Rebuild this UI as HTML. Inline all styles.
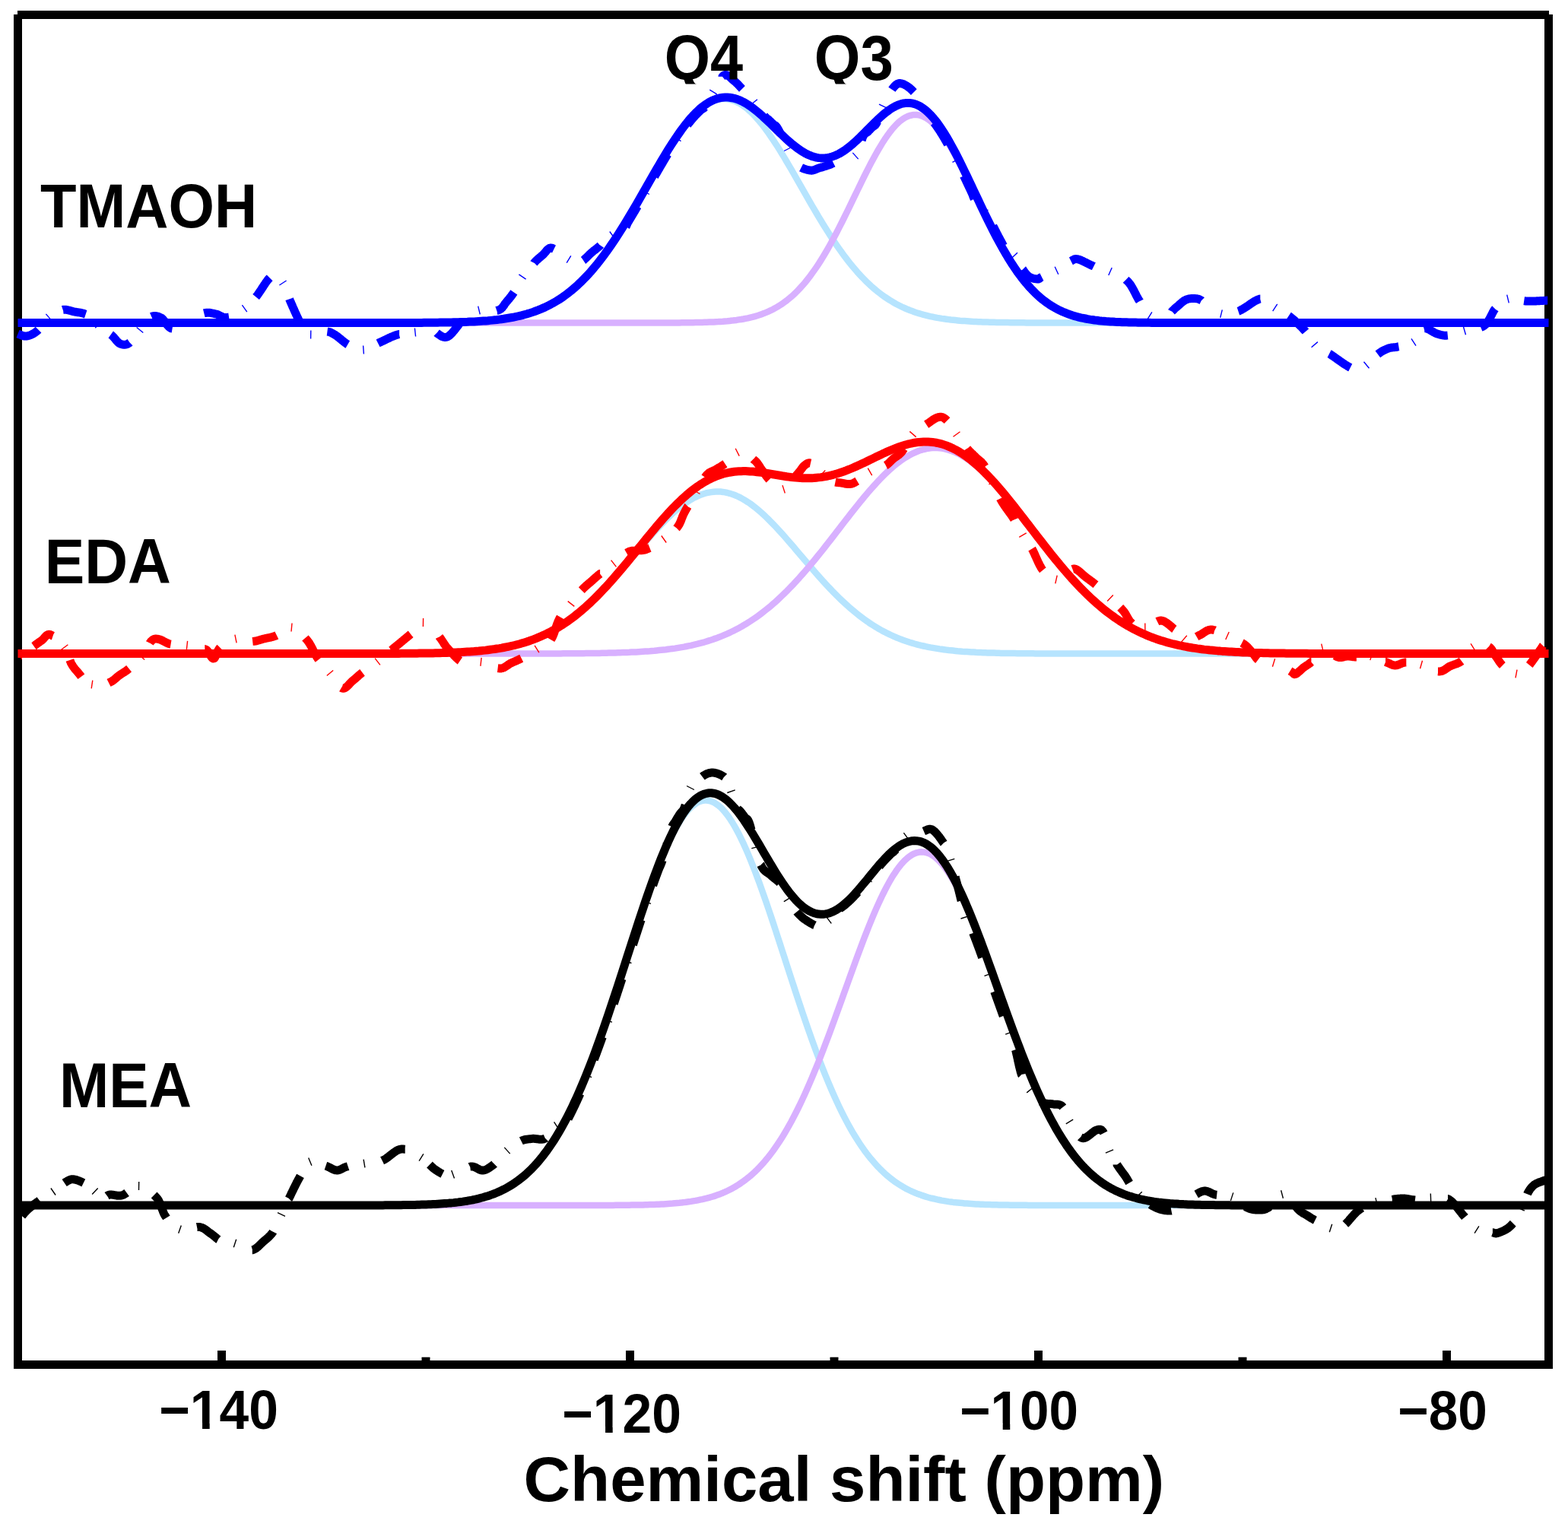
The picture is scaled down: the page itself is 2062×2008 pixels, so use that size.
<!DOCTYPE html><html><head><meta charset="utf-8"><title>29Si NMR spectra</title><style>html,body{margin:0;padding:0;background:#fff}svg{display:block}</style></head><body>
<svg width="2062" height="2008" viewBox="0 0 2062 2008">
<defs><clipPath id="qclip"><rect x="0" y="0" width="2062" height="110.5"/></clipPath></defs>
<rect width="2062" height="2008" fill="#fff"/>
<g fill="#000">
<rect x="23" y="14" width="2014" height="11"/>
<rect x="18" y="19" width="11" height="1781"/>
<rect x="2031" y="19" width="11" height="1781"/>
<rect x="18" y="1789" width="2024" height="11"/>
<rect x="286" y="1776" width="11" height="13"/>
<rect x="554.5" y="1784.7" width="11" height="4.3"/>
<rect x="823" y="1776" width="11" height="13"/>
<rect x="1091.5" y="1784.7" width="11" height="4.3"/>
<rect x="1360" y="1776" width="11" height="13"/>
<rect x="1628.5" y="1784.7" width="11" height="4.3"/>
<rect x="1897" y="1776" width="11" height="13"/>
</g>
<g fill="none" stroke-linejoin="round">
<path d="M24 424.5 L26.5 424.5 L29.5 424.5 L32.5 424.5 L35.5 424.5 L38.5 424.5 L41.5 424.5 L44.5 424.5 L47.5 424.5 L50.5 424.5 L53.5 424.5 L56.5 424.5 L59.5 424.5 L62.5 424.5 L65.5 424.5 L68.5 424.5 L71.5 424.5 L74.5 424.5 L77.5 424.5 L80.5 424.5 L83.5 424.5 L86.5 424.5 L89.5 424.5 L92.5 424.5 L95.5 424.5 L98.5 424.5 L101.5 424.5 L104.5 424.5 L107.5 424.5 L110.5 424.5 L113.5 424.5 L116.5 424.5 L119.5 424.5 L122.5 424.5 L125.5 424.5 L128.5 424.5 L131.5 424.5 L134.5 424.5 L137.5 424.5 L140.5 424.5 L143.5 424.5 L146.5 424.5 L149.5 424.5 L152.5 424.5 L155.5 424.5 L158.5 424.5 L161.5 424.5 L164.5 424.5 L167.5 424.5 L170.5 424.5 L173.5 424.5 L176.5 424.5 L179.5 424.5 L182.5 424.5 L185.5 424.5 L188.5 424.5 L191.5 424.5 L194.5 424.5 L197.5 424.5 L200.5 424.5 L203.5 424.5 L206.5 424.5 L209.5 424.5 L212.5 424.5 L215.5 424.5 L218.5 424.5 L221.5 424.5 L224.5 424.5 L227.5 424.5 L230.5 424.5 L233.5 424.5 L236.5 424.5 L239.5 424.5 L242.5 424.5 L245.5 424.5 L248.5 424.5 L251.5 424.5 L254.5 424.5 L257.5 424.5 L260.5 424.5 L263.5 424.5 L266.5 424.5 L269.5 424.5 L272.5 424.5 L275.5 424.5 L278.5 424.5 L281.5 424.5 L284.5 424.5 L287.5 424.5 L290.5 424.5 L293.5 424.5 L296.5 424.5 L299.5 424.5 L302.5 424.5 L305.5 424.5 L308.5 424.5 L311.5 424.5 L314.5 424.5 L317.5 424.5 L320.5 424.5 L323.5 424.5 L326.5 424.5 L329.5 424.5 L332.5 424.5 L335.5 424.5 L338.5 424.5 L341.5 424.5 L344.5 424.5 L347.5 424.5 L350.5 424.5 L353.5 424.5 L356.5 424.5 L359.5 424.5 L362.5 424.5 L365.5 424.5 L368.5 424.5 L371.5 424.5 L374.5 424.5 L377.5 424.5 L380.5 424.5 L383.5 424.5 L386.5 424.5 L389.5 424.5 L392.5 424.5 L395.5 424.5 L398.5 424.5 L401.5 424.5 L404.5 424.5 L407.5 424.5 L410.5 424.5 L413.5 424.5 L416.5 424.5 L419.5 424.5 L422.5 424.5 L425.5 424.5 L428.5 424.5 L431.5 424.5 L434.5 424.5 L437.5 424.5 L440.5 424.5 L443.5 424.5 L446.5 424.5 L449.5 424.5 L452.5 424.5 L455.5 424.5 L458.5 424.5 L461.5 424.5 L464.5 424.5 L467.5 424.5 L470.5 424.5 L473.5 424.5 L476.5 424.5 L479.5 424.5 L482.5 424.5 L485.5 424.5 L488.5 424.5 L491.5 424.5 L494.5 424.5 L497.5 424.5 L500.5 424.5 L503.5 424.5 L506.5 424.5 L509.5 424.5 L512.5 424.5 L515.5 424.5 L518.5 424.5 L521.5 424.5 L524.5 424.5 L527.5 424.4 L530.5 424.4 L533.5 424.4 L536.5 424.4 L539.5 424.4 L542.5 424.4 L545.5 424.4 L548.5 424.4 L551.5 424.4 L554.5 424.4 L557.5 424.3 L560.5 424.3 L563.5 424.3 L566.5 424.3 L569.5 424.2 L572.5 424.2 L575.5 424.2 L578.5 424.1 L581.5 424.1 L584.5 424.1 L587.5 424 L590.5 424 L593.5 423.9 L596.5 423.8 L599.5 423.8 L602.5 423.7 L605.5 423.6 L608.5 423.5 L611.5 423.4 L614.5 423.3 L617.5 423.1 L620.5 423 L623.5 422.9 L626.5 422.7 L629.5 422.5 L632.5 422.3 L635.5 422.1 L638.5 421.9 L641.5 421.7 L644.5 421.4 L647.5 421.1 L650.5 420.8 L653.5 420.5 L656.5 420.1 L659.5 419.7 L662.5 419.3 L665.5 418.8 L668.5 418.3 L671.5 417.8 L674.5 417.3 L677.5 416.7 L680.5 416 L683.5 415.3 L686.5 414.6 L689.5 413.8 L692.5 413 L695.5 412.1 L698.5 411.1 L701.5 410.1 L704.5 409 L707.5 407.9 L710.5 406.7 L713.5 405.4 L716.5 404.1 L719.5 402.6 L722.5 401.1 L725.5 399.5 L728.5 397.9 L731.5 396.1 L734.5 394.3 L737.5 392.3 L740.5 390.3 L743.5 388.1 L746.5 385.9 L749.5 383.5 L752.5 381.1 L755.5 378.5 L758.5 375.9 L761.5 373.1 L764.5 370.2 L767.5 367.2 L770.5 364.1 L773.5 360.9 L776.5 357.6 L779.5 354.1 L782.5 350.5 L785.5 346.9 L788.5 343.1 L791.5 339.2 L794.5 335.2 L797.5 331.1 L800.5 326.8 L803.5 322.5 L806.5 318.1 L809.5 313.6 L812.5 309 L815.5 304.3 L818.5 299.5 L821.5 294.6 L824.5 289.7 L827.5 284.7 L830.5 279.7 L833.5 274.6 L836.5 269.4 L839.5 264.2 L842.5 259 L845.5 253.8 L848.5 248.5 L851.5 243.2 L854.5 238 L857.5 232.8 L860.5 227.5 L863.5 222.4 L866.5 217.2 L869.5 212.1 L872.5 207.1 L875.5 202.2 L878.5 197.3 L881.5 192.5 L884.5 187.9 L887.5 183.3 L890.5 178.9 L893.5 174.6 L896.5 170.5 L899.5 166.5 L902.5 162.7 L905.5 159 L908.5 155.5 L911.5 152.3 L914.5 149.2 L917.5 146.3 L920.5 143.7 L923.5 141.2 L926.5 139 L929.5 137 L932.5 135.3 L935.5 133.8 L938.5 132.5 L941.5 131.5 L944.5 130.8 L947.5 130.3 L950.5 130 L953.5 130 L956.5 130.3 L959.5 130.8 L962.5 131.6 L965.5 132.6 L968.5 133.9 L971.5 135.4 L974.5 137.2 L977.5 139.1 L980.5 141.4 L983.5 143.8 L986.5 146.5 L989.5 149.4 L992.5 152.5 L995.5 155.8 L998.5 159.2 L1001.5 162.9 L1004.5 166.7 L1007.5 170.7 L1010.5 174.9 L1013.5 179.2 L1016.5 183.6 L1019.5 188.2 L1022.5 192.8 L1025.5 197.6 L1028.5 202.5 L1031.5 207.4 L1034.5 212.5 L1037.5 217.6 L1040.5 222.7 L1043.5 227.9 L1046.5 233.1 L1049.5 238.3 L1052.5 243.6 L1055.5 248.9 L1058.5 254.1 L1061.5 259.3 L1064.5 264.6 L1067.5 269.8 L1070.5 274.9 L1073.5 280 L1076.5 285.1 L1079.5 290 L1082.5 295 L1085.5 299.8 L1088.5 304.6 L1091.5 309.3 L1094.5 313.9 L1097.5 318.4 L1100.5 322.8 L1103.5 327.1 L1106.5 331.3 L1109.5 335.4 L1112.5 339.4 L1115.5 343.3 L1118.5 347.1 L1121.5 350.8 L1124.5 354.3 L1127.5 357.8 L1130.5 361.1 L1133.5 364.3 L1136.5 367.4 L1139.5 370.4 L1142.5 373.3 L1145.5 376.1 L1148.5 378.7 L1151.5 381.3 L1154.5 383.7 L1157.5 386 L1160.5 388.3 L1163.5 390.4 L1166.5 392.4 L1169.5 394.4 L1172.5 396.2 L1175.5 398 L1178.5 399.7 L1181.5 401.2 L1184.5 402.7 L1187.5 404.2 L1190.5 405.5 L1193.5 406.8 L1196.5 408 L1199.5 409.1 L1202.5 410.2 L1205.5 411.2 L1208.5 412.1 L1211.5 413 L1214.5 413.9 L1217.5 414.6 L1220.5 415.4 L1223.5 416.1 L1226.5 416.7 L1229.5 417.3 L1232.5 417.9 L1235.5 418.4 L1238.5 418.9 L1241.5 419.3 L1244.5 419.7 L1247.5 420.1 L1250.5 420.5 L1253.5 420.8 L1256.5 421.1 L1259.5 421.4 L1262.5 421.7 L1265.5 421.9 L1268.5 422.1 L1271.5 422.3 L1274.5 422.5 L1277.5 422.7 L1280.5 422.9 L1283.5 423 L1286.5 423.2 L1289.5 423.3 L1292.5 423.4 L1295.5 423.5 L1298.5 423.6 L1301.5 423.7 L1304.5 423.8 L1307.5 423.8 L1310.5 423.9 L1313.5 424 L1316.5 424 L1319.5 424.1 L1322.5 424.1 L1325.5 424.1 L1328.5 424.2 L1331.5 424.2 L1334.5 424.2 L1337.5 424.3 L1340.5 424.3 L1343.5 424.3 L1346.5 424.3 L1349.5 424.4 L1352.5 424.4 L1355.5 424.4 L1358.5 424.4 L1361.5 424.4 L1364.5 424.4 L1367.5 424.4 L1370.5 424.4 L1373.5 424.4 L1376.5 424.5 L1379.5 424.5 L1382.5 424.5 L1385.5 424.5 L1388.5 424.5 L1391.5 424.5 L1394.5 424.5 L1397.5 424.5 L1400.5 424.5 L1403.5 424.5 L1406.5 424.5 L1409.5 424.5 L1412.5 424.5 L1415.5 424.5 L1418.5 424.5 L1421.5 424.5 L1424.5 424.5 L1427.5 424.5 L1430.5 424.5 L1433.5 424.5 L1436.5 424.5 L1439.5 424.5 L1442.5 424.5 L1445.5 424.5 L1448.5 424.5 L1451.5 424.5 L1454.5 424.5 L1457.5 424.5 L1460.5 424.5 L1463.5 424.5 L1466.5 424.5 L1469.5 424.5 L1472.5 424.5 L1475.5 424.5 L1478.5 424.5 L1481.5 424.5 L1484.5 424.5 L1487.5 424.5 L1490.5 424.5 L1493.5 424.5 L1496.5 424.5 L1499.5 424.5 L1502.5 424.5 L1505.5 424.5 L1508.5 424.5 L1511.5 424.5 L1514.5 424.5 L1517.5 424.5 L1520.5 424.5 L1523.5 424.5 L1526.5 424.5 L1529.5 424.5 L1532.5 424.5 L1535.5 424.5 L1538.5 424.5 L1541.5 424.5 L1544.5 424.5 L1547.5 424.5 L1550.5 424.5 L1553.5 424.5 L1556.5 424.5 L1559.5 424.5 L1562.5 424.5 L1565.5 424.5 L1568.5 424.5 L1571.5 424.5 L1574.5 424.5 L1577.5 424.5 L1580.5 424.5 L1583.5 424.5 L1586.5 424.5 L1589.5 424.5 L1592.5 424.5 L1595.5 424.5 L1598.5 424.5 L1601.5 424.5 L1604.5 424.5 L1607.5 424.5 L1610.5 424.5 L1613.5 424.5 L1616.5 424.5 L1619.5 424.5 L1622.5 424.5 L1625.5 424.5 L1628.5 424.5 L1631.5 424.5 L1634.5 424.5 L1637.5 424.5 L1640.5 424.5 L1643.5 424.5 L1646.5 424.5 L1649.5 424.5 L1652.5 424.5 L1655.5 424.5 L1658.5 424.5 L1661.5 424.5 L1664.5 424.5 L1667.5 424.5 L1670.5 424.5 L1673.5 424.5 L1676.5 424.5 L1679.5 424.5 L1682.5 424.5 L1685.5 424.5 L1688.5 424.5 L1691.5 424.5 L1694.5 424.5 L1697.5 424.5 L1700.5 424.5 L1703.5 424.5 L1706.5 424.5 L1709.5 424.5 L1712.5 424.5 L1715.5 424.5 L1718.5 424.5 L1721.5 424.5 L1724.5 424.5 L1727.5 424.5 L1730.5 424.5 L1733.5 424.5 L1736.5 424.5 L1739.5 424.5 L1742.5 424.5 L1745.5 424.5 L1748.5 424.5 L1751.5 424.5 L1754.5 424.5 L1757.5 424.5 L1760.5 424.5 L1763.5 424.5 L1766.5 424.5 L1769.5 424.5 L1772.5 424.5 L1775.5 424.5 L1778.5 424.5 L1781.5 424.5 L1784.5 424.5 L1787.5 424.5 L1790.5 424.5 L1793.5 424.5 L1796.5 424.5 L1799.5 424.5 L1802.5 424.5 L1805.5 424.5 L1808.5 424.5 L1811.5 424.5 L1814.5 424.5 L1817.5 424.5 L1820.5 424.5 L1823.5 424.5 L1826.5 424.5 L1829.5 424.5 L1832.5 424.5 L1835.5 424.5 L1838.5 424.5 L1841.5 424.5 L1844.5 424.5 L1847.5 424.5 L1850.5 424.5 L1853.5 424.5 L1856.5 424.5 L1859.5 424.5 L1862.5 424.5 L1865.5 424.5 L1868.5 424.5 L1871.5 424.5 L1874.5 424.5 L1877.5 424.5 L1880.5 424.5 L1883.5 424.5 L1886.5 424.5 L1889.5 424.5 L1892.5 424.5 L1895.5 424.5 L1898.5 424.5 L1901.5 424.5 L1904.5 424.5 L1907.5 424.5 L1910.5 424.5 L1913.5 424.5 L1916.5 424.5 L1919.5 424.5 L1922.5 424.5 L1925.5 424.5 L1928.5 424.5 L1931.5 424.5 L1934.5 424.5 L1937.5 424.5 L1940.5 424.5 L1943.5 424.5 L1946.5 424.5 L1949.5 424.5 L1952.5 424.5 L1955.5 424.5 L1958.5 424.5 L1961.5 424.5 L1964.5 424.5 L1967.5 424.5 L1970.5 424.5 L1973.5 424.5 L1976.5 424.5 L1979.5 424.5 L1982.5 424.5 L1985.5 424.5 L1988.5 424.5 L1991.5 424.5 L1994.5 424.5 L1997.5 424.5 L2000.5 424.5 L2003.5 424.5 L2006.5 424.5 L2009.5 424.5 L2012.5 424.5 L2015.5 424.5 L2018.5 424.5 L2021.5 424.5 L2024.5 424.5 L2027.5 424.5 L2030.5 424.5 L2033.5 424.5 L2036 424.5" stroke="#B6E4FE" stroke-width="8.5"/>
<path d="M24 424.5 L26.5 424.5 L29.5 424.5 L32.5 424.5 L35.5 424.5 L38.5 424.5 L41.5 424.5 L44.5 424.5 L47.5 424.5 L50.5 424.5 L53.5 424.5 L56.5 424.5 L59.5 424.5 L62.5 424.5 L65.5 424.5 L68.5 424.5 L71.5 424.5 L74.5 424.5 L77.5 424.5 L80.5 424.5 L83.5 424.5 L86.5 424.5 L89.5 424.5 L92.5 424.5 L95.5 424.5 L98.5 424.5 L101.5 424.5 L104.5 424.5 L107.5 424.5 L110.5 424.5 L113.5 424.5 L116.5 424.5 L119.5 424.5 L122.5 424.5 L125.5 424.5 L128.5 424.5 L131.5 424.5 L134.5 424.5 L137.5 424.5 L140.5 424.5 L143.5 424.5 L146.5 424.5 L149.5 424.5 L152.5 424.5 L155.5 424.5 L158.5 424.5 L161.5 424.5 L164.5 424.5 L167.5 424.5 L170.5 424.5 L173.5 424.5 L176.5 424.5 L179.5 424.5 L182.5 424.5 L185.5 424.5 L188.5 424.5 L191.5 424.5 L194.5 424.5 L197.5 424.5 L200.5 424.5 L203.5 424.5 L206.5 424.5 L209.5 424.5 L212.5 424.5 L215.5 424.5 L218.5 424.5 L221.5 424.5 L224.5 424.5 L227.5 424.5 L230.5 424.5 L233.5 424.5 L236.5 424.5 L239.5 424.5 L242.5 424.5 L245.5 424.5 L248.5 424.5 L251.5 424.5 L254.5 424.5 L257.5 424.5 L260.5 424.5 L263.5 424.5 L266.5 424.5 L269.5 424.5 L272.5 424.5 L275.5 424.5 L278.5 424.5 L281.5 424.5 L284.5 424.5 L287.5 424.5 L290.5 424.5 L293.5 424.5 L296.5 424.5 L299.5 424.5 L302.5 424.5 L305.5 424.5 L308.5 424.5 L311.5 424.5 L314.5 424.5 L317.5 424.5 L320.5 424.5 L323.5 424.5 L326.5 424.5 L329.5 424.5 L332.5 424.5 L335.5 424.5 L338.5 424.5 L341.5 424.5 L344.5 424.5 L347.5 424.5 L350.5 424.5 L353.5 424.5 L356.5 424.5 L359.5 424.5 L362.5 424.5 L365.5 424.5 L368.5 424.5 L371.5 424.5 L374.5 424.5 L377.5 424.5 L380.5 424.5 L383.5 424.5 L386.5 424.5 L389.5 424.5 L392.5 424.5 L395.5 424.5 L398.5 424.5 L401.5 424.5 L404.5 424.5 L407.5 424.5 L410.5 424.5 L413.5 424.5 L416.5 424.5 L419.5 424.5 L422.5 424.5 L425.5 424.5 L428.5 424.5 L431.5 424.5 L434.5 424.5 L437.5 424.5 L440.5 424.5 L443.5 424.5 L446.5 424.5 L449.5 424.5 L452.5 424.5 L455.5 424.5 L458.5 424.5 L461.5 424.5 L464.5 424.5 L467.5 424.5 L470.5 424.5 L473.5 424.5 L476.5 424.5 L479.5 424.5 L482.5 424.5 L485.5 424.5 L488.5 424.5 L491.5 424.5 L494.5 424.5 L497.5 424.5 L500.5 424.5 L503.5 424.5 L506.5 424.5 L509.5 424.5 L512.5 424.5 L515.5 424.5 L518.5 424.5 L521.5 424.5 L524.5 424.5 L527.5 424.5 L530.5 424.5 L533.5 424.5 L536.5 424.5 L539.5 424.5 L542.5 424.5 L545.5 424.5 L548.5 424.5 L551.5 424.5 L554.5 424.5 L557.5 424.5 L560.5 424.5 L563.5 424.5 L566.5 424.5 L569.5 424.5 L572.5 424.5 L575.5 424.5 L578.5 424.5 L581.5 424.5 L584.5 424.5 L587.5 424.5 L590.5 424.5 L593.5 424.5 L596.5 424.5 L599.5 424.5 L602.5 424.5 L605.5 424.5 L608.5 424.5 L611.5 424.5 L614.5 424.5 L617.5 424.5 L620.5 424.5 L623.5 424.5 L626.5 424.5 L629.5 424.5 L632.5 424.5 L635.5 424.5 L638.5 424.5 L641.5 424.5 L644.5 424.5 L647.5 424.5 L650.5 424.5 L653.5 424.5 L656.5 424.5 L659.5 424.5 L662.5 424.5 L665.5 424.5 L668.5 424.5 L671.5 424.5 L674.5 424.5 L677.5 424.5 L680.5 424.5 L683.5 424.5 L686.5 424.5 L689.5 424.5 L692.5 424.5 L695.5 424.5 L698.5 424.5 L701.5 424.5 L704.5 424.5 L707.5 424.5 L710.5 424.5 L713.5 424.5 L716.5 424.5 L719.5 424.5 L722.5 424.5 L725.5 424.5 L728.5 424.5 L731.5 424.5 L734.5 424.5 L737.5 424.5 L740.5 424.5 L743.5 424.5 L746.5 424.5 L749.5 424.5 L752.5 424.5 L755.5 424.5 L758.5 424.5 L761.5 424.5 L764.5 424.5 L767.5 424.5 L770.5 424.5 L773.5 424.5 L776.5 424.5 L779.5 424.5 L782.5 424.5 L785.5 424.5 L788.5 424.5 L791.5 424.5 L794.5 424.5 L797.5 424.5 L800.5 424.5 L803.5 424.5 L806.5 424.5 L809.5 424.5 L812.5 424.5 L815.5 424.5 L818.5 424.5 L821.5 424.5 L824.5 424.5 L827.5 424.5 L830.5 424.5 L833.5 424.5 L836.5 424.5 L839.5 424.5 L842.5 424.5 L845.5 424.5 L848.5 424.5 L851.5 424.5 L854.5 424.5 L857.5 424.5 L860.5 424.5 L863.5 424.5 L866.5 424.5 L869.5 424.5 L872.5 424.4 L875.5 424.4 L878.5 424.4 L881.5 424.4 L884.5 424.4 L887.5 424.4 L890.5 424.4 L893.5 424.4 L896.5 424.3 L899.5 424.3 L902.5 424.3 L905.5 424.2 L908.5 424.2 L911.5 424.2 L914.5 424.1 L917.5 424 L920.5 424 L923.5 423.9 L926.5 423.8 L929.5 423.7 L932.5 423.6 L935.5 423.5 L938.5 423.4 L941.5 423.2 L944.5 423.1 L947.5 422.9 L950.5 422.7 L953.5 422.4 L956.5 422.2 L959.5 421.9 L962.5 421.6 L965.5 421.2 L968.5 420.9 L971.5 420.4 L974.5 420 L977.5 419.5 L980.5 418.9 L983.5 418.3 L986.5 417.6 L989.5 416.9 L992.5 416.1 L995.5 415.2 L998.5 414.3 L1001.5 413.2 L1004.5 412.1 L1007.5 410.9 L1010.5 409.6 L1013.5 408.2 L1016.5 406.7 L1019.5 405.1 L1022.5 403.4 L1025.5 401.5 L1028.5 399.6 L1031.5 397.4 L1034.5 395.2 L1037.5 392.8 L1040.5 390.3 L1043.5 387.6 L1046.5 384.7 L1049.5 381.7 L1052.5 378.5 L1055.5 375.2 L1058.5 371.7 L1061.5 368 L1064.5 364.2 L1067.5 360.1 L1070.5 355.9 L1073.5 351.6 L1076.5 347.1 L1079.5 342.4 L1082.5 337.5 L1085.5 332.5 L1088.5 327.3 L1091.5 322 L1094.5 316.5 L1097.5 311 L1100.5 305.2 L1103.5 299.4 L1106.5 293.5 L1109.5 287.5 L1112.5 281.4 L1115.5 275.3 L1118.5 269.1 L1121.5 262.9 L1124.5 256.7 L1127.5 250.5 L1130.5 244.3 L1133.5 238.1 L1136.5 232 L1139.5 226 L1142.5 220.1 L1145.5 214.3 L1148.5 208.7 L1151.5 203.2 L1154.5 197.9 L1157.5 192.8 L1160.5 187.9 L1163.5 183.2 L1166.5 178.8 L1169.5 174.7 L1172.5 170.8 L1175.5 167.3 L1178.5 164 L1181.5 161.1 L1184.5 158.6 L1187.5 156.4 L1190.5 154.5 L1193.5 153.1 L1196.5 152 L1199.5 151.3 L1202.5 150.9 L1205.5 151 L1208.5 151.4 L1211.5 152.2 L1214.5 153.4 L1217.5 155 L1220.5 156.9 L1223.5 159.2 L1226.5 161.9 L1229.5 164.9 L1232.5 168.2 L1235.5 171.8 L1238.5 175.7 L1241.5 179.9 L1244.5 184.4 L1247.5 189.1 L1250.5 194.1 L1253.5 199.3 L1256.5 204.6 L1259.5 210.2 L1262.5 215.9 L1265.5 221.7 L1268.5 227.6 L1271.5 233.7 L1274.5 239.8 L1277.5 245.9 L1280.5 252.1 L1283.5 258.3 L1286.5 264.6 L1289.5 270.8 L1292.5 276.9 L1295.5 283.1 L1298.5 289.1 L1301.5 295.1 L1304.5 301 L1307.5 306.8 L1310.5 312.5 L1313.5 318 L1316.5 323.4 L1319.5 328.7 L1322.5 333.8 L1325.5 338.8 L1328.5 343.6 L1331.5 348.3 L1334.5 352.8 L1337.5 357.1 L1340.5 361.2 L1343.5 365.2 L1346.5 369 L1349.5 372.6 L1352.5 376.1 L1355.5 379.4 L1358.5 382.5 L1361.5 385.5 L1364.5 388.3 L1367.5 391 L1370.5 393.5 L1373.5 395.8 L1376.5 398 L1379.5 400.1 L1382.5 402.1 L1385.5 403.9 L1388.5 405.6 L1391.5 407.2 L1394.5 408.6 L1397.5 410 L1400.5 411.3 L1403.5 412.4 L1406.5 413.5 L1409.5 414.5 L1412.5 415.5 L1415.5 416.3 L1418.5 417.1 L1421.5 417.8 L1424.5 418.5 L1427.5 419.1 L1430.5 419.6 L1433.5 420.1 L1436.5 420.5 L1439.5 421 L1442.5 421.3 L1445.5 421.7 L1448.5 422 L1451.5 422.3 L1454.5 422.5 L1457.5 422.7 L1460.5 422.9 L1463.5 423.1 L1466.5 423.3 L1469.5 423.4 L1472.5 423.5 L1475.5 423.7 L1478.5 423.8 L1481.5 423.8 L1484.5 423.9 L1487.5 424 L1490.5 424.1 L1493.5 424.1 L1496.5 424.2 L1499.5 424.2 L1502.5 424.2 L1505.5 424.3 L1508.5 424.3 L1511.5 424.3 L1514.5 424.4 L1517.5 424.4 L1520.5 424.4 L1523.5 424.4 L1526.5 424.4 L1529.5 424.4 L1532.5 424.4 L1535.5 424.4 L1538.5 424.5 L1541.5 424.5 L1544.5 424.5 L1547.5 424.5 L1550.5 424.5 L1553.5 424.5 L1556.5 424.5 L1559.5 424.5 L1562.5 424.5 L1565.5 424.5 L1568.5 424.5 L1571.5 424.5 L1574.5 424.5 L1577.5 424.5 L1580.5 424.5 L1583.5 424.5 L1586.5 424.5 L1589.5 424.5 L1592.5 424.5 L1595.5 424.5 L1598.5 424.5 L1601.5 424.5 L1604.5 424.5 L1607.5 424.5 L1610.5 424.5 L1613.5 424.5 L1616.5 424.5 L1619.5 424.5 L1622.5 424.5 L1625.5 424.5 L1628.5 424.5 L1631.5 424.5 L1634.5 424.5 L1637.5 424.5 L1640.5 424.5 L1643.5 424.5 L1646.5 424.5 L1649.5 424.5 L1652.5 424.5 L1655.5 424.5 L1658.5 424.5 L1661.5 424.5 L1664.5 424.5 L1667.5 424.5 L1670.5 424.5 L1673.5 424.5 L1676.5 424.5 L1679.5 424.5 L1682.5 424.5 L1685.5 424.5 L1688.5 424.5 L1691.5 424.5 L1694.5 424.5 L1697.5 424.5 L1700.5 424.5 L1703.5 424.5 L1706.5 424.5 L1709.5 424.5 L1712.5 424.5 L1715.5 424.5 L1718.5 424.5 L1721.5 424.5 L1724.5 424.5 L1727.5 424.5 L1730.5 424.5 L1733.5 424.5 L1736.5 424.5 L1739.5 424.5 L1742.5 424.5 L1745.5 424.5 L1748.5 424.5 L1751.5 424.5 L1754.5 424.5 L1757.5 424.5 L1760.5 424.5 L1763.5 424.5 L1766.5 424.5 L1769.5 424.5 L1772.5 424.5 L1775.5 424.5 L1778.5 424.5 L1781.5 424.5 L1784.5 424.5 L1787.5 424.5 L1790.5 424.5 L1793.5 424.5 L1796.5 424.5 L1799.5 424.5 L1802.5 424.5 L1805.5 424.5 L1808.5 424.5 L1811.5 424.5 L1814.5 424.5 L1817.5 424.5 L1820.5 424.5 L1823.5 424.5 L1826.5 424.5 L1829.5 424.5 L1832.5 424.5 L1835.5 424.5 L1838.5 424.5 L1841.5 424.5 L1844.5 424.5 L1847.5 424.5 L1850.5 424.5 L1853.5 424.5 L1856.5 424.5 L1859.5 424.5 L1862.5 424.5 L1865.5 424.5 L1868.5 424.5 L1871.5 424.5 L1874.5 424.5 L1877.5 424.5 L1880.5 424.5 L1883.5 424.5 L1886.5 424.5 L1889.5 424.5 L1892.5 424.5 L1895.5 424.5 L1898.5 424.5 L1901.5 424.5 L1904.5 424.5 L1907.5 424.5 L1910.5 424.5 L1913.5 424.5 L1916.5 424.5 L1919.5 424.5 L1922.5 424.5 L1925.5 424.5 L1928.5 424.5 L1931.5 424.5 L1934.5 424.5 L1937.5 424.5 L1940.5 424.5 L1943.5 424.5 L1946.5 424.5 L1949.5 424.5 L1952.5 424.5 L1955.5 424.5 L1958.5 424.5 L1961.5 424.5 L1964.5 424.5 L1967.5 424.5 L1970.5 424.5 L1973.5 424.5 L1976.5 424.5 L1979.5 424.5 L1982.5 424.5 L1985.5 424.5 L1988.5 424.5 L1991.5 424.5 L1994.5 424.5 L1997.5 424.5 L2000.5 424.5 L2003.5 424.5 L2006.5 424.5 L2009.5 424.5 L2012.5 424.5 L2015.5 424.5 L2018.5 424.5 L2021.5 424.5 L2024.5 424.5 L2027.5 424.5 L2030.5 424.5 L2033.5 424.5 L2036 424.5" stroke="#D8B0FF" stroke-width="8.5"/>
<path d="M23.5 439 L23.5 439 L24 439.2 L24.7 439.4 L25.5 439.8 L26.4 440.1 L27.3 440.5 L28.4 440.9 L29.4 441.3 L30.6 441.6 L31.7 441.9 L32.8 442 L33.9 442.1 L35 442 L35.8 441.9 L36.6 441.7 L37.5 441.5 L38.3 441.2 L39.2 440.9 L40 440.6 L40.9 440.2 L41.8 439.8 L42.7 439.4 L43.6 438.9 L44.5 438.3 L45.4 437.8 L46.3 437.1 L47.2 436.5 L48.1 435.8 L49 435 L49.6 434.5 L50.2 433.9 L50.5 433.6 M82.7 407.4 L83 407.3 L84 407.2 L84.9 407.2 L85.9 407.2 L86.9 407.3 L87.8 407.4 L88.7 407.6 L89.7 407.8 L90.6 408 L91.5 408.3 L92.4 408.5 L93.4 408.8 L94.3 409.1 L95.2 409.3 L96.1 409.6 L97.1 409.8 L98 410 L98.9 410.2 L99.9 410.3 L100.8 410.5 L101.8 410.6 L102.7 410.8 L103.6 410.9 L104.6 411 L105.5 411.2 L106.5 411.4 L107.4 411.6 L108.4 411.8 L109.3 412 L110.2 412.3 L111.2 412.7 L112.1 413.1 L112.7 413.3 M145.7 440 L146.4 440.5 L147 441 L147.9 441.8 L148.7 442.6 L149.4 443.4 L150.1 444.2 L150.8 445 L151.5 445.8 L152.2 446.6 L152.8 447.4 L153.4 448.1 L154.1 448.8 L154.7 449.5 L155.3 450.1 L156 450.7 L156.6 451.2 L157.3 451.6 L158 452 L158.9 452.4 L159.8 452.7 L160.7 452.9 L161.6 453.1 L162.5 453.2 L163.4 453.3 L164.3 453.2 L165.2 453.1 L166.1 452.9 L167.1 452.6 L168 452.2 L169 451.6 L170 451 L170.6 450.6 L170.7 450.5 M199.2 416.4 L199.9 416.1 L200.8 415.8 L201.7 415.6 L202.7 415.5 L203.6 415.5 L204.5 415.5 L205.5 415.6 L206.4 415.8 L207.3 416 L208.3 416.3 L209.2 416.7 L210.1 417.1 L211.1 417.5 L212 418 L212.7 418.4 L213.4 419 L214 419.6 L214.7 420.3 L215.3 421.1 L216 421.9 L216.6 422.8 L217.3 423.7 L217.9 424.6 L218.6 425.5 L219.2 426.4 L219.9 427.3 L220.6 428.1 L221.3 428.9 L222 429.7 L222.8 430.3 L223.5 430.9 L224.3 431.4 L225.1 431.8 L226 432 L226.6 432.1 M268.3 411.9 L269.1 411.7 L270.1 411.5 L271.1 411.3 L272.1 411.2 L273.1 411.2 L274.1 411.2 L275 411.2 L275.9 411.3 L276.8 411.5 L277.7 411.6 L278.6 411.8 L279.5 412 L280.4 412.2 L281.3 412.4 L282.2 412.6 L283.1 412.8 L284 413 L285 413.2 L285.9 413.5 L286.8 413.9 L287.6 414.3 L288.5 414.7 L289.4 415.2 L290.2 415.6 L291.1 416.1 L292 416.5 L292.9 416.9 L293.8 417.2 L294.7 417.4 L295.7 417.6 L296.8 417.7 L297.9 417.7 L299 417.5 L299.7 417.3 L300.5 417.1 L301.1 417 M336.6 390.5 L337 390 L337.5 389.3 L338.1 388.6 L338.7 387.8 L339.2 387.1 L339.8 386.2 L340.4 385.4 L341 384.5 L341.6 383.6 L342.2 382.7 L342.8 381.8 L343.5 380.9 L344.1 379.9 L344.7 379 L345.3 378.1 L345.9 377.1 L346.5 376.2 L347.1 375.3 L347.7 374.4 L348.3 373.5 L348.9 372.7 L349.4 371.8 L350 371 L350.5 370.3 L351.1 369.5 L351.6 368.8 L352.1 368.2 L352.6 367.5 L353.1 367 L353.6 366.5 L354 366 L354.7 365.3 M380.6 393.3 L380.7 393.6 L381.1 394.5 L381.4 395.3 L381.8 396.2 L382.2 397.1 L382.6 398.1 L383 399 L383.4 400 L383.9 400.9 L384.3 401.9 L384.7 402.9 L385.1 403.9 L385.6 404.8 L386 405.8 L386.4 406.8 L386.9 407.8 L387.3 408.7 L387.7 409.7 L388.1 410.6 L388.6 411.6 L389 412.5 L389.4 413.4 L389.8 414.3 L390.2 415.1 L390.6 415.9 L390.9 416.8 L391.3 417.5 L391.7 418.3 L392 419 L392.6 420.2 L393.1 421.4 L393.7 422.5 L394.2 423.5 L394.2 423.7 M430.4 436.1 L431.2 436.2 L432.1 436.3 L432.9 436.5 L433.7 436.7 L434.5 437 L435.2 437.4 L436.1 437.8 L436.9 438.2 L437.8 438.8 L438.9 439.3 L440 440 L440.7 440.4 L441.3 440.8 L442 441.3 L442.8 441.8 L443.5 442.4 L444.3 443 L445 443.6 L445.8 444.2 L446.6 444.9 L447.4 445.5 L448.2 446.2 L449.1 446.9 L449.9 447.6 L450.7 448.2 L451.6 448.9 L452.4 449.6 L453.2 450.2 L454.1 450.8 L454.9 451.4 L455.8 452 L456.6 452.6 L457.3 453 M497.1 451.4 L497.3 451.3 L498.2 450.8 L499.1 450.4 L500 450 L500.9 449.6 L501.7 449.2 L502.6 448.8 L503.5 448.4 L504.4 448 L505.2 447.5 L506.1 447.1 L507 446.7 L507.9 446.3 L508.8 445.8 L509.7 445.4 L510.5 445 L511.4 444.6 L512.3 444.1 L513.2 443.7 L514.1 443.3 L515 442.9 L515.9 442.6 L516.8 442.2 L517.7 441.8 L518.6 441.5 L519.5 441.2 L520.3 440.8 L521.2 440.5 L522.1 440.3 L523 440 L524 439.7 L524.9 439.5 L525.1 439.5 M574.3 437.8 L574.4 437.9 L575.3 438.6 L576.2 439.2 L577.1 439.8 L577.9 440.4 L578.8 441 L579.7 441.6 L580.6 442.1 L581.5 442.6 L582.4 442.9 L583.3 443.2 L584.2 443.4 L585.1 443.5 L586.1 443.5 L587 443.3 L588 443 L588.6 442.7 L589.3 442.4 L589.9 442 L590.6 441.5 L591.3 441 L591.9 440.4 L592.6 439.7 L593.3 439.1 L594 438.4 L594.7 437.6 L595.4 436.8 L596.1 436 L596.8 435.2 L597.5 434.3 L598.2 433.4 L598.9 432.5 L599.6 431.6 L600.3 430.7 L601 429.8 L601.7 428.9 L602.4 428 L603.1 427 L603.7 426.1 L604.4 425.3 L605.1 424.4 L605.8 423.5 L605.9 423.4 M653.2 408.4 L653.5 408.3 L654.3 408.2 L655 408 L656.1 407.6 L657.1 407.2 L657.9 406.6 L658.8 406.1 L659.5 405.4 L660.2 404.8 L660.8 404.1 L661.4 403.3 L662 402.5 L662.6 401.8 L663.1 401 L663.6 400.1 L664.2 399.3 L664.8 398.5 L665.4 397.8 L666 397 L666.6 396.3 L667.2 395.6 L667.8 394.9 L668.4 394.2 L669 393.5 L669.6 392.8 L670.1 392.1 L670.7 391.4 L671.3 390.7 L671.9 390 L672.4 389.2 L673 388.4 L673.6 387.6 L674.2 386.7 L674.8 385.9 L675.4 385 L675.8 384.4 M702.3 345.8 L702.4 345.6 L703 345 L703.9 344.1 L704.7 343.2 L705.5 342.4 L706.3 341.7 L707.1 341 L707.8 340.3 L708.5 339.7 L709.2 339.1 L709.9 338.5 L710.6 337.9 L711.3 337.4 L711.9 336.8 L712.6 336.2 L713.3 335.6 L714 335 L714.7 334.3 L715.5 333.5 L716.2 332.7 L716.9 331.9 L717.6 331.1 L718.3 330.2 L718.9 329.4 L719.6 328.7 L720.3 328 L721 327.4 L721.7 326.9 L722.5 326.4 L723.2 326.1 L724 326 L724.8 326 L725.6 326.2 L726.4 326.4 L727.3 326.8 L728.1 327.3 L728.5 327.5 M767.1 342.3 L767.4 342.1 L768.1 341.5 L768.8 340.9 L769.5 340.2 L770.3 339.5 L771 338.8 L771.8 338.1 L772.5 337.3 L773.3 336.6 L774 335.8 L774.8 335.1 L775.5 334.3 L776.3 333.7 L777 333 L777.7 332.4 L778.4 331.8 L779.1 331.2 L779.8 330.7 L780.4 330.1 L781.1 329.6 L781.8 329.1 L782.5 328.5 L783.2 328 L783.9 327.4 L784.6 326.8 L785.4 326.2 L786.2 325.5 L787.1 324.8 L788 324 L788.6 323.5 L789.3 322.9 L789.5 322.6 M823 298.2 L823.1 298 L823.6 297.2 L824 296.4 L824.3 295.5 L824.7 294.7 L825.1 293.8 L825.5 293 L826 292.2 L826.5 291.4 L827 290.5 L827.5 289.7 L828 288.9 L828.5 288 L829 287.2 L829.5 286.4 L830 285.5 L830.5 284.7 L831 283.9 L831.5 283 L832 282.2 L832.5 281.3 L833 280.5 L833.5 279.7 L834 278.8 L834.5 278 L835 277.1 L835.5 276.3 L836 275.4 L836.5 274.6 L837 273.7 L837.5 272.8 L838 272 L838.4 271.3 M860.8 232.2 L861.1 231.7 L861.5 230.9 L862 230.1 L862.5 229.2 L863 228.4 L863.5 227.5 L864 226.6 L864.5 225.8 L865 224.9 L865.5 224 L866 223.2 L866.5 222.3 L867 221.5 L867.5 220.6 L868 219.7 L868.5 218.9 L869 218 L869.5 217.2 L870 216.3 L870.5 215.5 L871 214.6 L871.5 213.8 L872 212.9 L872.5 212.1 L873 211.2 L873.5 210.4 L874 209.6 L874.5 208.7 L875 207.9 L875.5 207.1 L876 206.2 L876.5 205.4 L877 204.6 L877.5 203.7 L878 202.9 L878.2 202.6 M904.1 164.2 L904.6 163.6 L905.2 162.8 L905.8 162 L906.4 161.3 L907 160.6 L907.6 159.8 L908.2 159.1 L908.8 158.4 L909.4 157.7 L910 157 L910.7 156.2 L911.3 155.4 L912 154.7 L912.7 153.9 L913.3 153.2 L914 152.5 L914.7 151.7 L915.3 151 L916 150.3 L916.7 149.6 L917.3 149 L918 148.3 L918.7 147.6 L919.3 147 L920 146.3 L920.7 145.7 L921.3 145.1 L922 144.5 L922.7 143.9 L923.4 143.5 L924.1 143.1 L924.8 142.7 L925.5 142.3 L926.2 141.6 L927 140.8 M949.9 100.8 L949.9 100.7 L950.5 100.2 L951 99.7 L951.5 99.3 L952 99 L952.9 98.6 L953.8 98.4 L954.7 98.5 L955.6 98.7 L956.4 99 L957.3 99.5 L958.2 100.1 L959.1 100.7 L959.9 101.4 L960.8 102.2 L961.6 103 L962.5 103.8 L963.3 104.6 L964.2 105.3 L965 106 L965.7 106.6 L966.4 107.2 L967.2 107.8 L967.8 108.4 L968.5 109.1 L969.2 109.7 L969.9 110.4 L970.6 111.1 L971.3 111.8 L972 112.6 L972.7 113.3 L973.4 114.1 L974.1 114.8 L974.8 115.6 L975.5 116.4 L975.9 116.8 M1005 152.1 L1006 153.3 L1006.9 154.2 L1007.6 154.9 L1008.2 155.4 L1008.8 155.9 L1009.3 156.3 L1009.8 156.6 L1010.4 157.1 L1011 157.6 L1011.7 158.3 L1012.3 158.9 L1013 159.5 L1013.7 160.2 L1014.3 160.8 L1015 161.5 L1015.7 162.1 L1016.3 162.8 L1017 163.4 L1017.6 163.9 L1018.2 164.3 L1018.7 164.6 L1019.3 164.9 L1019.9 165.2 L1020.5 165.8 L1021.2 166.6 L1022 167.7 L1023 169.3 L1023.3 169.9 L1023.7 170.5 L1024 171.1 L1024.4 171.9 L1024.8 172.6 L1025.2 173.4 L1025.6 174.2 L1026 175.1 L1026.4 175.8 M1053.6 220.4 L1054 220.6 L1055 221 L1055.9 221.4 L1056.9 221.8 L1057.9 222.2 L1058.9 222.5 L1059.8 222.8 L1060.8 223.1 L1061.7 223.3 L1062.6 223.5 L1063.4 223.7 L1064.2 223.9 L1065 224 L1066.1 224.1 L1067.2 224.2 L1068.2 224.1 L1069.1 223.9 L1070 223.7 L1070.9 223.4 L1071.7 223.1 L1072.6 222.7 L1073.4 222.4 L1074.3 222 L1075.2 221.6 L1076.1 221.3 L1077 221 L1077.9 220.7 L1078.8 220.5 L1079.7 220.2 L1080.7 220 L1081.6 219.7 L1082.6 219.4 L1083.5 219.1 L1084.4 218.8 L1085.4 218.5 L1086.3 218.2 L1087.3 217.9 L1088.2 217.6 L1089.1 217.3 L1090 217 L1090.9 216.7 L1091.8 216.3 L1092.6 216 L1093.4 215.6 L1094.2 215.2 L1095 214.9 L1095.8 214.5 L1096 214.4 M1133.2 184.5 L1133.4 183.9 L1133.6 183.1 L1133.9 182.2 L1134.2 181.4 L1134.4 180.7 L1134.7 180 L1135 179.4 L1135.8 177.9 L1136.6 176.8 L1137.3 176 L1137.9 175.4 L1138.6 175 L1139.1 174.7 L1139.7 174.4 L1140.4 174 L1141 173.5 L1141.7 172.8 L1142.3 172.1 L1143 171.4 L1143.7 170.8 L1144.3 170.1 L1145 169.4 L1145.7 168.7 L1146.3 168.1 L1147 167.4 L1147.7 166.8 L1148.3 166.4 L1148.9 166 L1149.6 165.6 L1150.2 165.1 L1150.9 164.6 L1151.5 163.8 L1152.2 162.8 L1153 161.4 L1153.3 160.8 L1153.4 160.4 M1173 117.7 L1173.2 117.4 L1173.6 116.7 L1174.1 116.1 L1174.6 115.5 L1175 115 L1175.9 113.9 L1176.8 113 L1177.6 112.2 L1178.4 111.5 L1179.2 110.9 L1179.9 110.4 L1180.7 110 L1181.5 109.8 L1182.3 109.6 L1183.1 109.6 L1184 109.6 L1185 109.8 L1186 110 L1186.7 110.2 L1187.3 110.4 L1188 110.7 L1188.8 111 L1189.5 111.4 L1190.3 111.8 L1191 112.2 L1191.8 112.7 L1192.6 113.2 L1193.4 113.7 L1194.2 114.3 L1195.1 114.9 L1195.9 115.5 L1196.7 116.2 L1197.5 116.9 L1198.3 117.6 L1199.2 118.3 L1199.9 119.1 L1200.7 119.9 L1201.5 120.8 L1201.8 121.1 M1228.3 161.3 L1228.8 161.9 L1229.4 162.8 L1230 163.6 L1230.5 164.3 L1231.1 165.1 L1231.6 165.9 L1232.2 166.7 L1232.7 167.5 L1233.3 168.3 L1233.8 169.1 L1234.4 169.9 L1234.9 170.7 L1235.5 171.6 L1236 172.4 L1236.5 173.2 L1237 174 L1237.5 174.8 L1238 175.6 L1238.5 176.4 L1239 177.2 L1239.5 178 L1240 178.8 L1240.5 179.6 L1241 180.5 L1241.5 181.3 L1242 182.2 L1242.5 183 L1242.9 183.8 L1243.4 184.6 L1243.8 185.4 L1244.3 186.2 L1244.8 187 L1245.2 187.8 L1245.7 188.6 L1246.2 189.5 L1246.5 190.1 M1267.5 231.4 L1267.7 231.9 L1268.1 232.8 L1268.6 233.7 L1269 234.6 L1269.4 235.5 L1269.9 236.4 L1270.3 237.3 L1270.7 238.3 L1271.1 239.2 L1271.6 240.1 L1272 241 L1272.4 241.8 L1272.8 242.7 L1273.2 243.5 L1273.6 244.3 L1274 245.2 L1274.4 246 L1274.8 246.9 L1275.2 247.7 L1275.6 248.6 L1276 249.4 L1276.4 250.3 L1276.8 251.1 L1277.2 252 L1277.6 252.8 L1278 253.7 L1278.4 254.5 L1278.7 255.3 L1279 256.1 L1279.3 256.9 L1279.6 257.7 L1279.9 258.5 L1280.2 259.3 L1280.5 260.1 L1280.9 260.9 L1281.2 261.5 M1305.8 296.8 L1306 297.3 L1306.4 298.1 L1306.9 299 L1307.3 299.8 L1307.7 300.7 L1308.1 301.5 L1308.6 302.4 L1309 303.2 L1309.4 304 L1309.9 304.9 L1310.3 305.7 L1310.7 306.5 L1311.1 307.4 L1311.6 308.2 L1312 309 L1312.5 309.9 L1312.9 310.8 L1313.4 311.6 L1313.8 312.5 L1314.3 313.4 L1314.8 314.2 L1315.2 315.1 L1315.7 316 L1316.2 316.8 L1316.6 317.7 L1317.1 318.5 L1317.5 319.4 L1318 320.2 L1318.5 321.1 L1318.9 321.9 L1319.3 322.8 L1319.5 323.2 M1345.1 354.2 L1345.2 354.3 L1345.7 355.2 L1346.3 356.1 L1346.8 356.9 L1347.4 357.7 L1347.9 358.5 L1348.5 359.2 L1349 359.8 L1349.5 360.5 L1350 361 L1350.9 361.9 L1351.9 362.7 L1352.8 363.4 L1353.8 364.1 L1354.8 364.6 L1355.7 365.1 L1356.6 365.5 L1357.6 365.8 L1358.5 366.1 L1359.4 366.3 L1360.2 366.5 L1361 366.6 L1361.8 366.7 L1362.6 366.8 L1363.3 366.9 L1364 367 L1365.1 367.1 L1365.9 366.9 L1366.5 366.6 L1367 366.2 L1367.6 365.7 L1368.4 365 L1369.5 364.3 L1369.9 364.1 M1408.4 343.3 L1409 343 L1410.1 342.4 L1411.1 341.8 L1411.9 341.4 L1412.6 341 L1413.2 340.8 L1413.9 340.6 L1414.7 340.5 L1415.6 340.6 L1416.7 340.7 L1418 341 L1418.7 341.2 L1419.4 341.4 L1420.2 341.7 L1420.9 342 L1421.8 342.3 L1422.6 342.7 L1423.5 343.1 L1424.4 343.5 L1425.3 344 L1426.2 344.5 L1427.2 344.9 L1428.2 345.4 L1429.1 345.9 L1430.1 346.4 L1431.1 346.9 L1432.1 347.4 L1433.1 347.9 L1434.1 348.3 L1435.1 348.8 L1436.1 349.2 L1437 349.6 L1438 350 L1438.4 350.2 M1480.6 367.8 L1480.8 368 L1481.5 368.6 L1482.3 369.3 L1483 370 L1483.6 370.6 L1484.2 371.3 L1484.8 372 L1485.4 372.8 L1486 373.5 L1486.5 374.3 L1487.1 375.1 L1487.6 375.9 L1488.1 376.8 L1488.6 377.6 L1489.1 378.5 L1489.6 379.4 L1490.1 380.3 L1490.6 381.2 L1491.1 382.1 L1491.5 383 L1492 383.9 L1492.5 384.8 L1492.9 385.7 L1493.4 386.6 L1493.8 387.5 L1494.3 388.4 L1494.7 389.3 L1495.2 390.1 L1495.7 391 L1496.1 391.8 L1496.6 392.6 L1497 393.5 L1497.5 394.2 L1498 395 L1498.6 395.9 L1498.7 396.1 M1541.1 409.6 L1541.2 409.4 L1542 408.7 L1542.7 408 L1543.4 407.3 L1544.1 406.6 L1544.8 405.9 L1545.5 405.2 L1546.3 404.6 L1547 404 L1547.8 403.4 L1548.6 402.7 L1549.3 402.1 L1550.1 401.4 L1550.8 400.7 L1551.6 400 L1552.3 399.4 L1553.1 398.7 L1553.8 398.1 L1554.6 397.4 L1555.3 396.8 L1556.1 396.3 L1556.8 395.7 L1557.6 395.2 L1558.4 394.8 L1559.2 394.4 L1560 394 L1560.9 393.7 L1561.8 393.4 L1562.7 393.1 L1563.7 392.9 L1564.6 392.8 L1565.6 392.6 L1566.6 392.5 L1567.6 392.4 L1568.5 392.4 L1569.5 392.4 L1570.5 392.4 L1571.4 392.5 L1572.3 392.6 L1573.3 392.7 L1574.1 392.8 L1575 393 L1575.9 393.2 L1576.8 393.5 L1577.6 393.9 L1578.4 394.3 L1579.2 394.7 L1580 395.1 L1580.1 395.2 M1628.4 409.2 L1629 409 L1629.9 408.7 L1630.7 408.3 L1631.6 407.8 L1632.5 407.4 L1633.4 406.9 L1634.4 406.3 L1635.3 405.8 L1636.2 405.2 L1637.1 404.6 L1638.1 404 L1639 403.4 L1639.9 402.8 L1640.9 402.2 L1641.8 401.5 L1642.7 400.9 L1643.6 400.3 L1644.4 399.7 L1645.3 399.1 L1646.1 398.5 L1647 398 L1647.8 397.4 L1648.5 396.9 L1649.3 396.5 L1650 396 L1650.7 395.7 L1651.4 395.3 L1652 395 L1653.4 394.4 L1654.6 393.9 L1655.6 393.5 L1656.4 393.2 L1657.2 393 L1657.3 393 M1694.7 415.3 L1695.3 415.7 L1696.2 416.4 L1697 417 L1697.7 417.6 L1698.5 418.2 L1699.2 418.8 L1700 419.4 L1700.7 420 L1701.5 420.7 L1702.2 421.3 L1703 422 L1703.7 422.7 L1704.5 423.4 L1705.3 424.1 L1706 424.7 L1706.8 425.5 L1707.5 426.2 L1708.2 426.9 L1709 427.6 L1709.7 428.3 L1710.4 429 L1711.1 429.7 L1711.8 430.4 L1712.5 431.1 L1713.2 431.9 L1713.9 432.6 L1714.5 433.3 L1715.2 434 L1715.8 434.6 L1716.4 435.3 L1716.9 435.9 M1748.1 465.1 L1748.7 465.4 L1749.4 465.9 L1750.2 466.4 L1750.9 466.9 L1751.7 467.5 L1752.5 468 L1753.4 468.6 L1754.2 469.2 L1755.1 469.8 L1755.9 470.4 L1756.8 471 L1757.7 471.7 L1758.6 472.3 L1759.5 472.9 L1760.4 473.6 L1761.3 474.2 L1762.2 474.9 L1763.2 475.5 L1764.1 476.1 L1765 476.8 L1765.9 477.4 L1766.7 478 L1767.6 478.6 L1768.5 479.1 L1769.3 479.7 L1770.2 480.2 L1771 480.7 L1771.8 481.2 L1772.5 481.7 L1773.3 482.1 L1774 482.5 L1774.7 482.9 L1775.4 483.2 L1775.8 483.4 M1811.9 465.8 L1812.3 465.5 L1813 465 L1814 464.3 L1814.9 463.6 L1815.8 463 L1816.7 462.4 L1817.6 461.9 L1818.5 461.4 L1819.3 460.9 L1820.2 460.5 L1821 460.1 L1821.9 459.7 L1822.7 459.3 L1823.5 459 L1824.3 458.6 L1825.2 458.3 L1826 458 L1826.9 457.7 L1827.8 457.5 L1828.7 457.3 L1829.5 457.1 L1830.3 457 L1831.1 457 L1831.9 456.9 L1832.8 456.8 L1833.7 456.7 L1834.6 456.6 L1835.7 456.5 L1836.8 456.3 L1838 456 L1838.8 455.8 L1839.4 455.7 M1872.5 431.9 L1872.8 431.8 L1873.6 431.7 L1874.5 431.7 L1875.3 431.9 L1876.2 432.1 L1877.2 432.4 L1878.1 432.8 L1879 433.2 L1880 433.7 L1880.9 434.2 L1881.9 434.8 L1882.8 435.4 L1883.8 435.9 L1884.7 436.5 L1885.7 437 L1886.6 437.5 L1887.5 438 L1888.3 438.4 L1889.2 438.7 L1890 439 L1891 439.3 L1892 439.6 L1892.9 439.8 L1893.8 440.1 L1894.7 440.3 L1895.5 440.5 L1896.3 440.7 L1897.2 440.9 L1898 441 L1898.9 441.1 L1899.8 441.2 L1900.8 441.2 L1901.8 441.2 L1902.8 441.1 L1903.8 441 M1947.3 430.5 L1947.8 430.3 L1948.7 429.9 L1949.6 429.5 L1950.4 429 L1951.2 428.5 L1952 428 L1952.7 427.4 L1953.4 426.8 L1954.1 426.2 L1954.7 425.5 L1955.3 424.7 L1955.9 423.9 L1956.5 423.1 L1957.1 422.3 L1957.6 421.4 L1958.1 420.5 L1958.6 419.6 L1959.1 418.7 L1959.6 417.8 L1960.1 416.8 L1960.6 415.9 L1961.1 414.9 L1961.6 414 L1962 413.1 L1962.5 412.1 L1963 411.2 L1963.4 410.4 L1963.9 409.5 L1964.4 408.7 L1964.9 407.8 L1965.4 407.1 L1965.9 406.3 L1966.1 406.1 M2004.2 395.6 L2004.9 395.7 L2005.9 395.9 L2007 395.9 L2008 396 L2008.9 396 L2009.9 396 L2010.9 396.1 L2012 396.1 L2013.1 396.1 L2014.2 396 L2015.3 396 L2016.4 396 L2017.5 396 L2018.7 395.9 L2019.8 395.9 L2021 395.8 L2022.1 395.8 L2023.3 395.7 L2024.4 395.7 L2025.5 395.6 L2026.6 395.5 L2027.6 395.5 L2028.6 395.4 L2029.6 395.4 L2030.6 395.3 L2031.5 395.3 L2032.4 395.2 L2033.2 395.2 L2034 395.1 L2034.7 395.1 L2035.2 395.1" stroke="#0000FF" stroke-width="11" stroke-linejoin="round"/>
<path d="M60.4 412.9L67.6 421.1 M132.5 422.9L125.3 431.2 M179.7 430.5L188.3 437.5 M245.8 419.4L251 429.1 M318.4 401.1L324.8 410.1 M376.6 369L367.4 375 M408.8 434.5L408.6 445.5 M477.6 454.5L478.4 465.5 M545.4 431.5L546.6 442.5 M628.7 402.6L631.3 413.4 M682.4 360.9L691.6 367.1 M750.8 336.3L745.2 345.7 M801.8 304.5L808.2 313.5 M844.3 250L853.9 255.5 M886.3 179.5L895.5 185.6 M933.3 118.2L942.7 123.8 M995.9 130.8L987.3 137.7 M1040.9 193.5L1031.1 198.5 M1121.3 200.9L1128.7 209.1 M1156 137.2L1166 141.8 M1219.3 140.1L1209.5 145 M1262.3 208.4L1252.5 213.4 M1299.4 275.8L1291.2 283.1 M1338 332.2L1330 339.8 M1387.2 350.7L1391.8 360.7 M1462.2 352L1457.8 362 M1514.9 410.3L1509.1 419.7 M1607.3 407.3L1604.7 417.9 M1679.7 399.8L1673.7 409.1 M1732.9 449.6L1724.6 456.8 M1793.5 475.8L1800.5 484.2 M1856 445.4L1862 454.6 M1924.5 429.7L1927.5 440.3 M1981.7 387.7L1984.3 398.3" stroke="#0000FF" stroke-width="1.4"/>
<path d="M23.5 424.5 L26.5 424.5 L29.5 424.5 L32.5 424.5 L35.5 424.5 L38.5 424.5 L41.5 424.5 L44.5 424.5 L47.5 424.5 L50.5 424.5 L53.5 424.5 L56.5 424.5 L59.5 424.5 L62.5 424.5 L65.5 424.5 L68.5 424.5 L71.5 424.5 L74.5 424.5 L77.5 424.5 L80.5 424.5 L83.5 424.5 L86.5 424.5 L89.5 424.5 L92.5 424.5 L95.5 424.5 L98.5 424.5 L101.5 424.5 L104.5 424.5 L107.5 424.5 L110.5 424.5 L113.5 424.5 L116.5 424.5 L119.5 424.5 L122.5 424.5 L125.5 424.5 L128.5 424.5 L131.5 424.5 L134.5 424.5 L137.5 424.5 L140.5 424.5 L143.5 424.5 L146.5 424.5 L149.5 424.5 L152.5 424.5 L155.5 424.5 L158.5 424.5 L161.5 424.5 L164.5 424.5 L167.5 424.5 L170.5 424.5 L173.5 424.5 L176.5 424.5 L179.5 424.5 L182.5 424.5 L185.5 424.5 L188.5 424.5 L191.5 424.5 L194.5 424.5 L197.5 424.5 L200.5 424.5 L203.5 424.5 L206.5 424.5 L209.5 424.5 L212.5 424.5 L215.5 424.5 L218.5 424.5 L221.5 424.5 L224.5 424.5 L227.5 424.5 L230.5 424.5 L233.5 424.5 L236.5 424.5 L239.5 424.5 L242.5 424.5 L245.5 424.5 L248.5 424.5 L251.5 424.5 L254.5 424.5 L257.5 424.5 L260.5 424.5 L263.5 424.5 L266.5 424.5 L269.5 424.5 L272.5 424.5 L275.5 424.5 L278.5 424.5 L281.5 424.5 L284.5 424.5 L287.5 424.5 L290.5 424.5 L293.5 424.5 L296.5 424.5 L299.5 424.5 L302.5 424.5 L305.5 424.5 L308.5 424.5 L311.5 424.5 L314.5 424.5 L317.5 424.5 L320.5 424.5 L323.5 424.5 L326.5 424.5 L329.5 424.5 L332.5 424.5 L335.5 424.5 L338.5 424.5 L341.5 424.5 L344.5 424.5 L347.5 424.5 L350.5 424.5 L353.5 424.5 L356.5 424.5 L359.5 424.5 L362.5 424.5 L365.5 424.5 L368.5 424.5 L371.5 424.5 L374.5 424.5 L377.5 424.5 L380.5 424.5 L383.5 424.5 L386.5 424.5 L389.5 424.5 L392.5 424.5 L395.5 424.5 L398.5 424.5 L401.5 424.5 L404.5 424.5 L407.5 424.5 L410.5 424.5 L413.5 424.5 L416.5 424.5 L419.5 424.5 L422.5 424.5 L425.5 424.5 L428.5 424.5 L431.5 424.5 L434.5 424.5 L437.5 424.5 L440.5 424.5 L443.5 424.5 L446.5 424.5 L449.5 424.5 L452.5 424.5 L455.5 424.5 L458.5 424.5 L461.5 424.5 L464.5 424.5 L467.5 424.5 L470.5 424.5 L473.5 424.5 L476.5 424.5 L479.5 424.5 L482.5 424.5 L485.5 424.5 L488.5 424.5 L491.5 424.5 L494.5 424.5 L497.5 424.5 L500.5 424.5 L503.5 424.5 L506.5 424.5 L509.5 424.5 L512.5 424.5 L515.5 424.5 L518.5 424.5 L521.5 424.5 L524.5 424.5 L527.5 424.4 L530.5 424.4 L533.5 424.4 L536.5 424.4 L539.5 424.4 L542.5 424.4 L545.5 424.4 L548.5 424.4 L551.5 424.4 L554.5 424.4 L557.5 424.3 L560.5 424.3 L563.5 424.3 L566.5 424.3 L569.5 424.2 L572.5 424.2 L575.5 424.2 L578.5 424.1 L581.5 424.1 L584.5 424.1 L587.5 424 L590.5 424 L593.5 423.9 L596.5 423.8 L599.5 423.8 L602.5 423.7 L605.5 423.6 L608.5 423.5 L611.5 423.4 L614.5 423.3 L617.5 423.1 L620.5 423 L623.5 422.9 L626.5 422.7 L629.5 422.5 L632.5 422.3 L635.5 422.1 L638.5 421.9 L641.5 421.7 L644.5 421.4 L647.5 421.1 L650.5 420.8 L653.5 420.5 L656.5 420.1 L659.5 419.7 L662.5 419.3 L665.5 418.8 L668.5 418.3 L671.5 417.8 L674.5 417.3 L677.5 416.7 L680.5 416 L683.5 415.3 L686.5 414.6 L689.5 413.8 L692.5 413 L695.5 412.1 L698.5 411.1 L701.5 410.1 L704.5 409 L707.5 407.9 L710.5 406.7 L713.5 405.4 L716.5 404.1 L719.5 402.6 L722.5 401.1 L725.5 399.5 L728.5 397.9 L731.5 396.1 L734.5 394.3 L737.5 392.3 L740.5 390.3 L743.5 388.1 L746.5 385.9 L749.5 383.5 L752.5 381.1 L755.5 378.5 L758.5 375.9 L761.5 373.1 L764.5 370.2 L767.5 367.2 L770.5 364.1 L773.5 360.9 L776.5 357.6 L779.5 354.1 L782.5 350.5 L785.5 346.9 L788.5 343.1 L791.5 339.2 L794.5 335.2 L797.5 331.1 L800.5 326.8 L803.5 322.5 L806.5 318.1 L809.5 313.6 L812.5 309 L815.5 304.3 L818.5 299.5 L821.5 294.6 L824.5 289.7 L827.5 284.7 L830.5 279.7 L833.5 274.6 L836.5 269.4 L839.5 264.2 L842.5 259 L845.5 253.7 L848.5 248.5 L851.5 243.2 L854.5 238 L857.5 232.7 L860.5 227.5 L863.5 222.3 L866.5 217.2 L869.5 212.1 L872.5 207.1 L875.5 202.1 L878.5 197.2 L881.5 192.4 L884.5 187.8 L887.5 183.2 L890.5 178.8 L893.5 174.5 L896.5 170.3 L899.5 166.3 L902.5 162.4 L905.5 158.7 L908.5 155.2 L911.5 151.9 L914.5 148.8 L917.5 145.9 L920.5 143.1 L923.5 140.6 L926.5 138.3 L929.5 136.3 L932.5 134.4 L935.5 132.8 L938.5 131.4 L941.5 130.3 L944.5 129.3 L947.5 128.6 L950.5 128.2 L953.5 128 L956.5 128 L959.5 128.2 L962.5 128.7 L965.5 129.3 L968.5 130.2 L971.5 131.3 L974.5 132.6 L977.5 134.1 L980.5 135.8 L983.5 137.6 L986.5 139.6 L989.5 141.8 L992.5 144.1 L995.5 146.5 L998.5 149 L1001.5 151.6 L1004.5 154.4 L1007.5 157.2 L1010.5 160 L1013.5 162.9 L1016.5 165.9 L1019.5 168.8 L1022.5 171.7 L1025.5 174.7 L1028.5 177.5 L1031.5 180.4 L1034.5 183.2 L1037.5 185.9 L1040.5 188.5 L1043.5 190.9 L1046.5 193.3 L1049.5 195.5 L1052.5 197.6 L1055.5 199.5 L1058.5 201.3 L1061.5 202.9 L1064.5 204.2 L1067.5 205.4 L1070.5 206.3 L1073.5 207.1 L1076.5 207.6 L1079.5 207.9 L1082.5 208 L1085.5 207.8 L1088.5 207.4 L1091.5 206.8 L1094.5 205.9 L1097.5 204.8 L1100.5 203.6 L1103.5 202.1 L1106.5 200.4 L1109.5 198.5 L1112.5 196.4 L1115.5 194.1 L1118.5 191.7 L1121.5 189.2 L1124.5 186.5 L1127.5 183.8 L1130.5 180.9 L1133.5 177.9 L1136.5 175 L1139.5 171.9 L1142.5 168.9 L1145.5 165.9 L1148.5 162.9 L1151.5 159.9 L1154.5 157.1 L1157.5 154.3 L1160.5 151.6 L1163.5 149.1 L1166.5 146.7 L1169.5 144.5 L1172.5 142.5 L1175.5 140.8 L1178.5 139.2 L1181.5 137.9 L1184.5 136.8 L1187.5 136 L1190.5 135.6 L1193.5 135.4 L1196.5 135.5 L1199.5 135.9 L1202.5 136.6 L1205.5 137.7 L1208.5 139 L1211.5 140.8 L1214.5 142.8 L1217.5 145.1 L1220.5 147.8 L1223.5 150.8 L1226.5 154.1 L1229.5 157.7 L1232.5 161.5 L1235.5 165.7 L1238.5 170.1 L1241.5 174.8 L1244.5 179.6 L1247.5 184.8 L1250.5 190.1 L1253.5 195.6 L1256.5 201.2 L1259.5 207.1 L1262.5 213 L1265.5 219.1 L1268.5 225.3 L1271.5 231.5 L1274.5 237.8 L1277.5 244.1 L1280.5 250.5 L1283.5 256.9 L1286.5 263.2 L1289.5 269.6 L1292.5 275.8 L1295.5 282.1 L1298.5 288.2 L1301.5 294.3 L1304.5 300.3 L1307.5 306.1 L1310.5 311.9 L1313.5 317.5 L1316.5 322.9 L1319.5 328.3 L1322.5 333.4 L1325.5 338.5 L1328.5 343.3 L1331.5 348 L1334.5 352.5 L1337.5 356.9 L1340.5 361 L1343.5 365 L1346.5 368.8 L1349.5 372.5 L1352.5 376 L1355.5 379.3 L1358.5 382.4 L1361.5 385.4 L1364.5 388.2 L1367.5 390.9 L1370.5 393.4 L1373.5 395.8 L1376.5 398 L1379.5 400.1 L1382.5 402 L1385.5 403.8 L1388.5 405.5 L1391.5 407.1 L1394.5 408.6 L1397.5 410 L1400.5 411.2 L1403.5 412.4 L1406.5 413.5 L1409.5 414.5 L1412.5 415.4 L1415.5 416.3 L1418.5 417.1 L1421.5 417.8 L1424.5 418.4 L1427.5 419 L1430.5 419.6 L1433.5 420.1 L1436.5 420.5 L1439.5 421 L1442.5 421.3 L1445.5 421.7 L1448.5 422 L1451.5 422.2 L1454.5 422.5 L1457.5 422.7 L1460.5 422.9 L1463.5 423.1 L1466.5 423.3 L1469.5 423.4 L1472.5 423.5 L1475.5 423.7 L1478.5 423.8 L1481.5 423.8 L1484.5 423.9 L1487.5 424 L1490.5 424.1 L1493.5 424.1 L1496.5 424.2 L1499.5 424.2 L1502.5 424.2 L1505.5 424.3 L1508.5 424.3 L1511.5 424.3 L1514.5 424.4 L1517.5 424.4 L1520.5 424.4 L1523.5 424.4 L1526.5 424.4 L1529.5 424.4 L1532.5 424.4 L1535.5 424.4 L1538.5 424.5 L1541.5 424.5 L1544.5 424.5 L1547.5 424.5 L1550.5 424.5 L1553.5 424.5 L1556.5 424.5 L1559.5 424.5 L1562.5 424.5 L1565.5 424.5 L1568.5 424.5 L1571.5 424.5 L1574.5 424.5 L1577.5 424.5 L1580.5 424.5 L1583.5 424.5 L1586.5 424.5 L1589.5 424.5 L1592.5 424.5 L1595.5 424.5 L1598.5 424.5 L1601.5 424.5 L1604.5 424.5 L1607.5 424.5 L1610.5 424.5 L1613.5 424.5 L1616.5 424.5 L1619.5 424.5 L1622.5 424.5 L1625.5 424.5 L1628.5 424.5 L1631.5 424.5 L1634.5 424.5 L1637.5 424.5 L1640.5 424.5 L1643.5 424.5 L1646.5 424.5 L1649.5 424.5 L1652.5 424.5 L1655.5 424.5 L1658.5 424.5 L1661.5 424.5 L1664.5 424.5 L1667.5 424.5 L1670.5 424.5 L1673.5 424.5 L1676.5 424.5 L1679.5 424.5 L1682.5 424.5 L1685.5 424.5 L1688.5 424.5 L1691.5 424.5 L1694.5 424.5 L1697.5 424.5 L1700.5 424.5 L1703.5 424.5 L1706.5 424.5 L1709.5 424.5 L1712.5 424.5 L1715.5 424.5 L1718.5 424.5 L1721.5 424.5 L1724.5 424.5 L1727.5 424.5 L1730.5 424.5 L1733.5 424.5 L1736.5 424.5 L1739.5 424.5 L1742.5 424.5 L1745.5 424.5 L1748.5 424.5 L1751.5 424.5 L1754.5 424.5 L1757.5 424.5 L1760.5 424.5 L1763.5 424.5 L1766.5 424.5 L1769.5 424.5 L1772.5 424.5 L1775.5 424.5 L1778.5 424.5 L1781.5 424.5 L1784.5 424.5 L1787.5 424.5 L1790.5 424.5 L1793.5 424.5 L1796.5 424.5 L1799.5 424.5 L1802.5 424.5 L1805.5 424.5 L1808.5 424.5 L1811.5 424.5 L1814.5 424.5 L1817.5 424.5 L1820.5 424.5 L1823.5 424.5 L1826.5 424.5 L1829.5 424.5 L1832.5 424.5 L1835.5 424.5 L1838.5 424.5 L1841.5 424.5 L1844.5 424.5 L1847.5 424.5 L1850.5 424.5 L1853.5 424.5 L1856.5 424.5 L1859.5 424.5 L1862.5 424.5 L1865.5 424.5 L1868.5 424.5 L1871.5 424.5 L1874.5 424.5 L1877.5 424.5 L1880.5 424.5 L1883.5 424.5 L1886.5 424.5 L1889.5 424.5 L1892.5 424.5 L1895.5 424.5 L1898.5 424.5 L1901.5 424.5 L1904.5 424.5 L1907.5 424.5 L1910.5 424.5 L1913.5 424.5 L1916.5 424.5 L1919.5 424.5 L1922.5 424.5 L1925.5 424.5 L1928.5 424.5 L1931.5 424.5 L1934.5 424.5 L1937.5 424.5 L1940.5 424.5 L1943.5 424.5 L1946.5 424.5 L1949.5 424.5 L1952.5 424.5 L1955.5 424.5 L1958.5 424.5 L1961.5 424.5 L1964.5 424.5 L1967.5 424.5 L1970.5 424.5 L1973.5 424.5 L1976.5 424.5 L1979.5 424.5 L1982.5 424.5 L1985.5 424.5 L1988.5 424.5 L1991.5 424.5 L1994.5 424.5 L1997.5 424.5 L2000.5 424.5 L2003.5 424.5 L2006.5 424.5 L2009.5 424.5 L2012.5 424.5 L2015.5 424.5 L2018.5 424.5 L2021.5 424.5 L2024.5 424.5 L2027.5 424.5 L2030.5 424.5 L2033.5 424.5 L2036.5 424.5" stroke="#0000FF" stroke-width="11"/>
<path d="M24 859.5 L26.5 859.5 L29.5 859.5 L32.5 859.5 L35.5 859.5 L38.5 859.5 L41.5 859.5 L44.5 859.5 L47.5 859.5 L50.5 859.5 L53.5 859.5 L56.5 859.5 L59.5 859.5 L62.5 859.5 L65.5 859.5 L68.5 859.5 L71.5 859.5 L74.5 859.5 L77.5 859.5 L80.5 859.5 L83.5 859.5 L86.5 859.5 L89.5 859.5 L92.5 859.5 L95.5 859.5 L98.5 859.5 L101.5 859.5 L104.5 859.5 L107.5 859.5 L110.5 859.5 L113.5 859.5 L116.5 859.5 L119.5 859.5 L122.5 859.5 L125.5 859.5 L128.5 859.5 L131.5 859.5 L134.5 859.5 L137.5 859.5 L140.5 859.5 L143.5 859.5 L146.5 859.5 L149.5 859.5 L152.5 859.5 L155.5 859.5 L158.5 859.5 L161.5 859.5 L164.5 859.5 L167.5 859.5 L170.5 859.5 L173.5 859.5 L176.5 859.5 L179.5 859.5 L182.5 859.5 L185.5 859.5 L188.5 859.5 L191.5 859.5 L194.5 859.5 L197.5 859.5 L200.5 859.5 L203.5 859.5 L206.5 859.5 L209.5 859.5 L212.5 859.5 L215.5 859.5 L218.5 859.5 L221.5 859.5 L224.5 859.5 L227.5 859.5 L230.5 859.5 L233.5 859.5 L236.5 859.5 L239.5 859.5 L242.5 859.5 L245.5 859.5 L248.5 859.5 L251.5 859.5 L254.5 859.5 L257.5 859.5 L260.5 859.5 L263.5 859.5 L266.5 859.5 L269.5 859.5 L272.5 859.5 L275.5 859.5 L278.5 859.5 L281.5 859.5 L284.5 859.5 L287.5 859.5 L290.5 859.5 L293.5 859.5 L296.5 859.5 L299.5 859.5 L302.5 859.5 L305.5 859.5 L308.5 859.5 L311.5 859.5 L314.5 859.5 L317.5 859.5 L320.5 859.5 L323.5 859.5 L326.5 859.5 L329.5 859.5 L332.5 859.5 L335.5 859.5 L338.5 859.5 L341.5 859.5 L344.5 859.5 L347.5 859.5 L350.5 859.5 L353.5 859.5 L356.5 859.5 L359.5 859.5 L362.5 859.5 L365.5 859.5 L368.5 859.5 L371.5 859.5 L374.5 859.5 L377.5 859.5 L380.5 859.5 L383.5 859.5 L386.5 859.5 L389.5 859.5 L392.5 859.5 L395.5 859.5 L398.5 859.5 L401.5 859.5 L404.5 859.5 L407.5 859.5 L410.5 859.5 L413.5 859.5 L416.5 859.5 L419.5 859.5 L422.5 859.5 L425.5 859.5 L428.5 859.5 L431.5 859.5 L434.5 859.5 L437.5 859.5 L440.5 859.5 L443.5 859.5 L446.5 859.5 L449.5 859.5 L452.5 859.5 L455.5 859.5 L458.5 859.5 L461.5 859.5 L464.5 859.5 L467.5 859.5 L470.5 859.5 L473.5 859.5 L476.5 859.5 L479.5 859.5 L482.5 859.5 L485.5 859.5 L488.5 859.5 L491.5 859.5 L494.5 859.5 L497.5 859.4 L500.5 859.4 L503.5 859.4 L506.5 859.4 L509.5 859.4 L512.5 859.4 L515.5 859.4 L518.5 859.4 L521.5 859.4 L524.5 859.4 L527.5 859.3 L530.5 859.3 L533.5 859.3 L536.5 859.3 L539.5 859.3 L542.5 859.2 L545.5 859.2 L548.5 859.2 L551.5 859.1 L554.5 859.1 L557.5 859.1 L560.5 859 L563.5 859 L566.5 858.9 L569.5 858.9 L572.5 858.8 L575.5 858.7 L578.5 858.7 L581.5 858.6 L584.5 858.5 L587.5 858.4 L590.5 858.3 L593.5 858.2 L596.5 858.1 L599.5 857.9 L602.5 857.8 L605.5 857.7 L608.5 857.5 L611.5 857.3 L614.5 857.1 L617.5 856.9 L620.5 856.7 L623.5 856.5 L626.5 856.2 L629.5 856 L632.5 855.7 L635.5 855.4 L638.5 855.1 L641.5 854.7 L644.5 854.3 L647.5 853.9 L650.5 853.5 L653.5 853.1 L656.5 852.6 L659.5 852.1 L662.5 851.5 L665.5 850.9 L668.5 850.3 L671.5 849.7 L674.5 849 L677.5 848.3 L680.5 847.5 L683.5 846.7 L686.5 845.8 L689.5 844.9 L692.5 844 L695.5 843 L698.5 842 L701.5 840.9 L704.5 839.7 L707.5 838.5 L710.5 837.2 L713.5 835.9 L716.5 834.5 L719.5 833.1 L722.5 831.6 L725.5 830 L728.5 828.3 L731.5 826.6 L734.5 824.9 L737.5 823 L740.5 821.1 L743.5 819.1 L746.5 817.1 L749.5 815 L752.5 812.8 L755.5 810.5 L758.5 808.2 L761.5 805.8 L764.5 803.3 L767.5 800.7 L770.5 798.1 L773.5 795.4 L776.5 792.7 L779.5 789.9 L782.5 787 L785.5 784 L788.5 781 L791.5 778 L794.5 774.9 L797.5 771.7 L800.5 768.5 L803.5 765.2 L806.5 761.9 L809.5 758.5 L812.5 755.1 L815.5 751.7 L818.5 748.2 L821.5 744.7 L824.5 741.2 L827.5 737.7 L830.5 734.2 L833.5 730.7 L836.5 727.1 L839.5 723.6 L842.5 720.1 L845.5 716.6 L848.5 713.1 L851.5 709.6 L854.5 706.2 L857.5 702.8 L860.5 699.5 L863.5 696.2 L866.5 693 L869.5 689.8 L872.5 686.7 L875.5 683.7 L878.5 680.8 L881.5 677.9 L884.5 675.1 L887.5 672.5 L890.5 669.9 L893.5 667.5 L896.5 665.1 L899.5 662.9 L902.5 660.8 L905.5 658.9 L908.5 657 L911.5 655.3 L914.5 653.8 L917.5 652.4 L920.5 651.1 L923.5 650 L926.5 649 L929.5 648.2 L932.5 647.6 L935.5 647.1 L938.5 646.7 L941.5 646.5 L944.5 646.5 L947.5 646.6 L950.5 646.9 L953.5 647.4 L956.5 648 L959.5 648.8 L962.5 649.7 L965.5 650.8 L968.5 652 L971.5 653.4 L974.5 654.9 L977.5 656.6 L980.5 658.4 L983.5 660.3 L986.5 662.3 L989.5 664.5 L992.5 666.8 L995.5 669.3 L998.5 671.8 L1001.5 674.4 L1004.5 677.2 L1007.5 680 L1010.5 682.9 L1013.5 685.9 L1016.5 689 L1019.5 692.1 L1022.5 695.3 L1025.5 698.6 L1028.5 701.9 L1031.5 705.3 L1034.5 708.7 L1037.5 712.2 L1040.5 715.6 L1043.5 719.1 L1046.5 722.7 L1049.5 726.2 L1052.5 729.7 L1055.5 733.3 L1058.5 736.8 L1061.5 740.3 L1064.5 743.8 L1067.5 747.3 L1070.5 750.8 L1073.5 754.2 L1076.5 757.6 L1079.5 761 L1082.5 764.3 L1085.5 767.6 L1088.5 770.8 L1091.5 774 L1094.5 777.2 L1097.5 780.2 L1100.5 783.3 L1103.5 786.2 L1106.5 789.1 L1109.5 791.9 L1112.5 794.7 L1115.5 797.4 L1118.5 800.1 L1121.5 802.6 L1124.5 805.1 L1127.5 807.5 L1130.5 809.9 L1133.5 812.2 L1136.5 814.4 L1139.5 816.5 L1142.5 818.6 L1145.5 820.6 L1148.5 822.5 L1151.5 824.4 L1154.5 826.2 L1157.5 827.9 L1160.5 829.6 L1163.5 831.1 L1166.5 832.7 L1169.5 834.1 L1172.5 835.5 L1175.5 836.9 L1178.5 838.2 L1181.5 839.4 L1184.5 840.6 L1187.5 841.7 L1190.5 842.7 L1193.5 843.7 L1196.5 844.7 L1199.5 845.6 L1202.5 846.5 L1205.5 847.3 L1208.5 848.1 L1211.5 848.8 L1214.5 849.5 L1217.5 850.2 L1220.5 850.8 L1223.5 851.4 L1226.5 851.9 L1229.5 852.4 L1232.5 852.9 L1235.5 853.4 L1238.5 853.8 L1241.5 854.2 L1244.5 854.6 L1247.5 855 L1250.5 855.3 L1253.5 855.6 L1256.5 855.9 L1259.5 856.2 L1262.5 856.4 L1265.5 856.7 L1268.5 856.9 L1271.5 857.1 L1274.5 857.3 L1277.5 857.5 L1280.5 857.6 L1283.5 857.8 L1286.5 857.9 L1289.5 858 L1292.5 858.2 L1295.5 858.3 L1298.5 858.4 L1301.5 858.5 L1304.5 858.6 L1307.5 858.6 L1310.5 858.7 L1313.5 858.8 L1316.5 858.9 L1319.5 858.9 L1322.5 859 L1325.5 859 L1328.5 859.1 L1331.5 859.1 L1334.5 859.1 L1337.5 859.2 L1340.5 859.2 L1343.5 859.2 L1346.5 859.3 L1349.5 859.3 L1352.5 859.3 L1355.5 859.3 L1358.5 859.3 L1361.5 859.4 L1364.5 859.4 L1367.5 859.4 L1370.5 859.4 L1373.5 859.4 L1376.5 859.4 L1379.5 859.4 L1382.5 859.4 L1385.5 859.4 L1388.5 859.4 L1391.5 859.5 L1394.5 859.5 L1397.5 859.5 L1400.5 859.5 L1403.5 859.5 L1406.5 859.5 L1409.5 859.5 L1412.5 859.5 L1415.5 859.5 L1418.5 859.5 L1421.5 859.5 L1424.5 859.5 L1427.5 859.5 L1430.5 859.5 L1433.5 859.5 L1436.5 859.5 L1439.5 859.5 L1442.5 859.5 L1445.5 859.5 L1448.5 859.5 L1451.5 859.5 L1454.5 859.5 L1457.5 859.5 L1460.5 859.5 L1463.5 859.5 L1466.5 859.5 L1469.5 859.5 L1472.5 859.5 L1475.5 859.5 L1478.5 859.5 L1481.5 859.5 L1484.5 859.5 L1487.5 859.5 L1490.5 859.5 L1493.5 859.5 L1496.5 859.5 L1499.5 859.5 L1502.5 859.5 L1505.5 859.5 L1508.5 859.5 L1511.5 859.5 L1514.5 859.5 L1517.5 859.5 L1520.5 859.5 L1523.5 859.5 L1526.5 859.5 L1529.5 859.5 L1532.5 859.5 L1535.5 859.5 L1538.5 859.5 L1541.5 859.5 L1544.5 859.5 L1547.5 859.5 L1550.5 859.5 L1553.5 859.5 L1556.5 859.5 L1559.5 859.5 L1562.5 859.5 L1565.5 859.5 L1568.5 859.5 L1571.5 859.5 L1574.5 859.5 L1577.5 859.5 L1580.5 859.5 L1583.5 859.5 L1586.5 859.5 L1589.5 859.5 L1592.5 859.5 L1595.5 859.5 L1598.5 859.5 L1601.5 859.5 L1604.5 859.5 L1607.5 859.5 L1610.5 859.5 L1613.5 859.5 L1616.5 859.5 L1619.5 859.5 L1622.5 859.5 L1625.5 859.5 L1628.5 859.5 L1631.5 859.5 L1634.5 859.5 L1637.5 859.5 L1640.5 859.5 L1643.5 859.5 L1646.5 859.5 L1649.5 859.5 L1652.5 859.5 L1655.5 859.5 L1658.5 859.5 L1661.5 859.5 L1664.5 859.5 L1667.5 859.5 L1670.5 859.5 L1673.5 859.5 L1676.5 859.5 L1679.5 859.5 L1682.5 859.5 L1685.5 859.5 L1688.5 859.5 L1691.5 859.5 L1694.5 859.5 L1697.5 859.5 L1700.5 859.5 L1703.5 859.5 L1706.5 859.5 L1709.5 859.5 L1712.5 859.5 L1715.5 859.5 L1718.5 859.5 L1721.5 859.5 L1724.5 859.5 L1727.5 859.5 L1730.5 859.5 L1733.5 859.5 L1736.5 859.5 L1739.5 859.5 L1742.5 859.5 L1745.5 859.5 L1748.5 859.5 L1751.5 859.5 L1754.5 859.5 L1757.5 859.5 L1760.5 859.5 L1763.5 859.5 L1766.5 859.5 L1769.5 859.5 L1772.5 859.5 L1775.5 859.5 L1778.5 859.5 L1781.5 859.5 L1784.5 859.5 L1787.5 859.5 L1790.5 859.5 L1793.5 859.5 L1796.5 859.5 L1799.5 859.5 L1802.5 859.5 L1805.5 859.5 L1808.5 859.5 L1811.5 859.5 L1814.5 859.5 L1817.5 859.5 L1820.5 859.5 L1823.5 859.5 L1826.5 859.5 L1829.5 859.5 L1832.5 859.5 L1835.5 859.5 L1838.5 859.5 L1841.5 859.5 L1844.5 859.5 L1847.5 859.5 L1850.5 859.5 L1853.5 859.5 L1856.5 859.5 L1859.5 859.5 L1862.5 859.5 L1865.5 859.5 L1868.5 859.5 L1871.5 859.5 L1874.5 859.5 L1877.5 859.5 L1880.5 859.5 L1883.5 859.5 L1886.5 859.5 L1889.5 859.5 L1892.5 859.5 L1895.5 859.5 L1898.5 859.5 L1901.5 859.5 L1904.5 859.5 L1907.5 859.5 L1910.5 859.5 L1913.5 859.5 L1916.5 859.5 L1919.5 859.5 L1922.5 859.5 L1925.5 859.5 L1928.5 859.5 L1931.5 859.5 L1934.5 859.5 L1937.5 859.5 L1940.5 859.5 L1943.5 859.5 L1946.5 859.5 L1949.5 859.5 L1952.5 859.5 L1955.5 859.5 L1958.5 859.5 L1961.5 859.5 L1964.5 859.5 L1967.5 859.5 L1970.5 859.5 L1973.5 859.5 L1976.5 859.5 L1979.5 859.5 L1982.5 859.5 L1985.5 859.5 L1988.5 859.5 L1991.5 859.5 L1994.5 859.5 L1997.5 859.5 L2000.5 859.5 L2003.5 859.5 L2006.5 859.5 L2009.5 859.5 L2012.5 859.5 L2015.5 859.5 L2018.5 859.5 L2021.5 859.5 L2024.5 859.5 L2027.5 859.5 L2030.5 859.5 L2033.5 859.5 L2036 859.5" stroke="#B6E4FE" stroke-width="8.5"/>
<path d="M24 859.5 L26.5 859.5 L29.5 859.5 L32.5 859.5 L35.5 859.5 L38.5 859.5 L41.5 859.5 L44.5 859.5 L47.5 859.5 L50.5 859.5 L53.5 859.5 L56.5 859.5 L59.5 859.5 L62.5 859.5 L65.5 859.5 L68.5 859.5 L71.5 859.5 L74.5 859.5 L77.5 859.5 L80.5 859.5 L83.5 859.5 L86.5 859.5 L89.5 859.5 L92.5 859.5 L95.5 859.5 L98.5 859.5 L101.5 859.5 L104.5 859.5 L107.5 859.5 L110.5 859.5 L113.5 859.5 L116.5 859.5 L119.5 859.5 L122.5 859.5 L125.5 859.5 L128.5 859.5 L131.5 859.5 L134.5 859.5 L137.5 859.5 L140.5 859.5 L143.5 859.5 L146.5 859.5 L149.5 859.5 L152.5 859.5 L155.5 859.5 L158.5 859.5 L161.5 859.5 L164.5 859.5 L167.5 859.5 L170.5 859.5 L173.5 859.5 L176.5 859.5 L179.5 859.5 L182.5 859.5 L185.5 859.5 L188.5 859.5 L191.5 859.5 L194.5 859.5 L197.5 859.5 L200.5 859.5 L203.5 859.5 L206.5 859.5 L209.5 859.5 L212.5 859.5 L215.5 859.5 L218.5 859.5 L221.5 859.5 L224.5 859.5 L227.5 859.5 L230.5 859.5 L233.5 859.5 L236.5 859.5 L239.5 859.5 L242.5 859.5 L245.5 859.5 L248.5 859.5 L251.5 859.5 L254.5 859.5 L257.5 859.5 L260.5 859.5 L263.5 859.5 L266.5 859.5 L269.5 859.5 L272.5 859.5 L275.5 859.5 L278.5 859.5 L281.5 859.5 L284.5 859.5 L287.5 859.5 L290.5 859.5 L293.5 859.5 L296.5 859.5 L299.5 859.5 L302.5 859.5 L305.5 859.5 L308.5 859.5 L311.5 859.5 L314.5 859.5 L317.5 859.5 L320.5 859.5 L323.5 859.5 L326.5 859.5 L329.5 859.5 L332.5 859.5 L335.5 859.5 L338.5 859.5 L341.5 859.5 L344.5 859.5 L347.5 859.5 L350.5 859.5 L353.5 859.5 L356.5 859.5 L359.5 859.5 L362.5 859.5 L365.5 859.5 L368.5 859.5 L371.5 859.5 L374.5 859.5 L377.5 859.5 L380.5 859.5 L383.5 859.5 L386.5 859.5 L389.5 859.5 L392.5 859.5 L395.5 859.5 L398.5 859.5 L401.5 859.5 L404.5 859.5 L407.5 859.5 L410.5 859.5 L413.5 859.5 L416.5 859.5 L419.5 859.5 L422.5 859.5 L425.5 859.5 L428.5 859.5 L431.5 859.5 L434.5 859.5 L437.5 859.5 L440.5 859.5 L443.5 859.5 L446.5 859.5 L449.5 859.5 L452.5 859.5 L455.5 859.5 L458.5 859.5 L461.5 859.5 L464.5 859.5 L467.5 859.5 L470.5 859.5 L473.5 859.5 L476.5 859.5 L479.5 859.5 L482.5 859.5 L485.5 859.5 L488.5 859.5 L491.5 859.5 L494.5 859.5 L497.5 859.5 L500.5 859.5 L503.5 859.5 L506.5 859.5 L509.5 859.5 L512.5 859.5 L515.5 859.5 L518.5 859.5 L521.5 859.5 L524.5 859.5 L527.5 859.5 L530.5 859.5 L533.5 859.5 L536.5 859.5 L539.5 859.5 L542.5 859.5 L545.5 859.5 L548.5 859.5 L551.5 859.5 L554.5 859.5 L557.5 859.5 L560.5 859.5 L563.5 859.5 L566.5 859.5 L569.5 859.5 L572.5 859.5 L575.5 859.5 L578.5 859.5 L581.5 859.5 L584.5 859.5 L587.5 859.5 L590.5 859.5 L593.5 859.5 L596.5 859.5 L599.5 859.5 L602.5 859.5 L605.5 859.5 L608.5 859.5 L611.5 859.5 L614.5 859.5 L617.5 859.5 L620.5 859.5 L623.5 859.5 L626.5 859.5 L629.5 859.5 L632.5 859.5 L635.5 859.5 L638.5 859.5 L641.5 859.5 L644.5 859.5 L647.5 859.5 L650.5 859.5 L653.5 859.5 L656.5 859.5 L659.5 859.5 L662.5 859.5 L665.5 859.5 L668.5 859.5 L671.5 859.5 L674.5 859.5 L677.5 859.5 L680.5 859.5 L683.5 859.5 L686.5 859.5 L689.5 859.5 L692.5 859.5 L695.5 859.5 L698.5 859.5 L701.5 859.5 L704.5 859.5 L707.5 859.4 L710.5 859.4 L713.5 859.4 L716.5 859.4 L719.5 859.4 L722.5 859.4 L725.5 859.4 L728.5 859.4 L731.5 859.4 L734.5 859.4 L737.5 859.4 L740.5 859.3 L743.5 859.3 L746.5 859.3 L749.5 859.3 L752.5 859.3 L755.5 859.3 L758.5 859.2 L761.5 859.2 L764.5 859.2 L767.5 859.2 L770.5 859.1 L773.5 859.1 L776.5 859.1 L779.5 859 L782.5 859 L785.5 858.9 L788.5 858.9 L791.5 858.8 L794.5 858.8 L797.5 858.7 L800.5 858.6 L803.5 858.6 L806.5 858.5 L809.5 858.4 L812.5 858.3 L815.5 858.2 L818.5 858.1 L821.5 858 L824.5 857.9 L827.5 857.8 L830.5 857.6 L833.5 857.5 L836.5 857.4 L839.5 857.2 L842.5 857 L845.5 856.8 L848.5 856.6 L851.5 856.4 L854.5 856.2 L857.5 855.9 L860.5 855.7 L863.5 855.4 L866.5 855.1 L869.5 854.8 L872.5 854.5 L875.5 854.2 L878.5 853.8 L881.5 853.4 L884.5 853 L887.5 852.6 L890.5 852.1 L893.5 851.6 L896.5 851.1 L899.5 850.6 L902.5 850 L905.5 849.4 L908.5 848.8 L911.5 848.1 L914.5 847.4 L917.5 846.7 L920.5 845.9 L923.5 845.1 L926.5 844.3 L929.5 843.4 L932.5 842.4 L935.5 841.5 L938.5 840.4 L941.5 839.4 L944.5 838.3 L947.5 837.1 L950.5 835.9 L953.5 834.6 L956.5 833.3 L959.5 832 L962.5 830.5 L965.5 829.1 L968.5 827.5 L971.5 825.9 L974.5 824.3 L977.5 822.5 L980.5 820.8 L983.5 818.9 L986.5 817 L989.5 815 L992.5 813 L995.5 810.9 L998.5 808.7 L1001.5 806.5 L1004.5 804.2 L1007.5 801.8 L1010.5 799.4 L1013.5 796.9 L1016.5 794.3 L1019.5 791.7 L1022.5 789 L1025.5 786.2 L1028.5 783.3 L1031.5 780.4 L1034.5 777.5 L1037.5 774.4 L1040.5 771.3 L1043.5 768.2 L1046.5 764.9 L1049.5 761.7 L1052.5 758.3 L1055.5 754.9 L1058.5 751.5 L1061.5 748 L1064.5 744.4 L1067.5 740.8 L1070.5 737.2 L1073.5 733.5 L1076.5 729.8 L1079.5 726.1 L1082.5 722.3 L1085.5 718.5 L1088.5 714.7 L1091.5 710.8 L1094.5 707 L1097.5 703.1 L1100.5 699.2 L1103.5 695.3 L1106.5 691.4 L1109.5 687.5 L1112.5 683.7 L1115.5 679.8 L1118.5 675.9 L1121.5 672.1 L1124.5 668.3 L1127.5 664.6 L1130.5 660.8 L1133.5 657.2 L1136.5 653.5 L1139.5 650 L1142.5 646.4 L1145.5 643 L1148.5 639.6 L1151.5 636.3 L1154.5 633 L1157.5 629.9 L1160.5 626.8 L1163.5 623.8 L1166.5 620.9 L1169.5 618.1 L1172.5 615.5 L1175.5 612.9 L1178.5 610.4 L1181.5 608.1 L1184.5 605.9 L1187.5 603.8 L1190.5 601.8 L1193.5 600 L1196.5 598.3 L1199.5 596.7 L1202.5 595.3 L1205.5 594 L1208.5 592.8 L1211.5 591.8 L1214.5 591 L1217.5 590.3 L1220.5 589.7 L1223.5 589.3 L1226.5 589.1 L1229.5 589 L1232.5 589.1 L1235.5 589.3 L1238.5 589.6 L1241.5 590.1 L1244.5 590.8 L1247.5 591.6 L1250.5 592.6 L1253.5 593.7 L1256.5 594.9 L1259.5 596.3 L1262.5 597.8 L1265.5 599.5 L1268.5 601.3 L1271.5 603.2 L1274.5 605.3 L1277.5 607.5 L1280.5 609.8 L1283.5 612.2 L1286.5 614.8 L1289.5 617.4 L1292.5 620.2 L1295.5 623 L1298.5 626 L1301.5 629 L1304.5 632.2 L1307.5 635.4 L1310.5 638.7 L1313.5 642.1 L1316.5 645.5 L1319.5 649 L1322.5 652.6 L1325.5 656.2 L1328.5 659.9 L1331.5 663.6 L1334.5 667.3 L1337.5 671.1 L1340.5 674.9 L1343.5 678.8 L1346.5 682.6 L1349.5 686.5 L1352.5 690.4 L1355.5 694.3 L1358.5 698.2 L1361.5 702 L1364.5 705.9 L1367.5 709.8 L1370.5 713.6 L1373.5 717.5 L1376.5 721.3 L1379.5 725.1 L1382.5 728.8 L1385.5 732.6 L1388.5 736.2 L1391.5 739.9 L1394.5 743.5 L1397.5 747 L1400.5 750.6 L1403.5 754 L1406.5 757.4 L1409.5 760.8 L1412.5 764.1 L1415.5 767.3 L1418.5 770.5 L1421.5 773.6 L1424.5 776.7 L1427.5 779.6 L1430.5 782.6 L1433.5 785.4 L1436.5 788.2 L1439.5 790.9 L1442.5 793.6 L1445.5 796.2 L1448.5 798.7 L1451.5 801.2 L1454.5 803.6 L1457.5 805.9 L1460.5 808.1 L1463.5 810.3 L1466.5 812.5 L1469.5 814.5 L1472.5 816.5 L1475.5 818.4 L1478.5 820.3 L1481.5 822.1 L1484.5 823.8 L1487.5 825.5 L1490.5 827.1 L1493.5 828.6 L1496.5 830.1 L1499.5 831.6 L1502.5 833 L1505.5 834.3 L1508.5 835.6 L1511.5 836.8 L1514.5 838 L1517.5 839.1 L1520.5 840.2 L1523.5 841.2 L1526.5 842.2 L1529.5 843.1 L1532.5 844 L1535.5 844.9 L1538.5 845.7 L1541.5 846.5 L1544.5 847.2 L1547.5 847.9 L1550.5 848.6 L1553.5 849.2 L1556.5 849.8 L1559.5 850.4 L1562.5 851 L1565.5 851.5 L1568.5 852 L1571.5 852.4 L1574.5 852.9 L1577.5 853.3 L1580.5 853.7 L1583.5 854.1 L1586.5 854.4 L1589.5 854.7 L1592.5 855.1 L1595.5 855.3 L1598.5 855.6 L1601.5 855.9 L1604.5 856.1 L1607.5 856.4 L1610.5 856.6 L1613.5 856.8 L1616.5 857 L1619.5 857.1 L1622.5 857.3 L1625.5 857.5 L1628.5 857.6 L1631.5 857.7 L1634.5 857.9 L1637.5 858 L1640.5 858.1 L1643.5 858.2 L1646.5 858.3 L1649.5 858.4 L1652.5 858.5 L1655.5 858.6 L1658.5 858.6 L1661.5 858.7 L1664.5 858.8 L1667.5 858.8 L1670.5 858.9 L1673.5 858.9 L1676.5 859 L1679.5 859 L1682.5 859.1 L1685.5 859.1 L1688.5 859.1 L1691.5 859.2 L1694.5 859.2 L1697.5 859.2 L1700.5 859.2 L1703.5 859.3 L1706.5 859.3 L1709.5 859.3 L1712.5 859.3 L1715.5 859.3 L1718.5 859.3 L1721.5 859.4 L1724.5 859.4 L1727.5 859.4 L1730.5 859.4 L1733.5 859.4 L1736.5 859.4 L1739.5 859.4 L1742.5 859.4 L1745.5 859.4 L1748.5 859.4 L1751.5 859.4 L1754.5 859.5 L1757.5 859.5 L1760.5 859.5 L1763.5 859.5 L1766.5 859.5 L1769.5 859.5 L1772.5 859.5 L1775.5 859.5 L1778.5 859.5 L1781.5 859.5 L1784.5 859.5 L1787.5 859.5 L1790.5 859.5 L1793.5 859.5 L1796.5 859.5 L1799.5 859.5 L1802.5 859.5 L1805.5 859.5 L1808.5 859.5 L1811.5 859.5 L1814.5 859.5 L1817.5 859.5 L1820.5 859.5 L1823.5 859.5 L1826.5 859.5 L1829.5 859.5 L1832.5 859.5 L1835.5 859.5 L1838.5 859.5 L1841.5 859.5 L1844.5 859.5 L1847.5 859.5 L1850.5 859.5 L1853.5 859.5 L1856.5 859.5 L1859.5 859.5 L1862.5 859.5 L1865.5 859.5 L1868.5 859.5 L1871.5 859.5 L1874.5 859.5 L1877.5 859.5 L1880.5 859.5 L1883.5 859.5 L1886.5 859.5 L1889.5 859.5 L1892.5 859.5 L1895.5 859.5 L1898.5 859.5 L1901.5 859.5 L1904.5 859.5 L1907.5 859.5 L1910.5 859.5 L1913.5 859.5 L1916.5 859.5 L1919.5 859.5 L1922.5 859.5 L1925.5 859.5 L1928.5 859.5 L1931.5 859.5 L1934.5 859.5 L1937.5 859.5 L1940.5 859.5 L1943.5 859.5 L1946.5 859.5 L1949.5 859.5 L1952.5 859.5 L1955.5 859.5 L1958.5 859.5 L1961.5 859.5 L1964.5 859.5 L1967.5 859.5 L1970.5 859.5 L1973.5 859.5 L1976.5 859.5 L1979.5 859.5 L1982.5 859.5 L1985.5 859.5 L1988.5 859.5 L1991.5 859.5 L1994.5 859.5 L1997.5 859.5 L2000.5 859.5 L2003.5 859.5 L2006.5 859.5 L2009.5 859.5 L2012.5 859.5 L2015.5 859.5 L2018.5 859.5 L2021.5 859.5 L2024.5 859.5 L2027.5 859.5 L2030.5 859.5 L2033.5 859.5 L2036 859.5" stroke="#D8B0FF" stroke-width="8.5"/>
<path d="M44.5 849.7 L45.2 849.2 L45.9 848.6 L46.7 847.9 L47.6 847.3 L48.4 846.7 L49.2 846.1 L50.1 845.5 L50.9 844.9 L51.8 844.3 L52.6 843.7 L53.4 843.1 L54.2 842.6 L55 842 L55.8 841.4 L56.6 840.6 L57.3 839.9 L58 839 L58.7 838.2 L59.4 837.4 L60.1 836.7 L60.8 836 L61.5 835.3 L62.3 834.8 L63.1 834.5 L64 834.3 L65 834.3 L66 834.5 L66.6 834.7 L67.2 835 L67.9 835.3 L68.6 835.7 L69.3 836.1 L69.6 836.2 M91.9 868 L91.9 868 L92.2 868.9 L92.6 869.8 L92.9 870.6 L93.2 871.5 L93.6 872.3 L94 873 L94.6 874 L95.1 874.9 L95.7 875.8 L96.3 876.7 L96.9 877.5 L97.5 878.3 L98 879 L98.6 879.8 L99.2 880.5 L99.8 881.2 L100.4 881.8 L101 882.5 L101.6 883.2 L102.2 883.9 L102.8 884.6 L103.4 885.3 L104 886 L104.6 886.8 L105.3 887.6 L105.9 888.5 L106.6 889.3 L106.9 889.7 M143 897.9 L143.2 897.8 L144.1 897.4 L145 897 L145.9 896.5 L146.7 896.1 L147.6 895.5 L148.4 895 L149.2 894.4 L150 893.8 L150.7 893.1 L151.5 892.5 L152.3 891.8 L153 891.2 L153.8 890.5 L154.6 889.9 L155.4 889.2 L156.2 888.6 L157 888 L157.8 887.4 L158.6 886.9 L159.3 886.4 L160.1 885.9 L160.9 885.4 L161.7 884.9 L162.5 884.4 L163.2 883.9 L164.1 883.4 L164.9 882.8 L165.7 882.3 L166.5 881.7 L167.4 881.1 L168.2 880.4 L169.1 879.7 L169.6 879.3 M197 845.6 L197.1 845.4 L197.6 844.7 L198.1 844.1 L198.5 843.5 L199 843 L200 842.1 L200.9 841.3 L201.8 840.8 L202.6 840.4 L203.5 840.2 L204.3 840 L205.1 840 L206 840.1 L206.9 840.2 L207.9 840.4 L209 840.6 L209.7 840.8 L210.5 841 L211.3 841.3 L212 841.6 L212.8 842 L213.6 842.4 L214.5 842.9 L215.3 843.3 L216.2 843.8 L217.1 844.3 L218 844.8 L218.9 845.2 L219.9 845.7 L220.9 846.1 L221.9 846.4 L222.9 846.7 L224 847 L224.6 847.1 M269.3 853.6 L269.5 853.6 L270.3 854 L271.2 854.4 L272 855 L272.6 855.6 L273.3 856.3 L273.9 857.1 L274.5 858 L275.1 859 L275.7 860.1 L276.3 861.1 L276.9 862.1 L277.4 863.1 L278 864 L278.6 864.7 L279.2 865.3 L279.8 865.8 L280.4 866 L281 866 L281.5 865.8 L281.9 865.5 L282.4 865 L282.8 864.3 L283.2 863.6 L283.6 862.8 L284 861.9 L284.4 860.9 L284.8 859.9 L285.2 858.8 L285.7 857.7 L286.2 856.7 L286.7 855.6 L287.3 854.6 L287.9 853.6 L288.5 852.6 L289.2 851.8 L289.4 851.6 M332.2 843.5 L333.1 843.4 L334.1 843.3 L335.1 843.2 L336.1 843 L337 842.8 L337.9 842.6 L338.8 842.4 L339.7 842.1 L340.6 841.8 L341.5 841.6 L342.4 841.3 L343.3 841 L344.2 840.8 L345.1 840.5 L346.1 840.2 L347 840 L347.9 839.8 L348.8 839.6 L349.7 839.4 L350.6 839.2 L351.4 839 L352.3 838.9 L353.2 838.7 L354.1 838.5 L355 838.3 L355.9 838.1 L356.8 837.9 L357.7 837.6 L358.6 837.4 L359.6 837.1 L360.5 836.8 L361.5 836.5 L362.5 836.1 L363.5 835.7 L363.9 835.5 M401.4 839 L402 839.7 L402.7 840.4 L403.4 841.2 L404 842 L404.6 842.7 L405.2 843.5 L405.8 844.3 L406.3 845.1 L406.9 845.9 L407.4 846.8 L407.9 847.6 L408.4 848.5 L408.9 849.4 L409.4 850.3 L409.9 851.2 L410.3 852.1 L410.8 853 L411.3 853.9 L411.7 854.8 L412.2 855.7 L412.7 856.6 L413.1 857.5 L413.6 858.4 L414 859.3 L414.5 860.2 L415 861.1 L415.5 861.9 L416 862.8 L416.4 863.6 L417 864.4 L417.5 865.2 L418 866 L418.6 866.9 L419 867.4 M448.9 904.5 L449.4 904.8 L450 905 L450.8 905.2 L451.6 905.2 L452.5 905.1 L453.3 904.8 L454.1 904.4 L454.9 903.9 L455.6 903.3 L456.4 902.7 L457.2 901.9 L458 901.2 L458.7 900.3 L459.5 899.5 L460.2 898.7 L461 897.9 L461.7 897.1 L462.5 896.3 L463.2 895.6 L464 895 L464.7 894.4 L465.5 893.8 L466.1 893.3 L466.8 892.7 L467.5 892.1 L468.2 891.5 L468.8 890.9 L469.5 890.3 L470.2 889.8 L470.8 889.1 L471.5 888.5 L472.2 887.9 L472.9 887.3 L473.7 886.7 L474.5 886 L475.3 885.4 L476.1 884.7 L476.5 884.4 M514.3 855.2 L514.6 855 L515.4 854.4 L516.2 853.7 L517 853 L517.7 852.4 L518.4 851.8 L519.1 851.2 L519.9 850.6 L520.6 850 L521.4 849.4 L522.2 848.7 L523 848.1 L523.7 847.4 L524.5 846.8 L525.3 846.1 L526.1 845.5 L526.9 844.8 L527.7 844.2 L528.5 843.5 L529.3 842.8 L530.1 842.2 L530.9 841.5 L531.7 840.9 L532.5 840.2 L533.2 839.6 L534 838.9 L534.8 838.3 L535.5 837.7 L536.3 837.1 L537 836.5 L537.7 835.8 L538.4 835.3 L539.1 834.7 L539.7 834.1 L540.1 833.8 M577.8 837.4 L577.9 837.6 L578.5 838.3 L579.1 839.1 L579.7 839.9 L580.2 840.6 L580.7 841.4 L581.2 842.1 L581.7 842.9 L582.2 843.6 L582.7 844.4 L583.2 845.2 L583.7 845.9 L584.1 846.7 L584.7 847.5 L585.2 848.2 L585.7 849 L586.3 849.8 L586.9 850.6 L587.6 851.4 L588.3 852.2 L589 853 L589.6 853.6 L590.2 854.3 L590.8 855 L591.4 855.7 L592.1 856.4 L592.8 857.2 L593.4 857.9 L594.1 858.7 L594.8 859.4 L595.6 860.2 L596.3 861 L597 861.8 L597.8 862.5 L598.5 863.3 L599.3 864 L600 864.8 L600.8 865.5 L601.5 866.2 L602.3 866.9 L603.1 867.6 L603.9 868.2 L604.6 868.8 L604.9 869 M654.6 878.7 L655.4 878.8 L656.2 878.9 L657 879 L658.1 879 L659.2 878.9 L660.2 878.7 L661.2 878.4 L662.1 878.1 L663 877.7 L663.9 877.2 L664.7 876.7 L665.5 876.2 L666.3 875.7 L667.1 875.1 L667.9 874.5 L668.7 874 L669.5 873.4 L670.3 872.9 L671.1 872.4 L672 872 L672.9 871.6 L673.7 871.2 L674.6 870.8 L675.4 870.4 L676.3 870.1 L677.1 869.7 L678 869.3 L678.8 869 L679.7 868.6 L680.5 868.2 L681.4 867.8 L682.3 867.4 L683.2 867 L684.1 866.5 L685.1 866 L685.7 865.7 M724.5 841.3 L724.9 840.6 L725.3 839.9 L725.8 839.1 L726.2 838.3 L726.6 837.5 L727 836.6 L727.4 835.7 L727.7 834.8 L728.1 833.9 L728.5 832.9 L728.8 832 L729.2 831 L729.5 830 L729.8 829 L730.2 828 L730.5 827 L730.9 825.9 L731.2 824.9 L731.5 823.9 L731.9 822.9 L732.2 821.9 L732.6 820.9 L732.9 820 L733.3 819 L733.7 818.1 L734 817.2 L734.4 816.3 L734.8 815.4 L735.2 814.6 L735.6 813.8 L736 813 L736.5 812.1 L736.9 811.4 M764.8 776.2 L765 776 L765.8 775.2 L766.5 774.4 L767.2 773.6 L768 772.9 L768.7 772.2 L769.4 771.6 L770.1 770.9 L770.8 770.3 L771.5 769.7 L772.2 769.1 L772.8 768.6 L773.5 768 L774.2 767.4 L774.9 766.8 L775.6 766.2 L776.3 765.6 L777 765 L777.7 764.3 L778.5 763.7 L779.2 763.1 L779.9 762.4 L780.5 761.8 L781.2 761.2 L781.9 760.6 L782.6 760 L783.3 759.3 L784.1 758.7 L784.8 758.1 L785.6 757.4 L786.4 756.7 L787.2 756 L788.1 755.3 L789 754.6 L789.1 754.6 M824 727.2 L824 727.2 L824.7 726.8 L825.4 726.4 L826 726 L827.1 725.4 L828.2 725 L829.2 724.7 L830.2 724.4 L831.1 724.3 L831.9 724.2 L832.8 724.2 L833.6 724.2 L834.5 724.2 L835.3 724.2 L836.2 724.2 L837.1 724.1 L838 724 L838.9 723.9 L839.7 723.8 L840.6 723.8 L841.4 723.7 L842.2 723.7 L843 723.7 L843.9 723.7 L844.7 723.6 L845.7 723.5 L846.6 723.4 L847.6 723.2 L848.7 722.9 L849.8 722.5 L851 722 L851.7 721.7 L852.4 721.4 L853.2 721 L853.9 720.6 L854.4 720.4 M889.8 694.5 L889.9 694.4 L890.4 693.7 L891 693 L891.6 692.2 L892.1 691.4 L892.6 690.6 L893.1 689.8 L893.5 689 L893.9 688.2 L894.3 687.4 L894.7 686.6 L895 685.8 L895.4 685 L895.7 684.1 L896 683.3 L896.3 682.4 L896.7 681.6 L897 680.7 L897.4 679.8 L897.7 678.9 L898.1 677.9 L898.5 677 L899 676 L899.5 675 L900 674 L900.4 673.3 L900.8 672.5 L901.2 671.7 L901.6 671 L902.1 670.2 L902.5 669.4 L903 668.5 L903.5 667.7 L903.9 666.9 L904.4 666 L904.5 665.9 M927 627.6 L927.5 626.9 L928 626.2 L928.5 625.6 L929 625 L929.8 624.1 L930.7 623.3 L931.5 622.6 L932.3 621.9 L933.2 621.4 L934 620.9 L934.8 620.5 L935.6 620.1 L936.4 619.7 L937.2 619.3 L938 619 L938.8 618.6 L939.6 618.3 L940.4 617.9 L941.2 617.5 L942 617 L942.8 616.5 L943.7 616 L944.5 615.5 L945.2 615 L946 614.6 L946.8 614.1 L947.6 613.7 L948.4 613.2 L949.2 612.7 L950 612.2 L950.8 611.6 L951.7 611 L952.6 610.4 L953.5 609.8 M990.5 603.8 L990.6 603.9 L991.3 604.5 L992 605 L992.8 605.7 L993.6 606.4 L994.4 607.2 L995 607.9 L995.6 608.6 L996.2 609.4 L996.8 610.2 L997.3 610.9 L997.8 611.7 L998.3 612.5 L998.8 613.3 L999.3 614 L999.8 614.8 L1000.3 615.6 L1000.8 616.4 L1001.4 617.2 L1002 618 L1002.6 618.8 L1003.1 619.5 L1003.7 620.3 L1004.3 621.1 L1004.8 621.9 L1005.4 622.7 L1005.9 623.5 L1006.5 624.3 L1007.1 625.1 L1007.6 625.9 L1008.2 626.7 L1008.9 627.5 L1009.5 628.3 L1010.1 629 L1010.8 629.8 L1011.5 630.5 L1011.7 630.7 M1044.8 628.4 L1044.9 628.2 L1045.6 627.3 L1046.2 626.5 L1046.8 625.7 L1047.4 625 L1047.9 624.2 L1048.5 623.6 L1049 623 L1049.9 622 L1050.7 621 L1051.5 620.1 L1052.1 619.2 L1052.8 618.3 L1053.4 617.5 L1053.9 616.8 L1054.4 616.1 L1055 615.4 L1055.4 614.7 L1055.9 614.1 L1056.4 613.5 L1056.9 613 L1057.4 612.5 L1058 612 L1058.9 611.3 L1059.8 610.6 L1060.7 610 L1061.5 609.5 L1062.4 609.1 L1063.3 608.9 L1064.1 608.8 L1065.1 608.8 L1066 609 M1098.4 634.1 L1098.9 634.2 L1099.8 634.4 L1100.7 634.5 L1101.5 634.5 L1102.4 634.6 L1103.3 634.7 L1104.2 634.8 L1105.1 634.9 L1106 635 L1106.9 635.2 L1107.9 635.4 L1108.8 635.5 L1109.7 635.7 L1110.7 635.9 L1111.6 636.1 L1112.6 636.3 L1113.5 636.4 L1114.4 636.5 L1115.4 636.6 L1116.3 636.6 L1117.2 636.6 L1118.1 636.5 L1119 636.4 L1119.9 636.2 L1120.8 635.9 L1121.6 635.6 L1122.5 635.2 L1123.3 634.8 L1124.2 634.4 L1125 633.9 L1125.8 633.4 L1126.7 632.8 L1127.2 632.5 M1164.8 612 L1165 611.9 L1165.9 611.3 L1166.8 610.7 L1167.6 610.1 L1168.3 609.4 L1169 608.8 L1169.7 608.1 L1170.4 607.5 L1171 606.8 L1171.7 606.2 L1172.3 605.5 L1172.9 604.9 L1173.6 604.3 L1174.3 603.6 L1175 603 L1175.7 602.4 L1176.4 601.9 L1177.1 601.4 L1177.8 600.9 L1178.5 600.5 L1179.2 600 L1179.9 599.6 L1180.6 599.1 L1181.3 598.6 L1182.1 598 L1182.8 597.4 L1183.6 596.7 L1184.4 595.9 L1185.2 595 L1186 594 L1186.5 593.4 L1186.9 592.8 L1187.4 592.1 L1187.9 591.4 L1188.4 590.6 L1188.7 590.1 M1218.1 558.2 L1218.7 557.8 L1219.6 557.2 L1220.5 556.6 L1221.4 556 L1222.3 555.3 L1223.2 554.7 L1224.1 554 L1225 553.4 L1225.8 552.8 L1226.7 552.2 L1227.6 551.6 L1228.5 551.1 L1229.3 550.6 L1230.2 550.1 L1231 549.7 L1231.8 549.4 L1232.5 549 L1233.3 548.8 L1234 548.6 L1235.1 548.4 L1236.2 548.3 L1237.1 548.3 L1238 548.3 L1238.9 548.5 L1239.8 548.8 L1240.6 549.2 L1241.4 549.7 L1242.2 550.3 L1243.1 550.9 L1244 551.7 L1245 552.6 L1245.5 553.1 M1271.8 589.7 L1272 590 L1272.8 590.9 L1273.5 591.7 L1274.2 592.5 L1275 593.3 L1275.7 594 L1276.4 594.7 L1277.1 595.4 L1277.8 596.1 L1278.5 596.7 L1279.2 597.3 L1279.8 598 L1280.5 598.6 L1281.2 599.3 L1281.9 599.9 L1282.6 600.6 L1283.3 601.3 L1284 602 L1284.7 602.7 L1285.3 603.2 L1285.9 603.8 L1286.5 604.3 L1287.1 604.8 L1287.7 605.2 L1288.3 605.7 L1288.9 606.2 L1289.5 606.7 L1290.2 607.2 L1290.8 607.9 L1291.4 608.6 L1292.1 609.3 L1292.8 610.2 L1293.6 611.2 L1294.3 612.3 L1295.1 613.6 L1295.3 613.8 M1315.3 655.6 L1315.5 656 L1316.1 657 L1316.7 658 L1317.2 659 L1317.8 660 L1318.4 660.9 L1319 661.9 L1319.6 662.8 L1320.1 663.7 L1320.7 664.5 L1321.3 665.4 L1321.9 666.2 L1322.5 667 L1323 667.9 L1323.6 668.7 L1324.2 669.4 L1324.7 670.2 L1325.3 671 L1325.8 671.7 L1326.4 672.5 L1326.9 673.2 L1327.5 674 L1328 674.7 L1328.5 675.4 L1329.1 676.2 L1329.6 676.9 L1330.1 677.6 L1330.6 678.3 L1331.1 679.1 L1331.6 679.8 L1332.1 680.5 L1332.5 681.3 L1333 682 L1333.6 682.9 L1333.8 683.4 M1357.1 721.7 L1357.4 722.2 L1357.8 723 L1358.3 723.8 L1358.7 724.7 L1359.1 725.5 L1359.5 726.4 L1359.9 727.3 L1360.4 728.3 L1360.8 729.2 L1361.2 730.2 L1361.7 731.2 L1362.1 732.1 L1362.6 733.1 L1363 734.1 L1363.5 735.1 L1363.9 736.1 L1364.4 737.1 L1364.8 738.1 L1365.3 739.1 L1365.7 740.1 L1366.2 741 L1366.7 742 L1367.1 742.9 L1367.6 743.8 L1368.1 744.7 L1368.6 745.5 L1369 746.4 L1369.5 747.2 L1370 747.9 L1370.5 748.7 L1371 749.3 L1371.4 749.8 M1410.4 748.4 L1411.2 748.1 L1412.1 748 L1413 748 L1413.7 748.1 L1414.5 748.4 L1415.2 748.7 L1416 749.1 L1416.7 749.5 L1417.5 750.1 L1418.3 750.6 L1419.1 751.3 L1419.9 751.9 L1420.7 752.6 L1421.5 753.4 L1422.3 754.1 L1423.2 754.8 L1424 755.6 L1424.8 756.3 L1425.6 757 L1426.4 757.7 L1427.2 758.4 L1428 759 L1428.8 759.6 L1429.6 760.2 L1430.3 760.7 L1431.1 761.3 L1431.9 761.9 L1432.7 762.4 L1433.4 763 L1434.2 763.6 L1435 764.1 L1435.8 764.7 L1436.5 765.3 L1437.3 765.9 L1438.1 766.5 L1438.9 767.1 L1439.7 767.8 L1440.5 768.4 L1441 768.8 M1473.2 798.9 L1473.8 799.5 L1474.5 800.2 L1475.1 800.9 L1475.8 801.6 L1476.4 802.3 L1477 803 L1477.7 803.8 L1478.3 804.6 L1478.9 805.5 L1479.5 806.4 L1480.1 807.3 L1480.6 808.2 L1481.1 809.1 L1481.6 810 L1482.1 810.9 L1482.6 811.8 L1483.1 812.7 L1483.6 813.5 L1484.1 814.4 L1484.7 815.2 L1485.2 816 L1485.8 816.8 L1486.4 817.5 L1487 818.2 L1487.6 818.8 L1488.3 819.4 L1488.8 819.9 M1521.9 817.3 L1521.9 817.3 L1522.7 816.9 L1523.6 816.5 L1524.5 816.3 L1525.3 816.1 L1526.2 816 L1527 816 L1527.8 816.1 L1528.7 816.3 L1529.6 816.6 L1530.4 816.9 L1531.3 817.3 L1532.2 817.8 L1533 818.3 L1533.9 818.9 L1534.8 819.5 L1535.6 820.1 L1536.5 820.8 L1537.3 821.4 L1538.2 822.1 L1539 822.8 L1539.8 823.5 L1540.6 824.2 L1541.4 824.9 L1542.2 825.6 L1542.9 826.2 L1543.6 826.9 L1544.2 827.3 M1573.6 837.3 L1574.3 836.9 L1575.3 836.4 L1576.2 835.9 L1577.1 835.4 L1578 835 L1578.9 834.6 L1579.7 834.1 L1580.6 833.6 L1581.4 833 L1582.2 832.5 L1583.1 831.9 L1583.9 831.4 L1584.7 830.8 L1585.5 830.3 L1586.4 829.8 L1587.3 829.4 L1588.1 829 L1589.1 828.6 L1590 828.3 L1591 828.1 L1592 828 L1593 828 L1593.8 828 L1594.6 828.1 L1595.4 828.3 L1596.3 828.5 L1597.2 828.7 L1597.4 828.8 M1633.2 845.4 L1633.6 845.6 L1634.3 846.1 L1635 846.5 L1636 847.2 L1636.9 847.8 L1637.7 848.4 L1638.5 849.1 L1639.2 849.7 L1639.9 850.4 L1640.5 851 L1641.2 851.7 L1641.8 852.3 L1642.4 853 L1642.9 853.6 L1643.5 854.3 L1644.1 854.9 L1644.7 855.6 L1645.3 856.3 L1646 857 L1646.7 857.7 L1647.3 858.5 L1647.9 859.3 L1648.5 860.1 L1649 861 L1649.6 861.8 L1650.2 862.7 L1650.8 863.5 L1651.4 864.3 L1652 865.1 L1652.6 865.9 L1653.3 866.6 L1654 867.3 L1654.4 867.6 M1696.5 882.4 L1697 882.7 L1697.6 883 L1699.3 884 L1700.4 884.9 L1701.1 885.7 L1701.5 886.3 L1702 886.6 L1702.6 886.7 L1703.5 886.5 L1704.1 886.3 L1704.7 885.9 L1705.4 885.5 L1706.1 885 L1706.8 884.4 L1707.6 883.7 L1708.4 883 L1709.2 882.3 L1710 881.6 L1710.8 880.8 L1711.6 880.1 L1712.4 879.3 L1713.2 878.7 L1714 878 L1714.8 877.4 L1715.5 876.9 L1716.3 876.4 L1717.1 875.8 L1717.9 875.3 L1718.6 874.8 L1719.4 874.3 L1720.2 873.8 L1721.1 873.2 L1721.9 872.6 L1722.7 872 L1723.5 871.3 L1724.3 870.6 L1724.4 870.6 M1755.7 862.2 L1756 862.4 L1756.8 862.9 L1757.6 863.4 L1758.3 863.7 L1759 864 L1760.1 864.3 L1761.2 864.5 L1762.2 864.6 L1763.2 864.6 L1764.2 864.5 L1765.1 864.4 L1765.9 864.2 L1766.8 864 L1767.6 863.7 L1768.5 863.5 L1769.3 863.3 L1770.2 863.2 L1771.1 863 L1772 863 L1772.9 863 L1773.8 863.1 L1774.7 863.1 L1775.7 863.2 L1776.6 863.3 L1777.5 863.4 L1778.4 863.6 L1779.3 863.7 L1780.2 863.8 L1781.1 863.9 L1782.1 863.9 L1783 864 L1783.9 864 M1822 870.4 L1822.1 870.4 L1822.8 870.7 L1823.5 871 L1824.8 871.5 L1825.9 872 L1826.9 872.4 L1827.8 872.9 L1828.7 873.3 L1829.5 873.6 L1830.2 874 L1830.9 874.3 L1831.7 874.5 L1832.4 874.7 L1833.2 874.9 L1834.1 875 L1835 875 L1835.8 875 L1836.7 874.8 L1837.5 874.6 L1838.4 874.3 L1839.3 874 L1840.1 873.6 L1841 873.3 L1841.9 872.9 L1842.8 872.5 L1843.8 872.1 L1844.8 871.8 L1845.8 871.5 L1846.8 871.2 L1847.9 871.1 L1849 871 L1849.3 871 M1891 882.9 L1891.2 882.9 L1892 883 L1893.1 883 L1894.1 882.9 L1895.1 882.7 L1896.1 882.5 L1897 882.1 L1897.8 881.7 L1898.7 881.3 L1899.5 880.8 L1900.3 880.3 L1901.2 879.7 L1902 879.1 L1902.8 878.6 L1903.6 878 L1904.4 877.5 L1905.2 876.9 L1906.1 876.4 L1907 876 L1907.9 875.6 L1908.7 875.3 L1909.6 874.9 L1910.5 874.6 L1911.4 874.3 L1912.3 873.9 L1913.2 873.6 L1914.2 873.3 L1915.1 873 L1916 872.6 L1916.9 872.2 L1917.8 871.8 L1918.7 871.4 L1919.6 870.9 L1920.4 870.4 L1921.3 869.9 L1922.1 869.3 M1957.7 850.3 L1957.8 850.4 L1958.6 850.9 L1959.4 851.5 L1960 852.1 L1960.7 852.8 L1961.3 853.6 L1961.8 854.4 L1962.4 855.2 L1962.9 856.1 L1963.4 856.9 L1963.9 857.8 L1964.4 858.7 L1964.9 859.6 L1965.4 860.5 L1965.9 861.4 L1966.4 862.2 L1967 863 L1967.6 863.8 L1968.1 864.5 L1968.7 865.3 L1969.2 866.1 L1969.7 866.9 L1970.2 867.7 L1970.8 868.5 L1971.3 869.3 L1971.8 870.1 L1972.4 870.9 L1973 871.6 L1973.5 872.4 L1974.2 873.1 L1974.8 873.9 L1975.5 874.6 L1975.9 875 M2011.2 874.5 L2011.6 874 L2012.2 873.3 L2012.7 872.5 L2013.3 871.7 L2014 870.9 L2014.6 870 L2015.3 869.1 L2016 868.1 L2016.7 867.1 L2017.5 866 L2018 865.4 L2018.5 864.7 L2019 863.9 L2019.5 863.2 L2020.1 862.4 L2020.6 861.5 L2021.2 860.7 L2021.9 859.8 L2022.5 858.9 L2023.1 857.9 L2023.8 857 L2024.4 856 L2025.1 855.1 L2025.7 854.1 L2026.4 853.1 L2027.1 852.1 L2027.7 851.1 L2028.4 850.2 L2029 849.2 L2029.1 849.1" stroke="#FF0000" stroke-width="11" stroke-linejoin="round"/>
<path d="M27.4 856.2L28.4 867.1 M89.4 847.7L80.6 854.3 M121.8 894.6L120.2 905.4 M181.8 860.5L190.2 867.5 M246.6 842.8L245.4 853.8 M308.9 834.6L311.1 845.4 M384 819.5L383 830.5 M438.2 881.5L429.8 888.5 M493.1 865.6L499.9 874.4 M556.6 813L556.4 824 M633.1 864.9L631.9 875.9 M703.1 848.8L708.9 858.2 M746.7 790.6L755.3 797.4 M803.6 736.6L810.4 745.4 M869.8 704.5L876.2 713.5 M911 644L920.5 649.5 M967.2 589.8L972.2 599.6 M1029 638.1L1032.3 648.5 M1085.3 618.5L1077.8 626.5 M1141.3 615.6L1146.7 625.2 M1196.3 567.4L1204.7 574.6 M1262.5 567.8L1253.5 574.2 M1310.4 632.4L1300.4 636.9 M1349.7 700.8L1340.3 706.4 M1390.2 756.6L1387.8 767.4 M1463.8 782.5L1456.2 790.5 M1505.8 819.6L1505.9 830.6 M1560.8 835.8L1553.6 844.1 M1616.2 831L1611.8 841 M1676.6 866.2L1673.4 876.8 M1737.7 846.7L1740.3 857.3 M1805.2 857.7L1801.8 868.1 M1870.5 868.7L1867.5 879.3 M1934.1 846.3L1939.9 855.7 M1995 880.6L1993 891.4" stroke="#FF0000" stroke-width="1.4"/>
<path d="M23.5 859.5 L26.5 859.5 L29.5 859.5 L32.5 859.5 L35.5 859.5 L38.5 859.5 L41.5 859.5 L44.5 859.5 L47.5 859.5 L50.5 859.5 L53.5 859.5 L56.5 859.5 L59.5 859.5 L62.5 859.5 L65.5 859.5 L68.5 859.5 L71.5 859.5 L74.5 859.5 L77.5 859.5 L80.5 859.5 L83.5 859.5 L86.5 859.5 L89.5 859.5 L92.5 859.5 L95.5 859.5 L98.5 859.5 L101.5 859.5 L104.5 859.5 L107.5 859.5 L110.5 859.5 L113.5 859.5 L116.5 859.5 L119.5 859.5 L122.5 859.5 L125.5 859.5 L128.5 859.5 L131.5 859.5 L134.5 859.5 L137.5 859.5 L140.5 859.5 L143.5 859.5 L146.5 859.5 L149.5 859.5 L152.5 859.5 L155.5 859.5 L158.5 859.5 L161.5 859.5 L164.5 859.5 L167.5 859.5 L170.5 859.5 L173.5 859.5 L176.5 859.5 L179.5 859.5 L182.5 859.5 L185.5 859.5 L188.5 859.5 L191.5 859.5 L194.5 859.5 L197.5 859.5 L200.5 859.5 L203.5 859.5 L206.5 859.5 L209.5 859.5 L212.5 859.5 L215.5 859.5 L218.5 859.5 L221.5 859.5 L224.5 859.5 L227.5 859.5 L230.5 859.5 L233.5 859.5 L236.5 859.5 L239.5 859.5 L242.5 859.5 L245.5 859.5 L248.5 859.5 L251.5 859.5 L254.5 859.5 L257.5 859.5 L260.5 859.5 L263.5 859.5 L266.5 859.5 L269.5 859.5 L272.5 859.5 L275.5 859.5 L278.5 859.5 L281.5 859.5 L284.5 859.5 L287.5 859.5 L290.5 859.5 L293.5 859.5 L296.5 859.5 L299.5 859.5 L302.5 859.5 L305.5 859.5 L308.5 859.5 L311.5 859.5 L314.5 859.5 L317.5 859.5 L320.5 859.5 L323.5 859.5 L326.5 859.5 L329.5 859.5 L332.5 859.5 L335.5 859.5 L338.5 859.5 L341.5 859.5 L344.5 859.5 L347.5 859.5 L350.5 859.5 L353.5 859.5 L356.5 859.5 L359.5 859.5 L362.5 859.5 L365.5 859.5 L368.5 859.5 L371.5 859.5 L374.5 859.5 L377.5 859.5 L380.5 859.5 L383.5 859.5 L386.5 859.5 L389.5 859.5 L392.5 859.5 L395.5 859.5 L398.5 859.5 L401.5 859.5 L404.5 859.5 L407.5 859.5 L410.5 859.5 L413.5 859.5 L416.5 859.5 L419.5 859.5 L422.5 859.5 L425.5 859.5 L428.5 859.5 L431.5 859.5 L434.5 859.5 L437.5 859.5 L440.5 859.5 L443.5 859.5 L446.5 859.5 L449.5 859.5 L452.5 859.5 L455.5 859.5 L458.5 859.5 L461.5 859.5 L464.5 859.5 L467.5 859.5 L470.5 859.5 L473.5 859.5 L476.5 859.5 L479.5 859.5 L482.5 859.5 L485.5 859.5 L488.5 859.5 L491.5 859.5 L494.5 859.5 L497.5 859.4 L500.5 859.4 L503.5 859.4 L506.5 859.4 L509.5 859.4 L512.5 859.4 L515.5 859.4 L518.5 859.4 L521.5 859.4 L524.5 859.4 L527.5 859.3 L530.5 859.3 L533.5 859.3 L536.5 859.3 L539.5 859.3 L542.5 859.2 L545.5 859.2 L548.5 859.2 L551.5 859.1 L554.5 859.1 L557.5 859.1 L560.5 859 L563.5 859 L566.5 858.9 L569.5 858.9 L572.5 858.8 L575.5 858.7 L578.5 858.7 L581.5 858.6 L584.5 858.5 L587.5 858.4 L590.5 858.3 L593.5 858.2 L596.5 858.1 L599.5 857.9 L602.5 857.8 L605.5 857.7 L608.5 857.5 L611.5 857.3 L614.5 857.1 L617.5 856.9 L620.5 856.7 L623.5 856.5 L626.5 856.2 L629.5 856 L632.5 855.7 L635.5 855.4 L638.5 855.1 L641.5 854.7 L644.5 854.3 L647.5 853.9 L650.5 853.5 L653.5 853 L656.5 852.6 L659.5 852.1 L662.5 851.5 L665.5 850.9 L668.5 850.3 L671.5 849.7 L674.5 849 L677.5 848.3 L680.5 847.5 L683.5 846.7 L686.5 845.8 L689.5 844.9 L692.5 844 L695.5 843 L698.5 841.9 L701.5 840.8 L704.5 839.7 L707.5 838.4 L710.5 837.2 L713.5 835.8 L716.5 834.4 L719.5 833 L722.5 831.5 L725.5 829.9 L728.5 828.2 L731.5 826.5 L734.5 824.7 L737.5 822.9 L740.5 821 L743.5 819 L746.5 816.9 L749.5 814.8 L752.5 812.6 L755.5 810.3 L758.5 807.9 L761.5 805.5 L764.5 803 L767.5 800.4 L770.5 797.8 L773.5 795 L776.5 792.3 L779.5 789.4 L782.5 786.5 L785.5 783.5 L788.5 780.4 L791.5 777.3 L794.5 774.1 L797.5 770.9 L800.5 767.6 L803.5 764.3 L806.5 760.9 L809.5 757.4 L812.5 753.9 L815.5 750.4 L818.5 746.9 L821.5 743.3 L824.5 739.7 L827.5 736 L830.5 732.3 L833.5 728.7 L836.5 725 L839.5 721.3 L842.5 717.6 L845.5 713.9 L848.5 710.2 L851.5 706.5 L854.5 702.9 L857.5 699.3 L860.5 695.7 L863.5 692.1 L866.5 688.6 L869.5 685.1 L872.5 681.7 L875.5 678.3 L878.5 675 L881.5 671.8 L884.5 668.6 L887.5 665.5 L890.5 662.5 L893.5 659.6 L896.5 656.7 L899.5 654 L902.5 651.3 L905.5 648.8 L908.5 646.3 L911.5 643.9 L914.5 641.7 L917.5 639.5 L920.5 637.5 L923.5 635.6 L926.5 633.8 L929.5 632.1 L932.5 630.5 L935.5 629 L938.5 627.7 L941.5 626.4 L944.5 625.3 L947.5 624.3 L950.5 623.3 L953.5 622.5 L956.5 621.8 L959.5 621.2 L962.5 620.7 L965.5 620.3 L968.5 620 L971.5 619.8 L974.5 619.7 L977.5 619.6 L980.5 619.6 L983.5 619.7 L986.5 619.9 L989.5 620.1 L992.5 620.3 L995.5 620.7 L998.5 621 L1001.5 621.4 L1004.5 621.9 L1007.5 622.3 L1010.5 622.8 L1013.5 623.3 L1016.5 623.8 L1019.5 624.3 L1022.5 624.8 L1025.5 625.3 L1028.5 625.8 L1031.5 626.2 L1034.5 626.7 L1037.5 627.1 L1040.5 627.5 L1043.5 627.8 L1046.5 628.1 L1049.5 628.3 L1052.5 628.5 L1055.5 628.7 L1058.5 628.8 L1061.5 628.8 L1064.5 628.8 L1067.5 628.7 L1070.5 628.5 L1073.5 628.2 L1076.5 627.9 L1079.5 627.6 L1082.5 627.1 L1085.5 626.6 L1088.5 626 L1091.5 625.3 L1094.5 624.6 L1097.5 623.8 L1100.5 622.9 L1103.5 622 L1106.5 621 L1109.5 620 L1112.5 618.9 L1115.5 617.7 L1118.5 616.5 L1121.5 615.2 L1124.5 613.9 L1127.5 612.6 L1130.5 611.2 L1133.5 609.8 L1136.5 608.4 L1139.5 607 L1142.5 605.5 L1145.5 604.1 L1148.5 602.6 L1151.5 601.1 L1154.5 599.7 L1157.5 598.3 L1160.5 596.8 L1163.5 595.5 L1166.5 594.1 L1169.5 592.8 L1172.5 591.5 L1175.5 590.3 L1178.5 589.1 L1181.5 588 L1184.5 586.9 L1187.5 585.9 L1190.5 585 L1193.5 584.2 L1196.5 583.5 L1199.5 582.8 L1202.5 582.2 L1205.5 581.8 L1208.5 581.4 L1211.5 581.2 L1214.5 581 L1217.5 581 L1220.5 581 L1223.5 581.2 L1226.5 581.5 L1229.5 581.9 L1232.5 582.5 L1235.5 583.2 L1238.5 583.9 L1241.5 584.9 L1244.5 585.9 L1247.5 587.1 L1250.5 588.4 L1253.5 589.8 L1256.5 591.3 L1259.5 593 L1262.5 594.8 L1265.5 596.7 L1268.5 598.7 L1271.5 600.8 L1274.5 603.1 L1277.5 605.4 L1280.5 607.9 L1283.5 610.5 L1286.5 613.2 L1289.5 616 L1292.5 618.8 L1295.5 621.8 L1298.5 624.9 L1301.5 628 L1304.5 631.2 L1307.5 634.5 L1310.5 637.9 L1313.5 641.4 L1316.5 644.9 L1319.5 648.4 L1322.5 652 L1325.5 655.7 L1328.5 659.4 L1331.5 663.2 L1334.5 667 L1337.5 670.8 L1340.5 674.6 L1343.5 678.5 L1346.5 682.4 L1349.5 686.3 L1352.5 690.2 L1355.5 694.1 L1358.5 698 L1361.5 701.9 L1364.5 705.8 L1367.5 709.7 L1370.5 713.5 L1373.5 717.4 L1376.5 721.2 L1379.5 725 L1382.5 728.8 L1385.5 732.5 L1388.5 736.2 L1391.5 739.8 L1394.5 743.4 L1397.5 747 L1400.5 750.5 L1403.5 754 L1406.5 757.4 L1409.5 760.7 L1412.5 764 L1415.5 767.3 L1418.5 770.5 L1421.5 773.6 L1424.5 776.6 L1427.5 779.6 L1430.5 782.6 L1433.5 785.4 L1436.5 788.2 L1439.5 790.9 L1442.5 793.6 L1445.5 796.2 L1448.5 798.7 L1451.5 801.2 L1454.5 803.6 L1457.5 805.9 L1460.5 808.1 L1463.5 810.3 L1466.5 812.5 L1469.5 814.5 L1472.5 816.5 L1475.5 818.4 L1478.5 820.3 L1481.5 822.1 L1484.5 823.8 L1487.5 825.5 L1490.5 827.1 L1493.5 828.6 L1496.5 830.1 L1499.5 831.6 L1502.5 833 L1505.5 834.3 L1508.5 835.6 L1511.5 836.8 L1514.5 838 L1517.5 839.1 L1520.5 840.2 L1523.5 841.2 L1526.5 842.2 L1529.5 843.1 L1532.5 844 L1535.5 844.9 L1538.5 845.7 L1541.5 846.5 L1544.5 847.2 L1547.5 847.9 L1550.5 848.6 L1553.5 849.2 L1556.5 849.8 L1559.5 850.4 L1562.5 851 L1565.5 851.5 L1568.5 852 L1571.5 852.4 L1574.5 852.9 L1577.5 853.3 L1580.5 853.7 L1583.5 854.1 L1586.5 854.4 L1589.5 854.7 L1592.5 855.1 L1595.5 855.3 L1598.5 855.6 L1601.5 855.9 L1604.5 856.1 L1607.5 856.4 L1610.5 856.6 L1613.5 856.8 L1616.5 857 L1619.5 857.1 L1622.5 857.3 L1625.5 857.5 L1628.5 857.6 L1631.5 857.7 L1634.5 857.9 L1637.5 858 L1640.5 858.1 L1643.5 858.2 L1646.5 858.3 L1649.5 858.4 L1652.5 858.5 L1655.5 858.6 L1658.5 858.6 L1661.5 858.7 L1664.5 858.8 L1667.5 858.8 L1670.5 858.9 L1673.5 858.9 L1676.5 859 L1679.5 859 L1682.5 859.1 L1685.5 859.1 L1688.5 859.1 L1691.5 859.2 L1694.5 859.2 L1697.5 859.2 L1700.5 859.2 L1703.5 859.3 L1706.5 859.3 L1709.5 859.3 L1712.5 859.3 L1715.5 859.3 L1718.5 859.3 L1721.5 859.4 L1724.5 859.4 L1727.5 859.4 L1730.5 859.4 L1733.5 859.4 L1736.5 859.4 L1739.5 859.4 L1742.5 859.4 L1745.5 859.4 L1748.5 859.4 L1751.5 859.4 L1754.5 859.5 L1757.5 859.5 L1760.5 859.5 L1763.5 859.5 L1766.5 859.5 L1769.5 859.5 L1772.5 859.5 L1775.5 859.5 L1778.5 859.5 L1781.5 859.5 L1784.5 859.5 L1787.5 859.5 L1790.5 859.5 L1793.5 859.5 L1796.5 859.5 L1799.5 859.5 L1802.5 859.5 L1805.5 859.5 L1808.5 859.5 L1811.5 859.5 L1814.5 859.5 L1817.5 859.5 L1820.5 859.5 L1823.5 859.5 L1826.5 859.5 L1829.5 859.5 L1832.5 859.5 L1835.5 859.5 L1838.5 859.5 L1841.5 859.5 L1844.5 859.5 L1847.5 859.5 L1850.5 859.5 L1853.5 859.5 L1856.5 859.5 L1859.5 859.5 L1862.5 859.5 L1865.5 859.5 L1868.5 859.5 L1871.5 859.5 L1874.5 859.5 L1877.5 859.5 L1880.5 859.5 L1883.5 859.5 L1886.5 859.5 L1889.5 859.5 L1892.5 859.5 L1895.5 859.5 L1898.5 859.5 L1901.5 859.5 L1904.5 859.5 L1907.5 859.5 L1910.5 859.5 L1913.5 859.5 L1916.5 859.5 L1919.5 859.5 L1922.5 859.5 L1925.5 859.5 L1928.5 859.5 L1931.5 859.5 L1934.5 859.5 L1937.5 859.5 L1940.5 859.5 L1943.5 859.5 L1946.5 859.5 L1949.5 859.5 L1952.5 859.5 L1955.5 859.5 L1958.5 859.5 L1961.5 859.5 L1964.5 859.5 L1967.5 859.5 L1970.5 859.5 L1973.5 859.5 L1976.5 859.5 L1979.5 859.5 L1982.5 859.5 L1985.5 859.5 L1988.5 859.5 L1991.5 859.5 L1994.5 859.5 L1997.5 859.5 L2000.5 859.5 L2003.5 859.5 L2006.5 859.5 L2009.5 859.5 L2012.5 859.5 L2015.5 859.5 L2018.5 859.5 L2021.5 859.5 L2024.5 859.5 L2027.5 859.5 L2030.5 859.5 L2033.5 859.5 L2036.5 859.5" stroke="#FF0000" stroke-width="11"/>
<path d="M24 1585 L26.5 1585 L29.5 1585 L32.5 1585 L35.5 1585 L38.5 1585 L41.5 1585 L44.5 1585 L47.5 1585 L50.5 1585 L53.5 1585 L56.5 1585 L59.5 1585 L62.5 1585 L65.5 1585 L68.5 1585 L71.5 1585 L74.5 1585 L77.5 1585 L80.5 1585 L83.5 1585 L86.5 1585 L89.5 1585 L92.5 1585 L95.5 1585 L98.5 1585 L101.5 1585 L104.5 1585 L107.5 1585 L110.5 1585 L113.5 1585 L116.5 1585 L119.5 1585 L122.5 1585 L125.5 1585 L128.5 1585 L131.5 1585 L134.5 1585 L137.5 1585 L140.5 1585 L143.5 1585 L146.5 1585 L149.5 1585 L152.5 1585 L155.5 1585 L158.5 1585 L161.5 1585 L164.5 1585 L167.5 1585 L170.5 1585 L173.5 1585 L176.5 1585 L179.5 1585 L182.5 1585 L185.5 1585 L188.5 1585 L191.5 1585 L194.5 1585 L197.5 1585 L200.5 1585 L203.5 1585 L206.5 1585 L209.5 1585 L212.5 1585 L215.5 1585 L218.5 1585 L221.5 1585 L224.5 1585 L227.5 1585 L230.5 1585 L233.5 1585 L236.5 1585 L239.5 1585 L242.5 1585 L245.5 1585 L248.5 1585 L251.5 1585 L254.5 1585 L257.5 1585 L260.5 1585 L263.5 1585 L266.5 1585 L269.5 1585 L272.5 1585 L275.5 1585 L278.5 1585 L281.5 1585 L284.5 1585 L287.5 1585 L290.5 1585 L293.5 1585 L296.5 1585 L299.5 1585 L302.5 1585 L305.5 1585 L308.5 1585 L311.5 1585 L314.5 1585 L317.5 1585 L320.5 1585 L323.5 1585 L326.5 1585 L329.5 1585 L332.5 1585 L335.5 1585 L338.5 1585 L341.5 1585 L344.5 1585 L347.5 1585 L350.5 1585 L353.5 1585 L356.5 1585 L359.5 1585 L362.5 1585 L365.5 1585 L368.5 1585 L371.5 1585 L374.5 1585 L377.5 1585 L380.5 1585 L383.5 1585 L386.5 1585 L389.5 1585 L392.5 1585 L395.5 1585 L398.5 1585 L401.5 1585 L404.5 1585 L407.5 1585 L410.5 1585 L413.5 1585 L416.5 1585 L419.5 1585 L422.5 1585 L425.5 1585 L428.5 1585 L431.5 1585 L434.5 1585 L437.5 1585 L440.5 1585 L443.5 1585 L446.5 1585 L449.5 1585 L452.5 1585 L455.5 1585 L458.5 1585 L461.5 1585 L464.5 1585 L467.5 1585 L470.5 1585 L473.5 1585 L476.5 1585 L479.5 1584.9 L482.5 1584.9 L485.5 1584.9 L488.5 1584.9 L491.5 1584.9 L494.5 1584.9 L497.5 1584.9 L500.5 1584.9 L503.5 1584.9 L506.5 1584.8 L509.5 1584.8 L512.5 1584.8 L515.5 1584.8 L518.5 1584.8 L521.5 1584.7 L524.5 1584.7 L527.5 1584.7 L530.5 1584.6 L533.5 1584.6 L536.5 1584.5 L539.5 1584.5 L542.5 1584.4 L545.5 1584.4 L548.5 1584.3 L551.5 1584.2 L554.5 1584.1 L557.5 1584 L560.5 1583.9 L563.5 1583.8 L566.5 1583.7 L569.5 1583.5 L572.5 1583.4 L575.5 1583.2 L578.5 1583 L581.5 1582.8 L584.5 1582.6 L587.5 1582.4 L590.5 1582.1 L593.5 1581.9 L596.5 1581.6 L599.5 1581.2 L602.5 1580.9 L605.5 1580.5 L608.5 1580.1 L611.5 1579.6 L614.5 1579.2 L617.5 1578.6 L620.5 1578.1 L623.5 1577.5 L626.5 1576.8 L629.5 1576.1 L632.5 1575.3 L635.5 1574.5 L638.5 1573.6 L641.5 1572.7 L644.5 1571.7 L647.5 1570.6 L650.5 1569.5 L653.5 1568.2 L656.5 1566.9 L659.5 1565.5 L662.5 1564.1 L665.5 1562.5 L668.5 1560.8 L671.5 1559 L674.5 1557.1 L677.5 1555.1 L680.5 1553 L683.5 1550.8 L686.5 1548.4 L689.5 1545.9 L692.5 1543.3 L695.5 1540.5 L698.5 1537.6 L701.5 1534.5 L704.5 1531.3 L707.5 1527.9 L710.5 1524.3 L713.5 1520.6 L716.5 1516.7 L719.5 1512.7 L722.5 1508.4 L725.5 1504 L728.5 1499.4 L731.5 1494.6 L734.5 1489.6 L737.5 1484.4 L740.5 1479 L743.5 1473.5 L746.5 1467.7 L749.5 1461.7 L752.5 1455.6 L755.5 1449.2 L758.5 1442.7 L761.5 1435.9 L764.5 1429 L767.5 1421.9 L770.5 1414.6 L773.5 1407.1 L776.5 1399.5 L779.5 1391.6 L782.5 1383.6 L785.5 1375.5 L788.5 1367.2 L791.5 1358.8 L794.5 1350.2 L797.5 1341.5 L800.5 1332.7 L803.5 1323.8 L806.5 1314.8 L809.5 1305.7 L812.5 1296.5 L815.5 1287.3 L818.5 1278.1 L821.5 1268.8 L824.5 1259.5 L827.5 1250.3 L830.5 1241 L833.5 1231.8 L836.5 1222.6 L839.5 1213.5 L842.5 1204.5 L845.5 1195.6 L848.5 1186.8 L851.5 1178.2 L854.5 1169.7 L857.5 1161.3 L860.5 1153.2 L863.5 1145.3 L866.5 1137.6 L869.5 1130.1 L872.5 1122.9 L875.5 1116 L878.5 1109.3 L881.5 1103 L884.5 1097 L887.5 1091.3 L890.5 1085.9 L893.5 1081 L896.5 1076.3 L899.5 1072.1 L902.5 1068.3 L905.5 1064.8 L908.5 1061.8 L911.5 1059.2 L914.5 1057 L917.5 1055.2 L920.5 1053.9 L923.5 1053 L926.5 1052.6 L929.5 1052.5 L932.5 1053 L935.5 1053.8 L938.5 1055.1 L941.5 1056.9 L944.5 1059 L947.5 1061.6 L950.5 1064.6 L953.5 1068 L956.5 1071.8 L959.5 1076 L962.5 1080.6 L965.5 1085.6 L968.5 1090.9 L971.5 1096.6 L974.5 1102.6 L977.5 1108.9 L980.5 1115.5 L983.5 1122.4 L986.5 1129.6 L989.5 1137.1 L992.5 1144.8 L995.5 1152.7 L998.5 1160.8 L1001.5 1169.1 L1004.5 1177.6 L1007.5 1186.2 L1010.5 1195 L1013.5 1203.9 L1016.5 1212.9 L1019.5 1222 L1022.5 1231.2 L1025.5 1240.4 L1028.5 1249.7 L1031.5 1258.9 L1034.5 1268.2 L1037.5 1277.5 L1040.5 1286.7 L1043.5 1295.9 L1046.5 1305.1 L1049.5 1314.2 L1052.5 1323.2 L1055.5 1332.1 L1058.5 1340.9 L1061.5 1349.6 L1064.5 1358.2 L1067.5 1366.6 L1070.5 1374.9 L1073.5 1383.1 L1076.5 1391.1 L1079.5 1398.9 L1082.5 1406.6 L1085.5 1414.1 L1088.5 1421.4 L1091.5 1428.5 L1094.5 1435.5 L1097.5 1442.2 L1100.5 1448.8 L1103.5 1455.2 L1106.5 1461.3 L1109.5 1467.3 L1112.5 1473.1 L1115.5 1478.7 L1118.5 1484.1 L1121.5 1489.3 L1124.5 1494.3 L1127.5 1499.1 L1130.5 1503.7 L1133.5 1508.1 L1136.5 1512.4 L1139.5 1516.5 L1142.5 1520.4 L1145.5 1524.1 L1148.5 1527.6 L1151.5 1531 L1154.5 1534.3 L1157.5 1537.4 L1160.5 1540.3 L1163.5 1543.1 L1166.5 1545.7 L1169.5 1548.2 L1172.5 1550.6 L1175.5 1552.9 L1178.5 1555 L1181.5 1557 L1184.5 1558.9 L1187.5 1560.7 L1190.5 1562.4 L1193.5 1564 L1196.5 1565.5 L1199.5 1566.9 L1202.5 1568.2 L1205.5 1569.4 L1208.5 1570.5 L1211.5 1571.6 L1214.5 1572.6 L1217.5 1573.6 L1220.5 1574.5 L1223.5 1575.3 L1226.5 1576 L1229.5 1576.7 L1232.5 1577.4 L1235.5 1578 L1238.5 1578.6 L1241.5 1579.1 L1244.5 1579.6 L1247.5 1580.1 L1250.5 1580.5 L1253.5 1580.9 L1256.5 1581.2 L1259.5 1581.5 L1262.5 1581.8 L1265.5 1582.1 L1268.5 1582.4 L1271.5 1582.6 L1274.5 1582.8 L1277.5 1583 L1280.5 1583.2 L1283.5 1583.4 L1286.5 1583.5 L1289.5 1583.7 L1292.5 1583.8 L1295.5 1583.9 L1298.5 1584 L1301.5 1584.1 L1304.5 1584.2 L1307.5 1584.3 L1310.5 1584.3 L1313.5 1584.4 L1316.5 1584.5 L1319.5 1584.5 L1322.5 1584.6 L1325.5 1584.6 L1328.5 1584.7 L1331.5 1584.7 L1334.5 1584.7 L1337.5 1584.8 L1340.5 1584.8 L1343.5 1584.8 L1346.5 1584.8 L1349.5 1584.8 L1352.5 1584.9 L1355.5 1584.9 L1358.5 1584.9 L1361.5 1584.9 L1364.5 1584.9 L1367.5 1584.9 L1370.5 1584.9 L1373.5 1584.9 L1376.5 1584.9 L1379.5 1585 L1382.5 1585 L1385.5 1585 L1388.5 1585 L1391.5 1585 L1394.5 1585 L1397.5 1585 L1400.5 1585 L1403.5 1585 L1406.5 1585 L1409.5 1585 L1412.5 1585 L1415.5 1585 L1418.5 1585 L1421.5 1585 L1424.5 1585 L1427.5 1585 L1430.5 1585 L1433.5 1585 L1436.5 1585 L1439.5 1585 L1442.5 1585 L1445.5 1585 L1448.5 1585 L1451.5 1585 L1454.5 1585 L1457.5 1585 L1460.5 1585 L1463.5 1585 L1466.5 1585 L1469.5 1585 L1472.5 1585 L1475.5 1585 L1478.5 1585 L1481.5 1585 L1484.5 1585 L1487.5 1585 L1490.5 1585 L1493.5 1585 L1496.5 1585 L1499.5 1585 L1502.5 1585 L1505.5 1585 L1508.5 1585 L1511.5 1585 L1514.5 1585 L1517.5 1585 L1520.5 1585 L1523.5 1585 L1526.5 1585 L1529.5 1585 L1532.5 1585 L1535.5 1585 L1538.5 1585 L1541.5 1585 L1544.5 1585 L1547.5 1585 L1550.5 1585 L1553.5 1585 L1556.5 1585 L1559.5 1585 L1562.5 1585 L1565.5 1585 L1568.5 1585 L1571.5 1585 L1574.5 1585 L1577.5 1585 L1580.5 1585 L1583.5 1585 L1586.5 1585 L1589.5 1585 L1592.5 1585 L1595.5 1585 L1598.5 1585 L1601.5 1585 L1604.5 1585 L1607.5 1585 L1610.5 1585 L1613.5 1585 L1616.5 1585 L1619.5 1585 L1622.5 1585 L1625.5 1585 L1628.5 1585 L1631.5 1585 L1634.5 1585 L1637.5 1585 L1640.5 1585 L1643.5 1585 L1646.5 1585 L1649.5 1585 L1652.5 1585 L1655.5 1585 L1658.5 1585 L1661.5 1585 L1664.5 1585 L1667.5 1585 L1670.5 1585 L1673.5 1585 L1676.5 1585 L1679.5 1585 L1682.5 1585 L1685.5 1585 L1688.5 1585 L1691.5 1585 L1694.5 1585 L1697.5 1585 L1700.5 1585 L1703.5 1585 L1706.5 1585 L1709.5 1585 L1712.5 1585 L1715.5 1585 L1718.5 1585 L1721.5 1585 L1724.5 1585 L1727.5 1585 L1730.5 1585 L1733.5 1585 L1736.5 1585 L1739.5 1585 L1742.5 1585 L1745.5 1585 L1748.5 1585 L1751.5 1585 L1754.5 1585 L1757.5 1585 L1760.5 1585 L1763.5 1585 L1766.5 1585 L1769.5 1585 L1772.5 1585 L1775.5 1585 L1778.5 1585 L1781.5 1585 L1784.5 1585 L1787.5 1585 L1790.5 1585 L1793.5 1585 L1796.5 1585 L1799.5 1585 L1802.5 1585 L1805.5 1585 L1808.5 1585 L1811.5 1585 L1814.5 1585 L1817.5 1585 L1820.5 1585 L1823.5 1585 L1826.5 1585 L1829.5 1585 L1832.5 1585 L1835.5 1585 L1838.5 1585 L1841.5 1585 L1844.5 1585 L1847.5 1585 L1850.5 1585 L1853.5 1585 L1856.5 1585 L1859.5 1585 L1862.5 1585 L1865.5 1585 L1868.5 1585 L1871.5 1585 L1874.5 1585 L1877.5 1585 L1880.5 1585 L1883.5 1585 L1886.5 1585 L1889.5 1585 L1892.5 1585 L1895.5 1585 L1898.5 1585 L1901.5 1585 L1904.5 1585 L1907.5 1585 L1910.5 1585 L1913.5 1585 L1916.5 1585 L1919.5 1585 L1922.5 1585 L1925.5 1585 L1928.5 1585 L1931.5 1585 L1934.5 1585 L1937.5 1585 L1940.5 1585 L1943.5 1585 L1946.5 1585 L1949.5 1585 L1952.5 1585 L1955.5 1585 L1958.5 1585 L1961.5 1585 L1964.5 1585 L1967.5 1585 L1970.5 1585 L1973.5 1585 L1976.5 1585 L1979.5 1585 L1982.5 1585 L1985.5 1585 L1988.5 1585 L1991.5 1585 L1994.5 1585 L1997.5 1585 L2000.5 1585 L2003.5 1585 L2006.5 1585 L2009.5 1585 L2012.5 1585 L2015.5 1585 L2018.5 1585 L2021.5 1585 L2024.5 1585 L2027.5 1585 L2030.5 1585 L2033.5 1585 L2036 1585" stroke="#B6E4FE" stroke-width="8.5"/>
<path d="M24 1585 L26.5 1585 L29.5 1585 L32.5 1585 L35.5 1585 L38.5 1585 L41.5 1585 L44.5 1585 L47.5 1585 L50.5 1585 L53.5 1585 L56.5 1585 L59.5 1585 L62.5 1585 L65.5 1585 L68.5 1585 L71.5 1585 L74.5 1585 L77.5 1585 L80.5 1585 L83.5 1585 L86.5 1585 L89.5 1585 L92.5 1585 L95.5 1585 L98.5 1585 L101.5 1585 L104.5 1585 L107.5 1585 L110.5 1585 L113.5 1585 L116.5 1585 L119.5 1585 L122.5 1585 L125.5 1585 L128.5 1585 L131.5 1585 L134.5 1585 L137.5 1585 L140.5 1585 L143.5 1585 L146.5 1585 L149.5 1585 L152.5 1585 L155.5 1585 L158.5 1585 L161.5 1585 L164.5 1585 L167.5 1585 L170.5 1585 L173.5 1585 L176.5 1585 L179.5 1585 L182.5 1585 L185.5 1585 L188.5 1585 L191.5 1585 L194.5 1585 L197.5 1585 L200.5 1585 L203.5 1585 L206.5 1585 L209.5 1585 L212.5 1585 L215.5 1585 L218.5 1585 L221.5 1585 L224.5 1585 L227.5 1585 L230.5 1585 L233.5 1585 L236.5 1585 L239.5 1585 L242.5 1585 L245.5 1585 L248.5 1585 L251.5 1585 L254.5 1585 L257.5 1585 L260.5 1585 L263.5 1585 L266.5 1585 L269.5 1585 L272.5 1585 L275.5 1585 L278.5 1585 L281.5 1585 L284.5 1585 L287.5 1585 L290.5 1585 L293.5 1585 L296.5 1585 L299.5 1585 L302.5 1585 L305.5 1585 L308.5 1585 L311.5 1585 L314.5 1585 L317.5 1585 L320.5 1585 L323.5 1585 L326.5 1585 L329.5 1585 L332.5 1585 L335.5 1585 L338.5 1585 L341.5 1585 L344.5 1585 L347.5 1585 L350.5 1585 L353.5 1585 L356.5 1585 L359.5 1585 L362.5 1585 L365.5 1585 L368.5 1585 L371.5 1585 L374.5 1585 L377.5 1585 L380.5 1585 L383.5 1585 L386.5 1585 L389.5 1585 L392.5 1585 L395.5 1585 L398.5 1585 L401.5 1585 L404.5 1585 L407.5 1585 L410.5 1585 L413.5 1585 L416.5 1585 L419.5 1585 L422.5 1585 L425.5 1585 L428.5 1585 L431.5 1585 L434.5 1585 L437.5 1585 L440.5 1585 L443.5 1585 L446.5 1585 L449.5 1585 L452.5 1585 L455.5 1585 L458.5 1585 L461.5 1585 L464.5 1585 L467.5 1585 L470.5 1585 L473.5 1585 L476.5 1585 L479.5 1585 L482.5 1585 L485.5 1585 L488.5 1585 L491.5 1585 L494.5 1585 L497.5 1585 L500.5 1585 L503.5 1585 L506.5 1585 L509.5 1585 L512.5 1585 L515.5 1585 L518.5 1585 L521.5 1585 L524.5 1585 L527.5 1585 L530.5 1585 L533.5 1585 L536.5 1585 L539.5 1585 L542.5 1585 L545.5 1585 L548.5 1585 L551.5 1585 L554.5 1585 L557.5 1585 L560.5 1585 L563.5 1585 L566.5 1585 L569.5 1585 L572.5 1585 L575.5 1585 L578.5 1585 L581.5 1585 L584.5 1585 L587.5 1585 L590.5 1585 L593.5 1585 L596.5 1585 L599.5 1585 L602.5 1585 L605.5 1585 L608.5 1585 L611.5 1585 L614.5 1585 L617.5 1585 L620.5 1585 L623.5 1585 L626.5 1585 L629.5 1585 L632.5 1585 L635.5 1585 L638.5 1585 L641.5 1585 L644.5 1585 L647.5 1585 L650.5 1585 L653.5 1585 L656.5 1585 L659.5 1585 L662.5 1585 L665.5 1585 L668.5 1585 L671.5 1585 L674.5 1585 L677.5 1585 L680.5 1585 L683.5 1585 L686.5 1585 L689.5 1585 L692.5 1585 L695.5 1585 L698.5 1585 L701.5 1585 L704.5 1585 L707.5 1585 L710.5 1585 L713.5 1585 L716.5 1585 L719.5 1585 L722.5 1585 L725.5 1585 L728.5 1585 L731.5 1585 L734.5 1585 L737.5 1585 L740.5 1585 L743.5 1585 L746.5 1585 L749.5 1585 L752.5 1585 L755.5 1585 L758.5 1585 L761.5 1585 L764.5 1585 L767.5 1585 L770.5 1585 L773.5 1585 L776.5 1585 L779.5 1585 L782.5 1584.9 L785.5 1584.9 L788.5 1584.9 L791.5 1584.9 L794.5 1584.9 L797.5 1584.9 L800.5 1584.9 L803.5 1584.9 L806.5 1584.9 L809.5 1584.8 L812.5 1584.8 L815.5 1584.8 L818.5 1584.8 L821.5 1584.7 L824.5 1584.7 L827.5 1584.7 L830.5 1584.6 L833.5 1584.6 L836.5 1584.5 L839.5 1584.5 L842.5 1584.4 L845.5 1584.4 L848.5 1584.3 L851.5 1584.2 L854.5 1584.1 L857.5 1584 L860.5 1583.9 L863.5 1583.8 L866.5 1583.7 L869.5 1583.5 L872.5 1583.4 L875.5 1583.2 L878.5 1583 L881.5 1582.8 L884.5 1582.6 L887.5 1582.3 L890.5 1582 L893.5 1581.8 L896.5 1581.4 L899.5 1581.1 L902.5 1580.7 L905.5 1580.3 L908.5 1579.9 L911.5 1579.4 L914.5 1578.9 L917.5 1578.3 L920.5 1577.7 L923.5 1577.1 L926.5 1576.4 L929.5 1575.7 L932.5 1574.9 L935.5 1574 L938.5 1573.1 L941.5 1572.1 L944.5 1571 L947.5 1569.9 L950.5 1568.7 L953.5 1567.4 L956.5 1566 L959.5 1564.5 L962.5 1562.9 L965.5 1561.3 L968.5 1559.5 L971.5 1557.6 L974.5 1555.6 L977.5 1553.5 L980.5 1551.3 L983.5 1548.9 L986.5 1546.5 L989.5 1543.8 L992.5 1541.1 L995.5 1538.2 L998.5 1535.1 L1001.5 1531.9 L1004.5 1528.6 L1007.5 1525 L1010.5 1521.4 L1013.5 1517.5 L1016.5 1513.5 L1019.5 1509.3 L1022.5 1504.9 L1025.5 1500.4 L1028.5 1495.7 L1031.5 1490.8 L1034.5 1485.7 L1037.5 1480.4 L1040.5 1475 L1043.5 1469.3 L1046.5 1463.5 L1049.5 1457.5 L1052.5 1451.3 L1055.5 1445 L1058.5 1438.5 L1061.5 1431.8 L1064.5 1424.9 L1067.5 1417.9 L1070.5 1410.7 L1073.5 1403.4 L1076.5 1396 L1079.5 1388.4 L1082.5 1380.7 L1085.5 1372.8 L1088.5 1364.9 L1091.5 1356.9 L1094.5 1348.8 L1097.5 1340.6 L1100.5 1332.3 L1103.5 1324 L1106.5 1315.7 L1109.5 1307.3 L1112.5 1299 L1115.5 1290.6 L1118.5 1282.3 L1121.5 1274 L1124.5 1265.7 L1127.5 1257.6 L1130.5 1249.5 L1133.5 1241.5 L1136.5 1233.6 L1139.5 1225.9 L1142.5 1218.3 L1145.5 1210.9 L1148.5 1203.7 L1151.5 1196.7 L1154.5 1189.9 L1157.5 1183.4 L1160.5 1177 L1163.5 1171 L1166.5 1165.2 L1169.5 1159.8 L1172.5 1154.6 L1175.5 1149.8 L1178.5 1145.3 L1181.5 1141.1 L1184.5 1137.3 L1187.5 1133.9 L1190.5 1130.8 L1193.5 1128.1 L1196.5 1125.8 L1199.5 1123.9 L1202.5 1122.4 L1205.5 1121.3 L1208.5 1120.6 L1211.5 1120.3 L1214.5 1120.4 L1217.5 1121 L1220.5 1121.9 L1223.5 1123.2 L1226.5 1125 L1229.5 1127.1 L1232.5 1129.7 L1235.5 1132.6 L1238.5 1135.9 L1241.5 1139.5 L1244.5 1143.6 L1247.5 1147.9 L1250.5 1152.6 L1253.5 1157.7 L1256.5 1163 L1259.5 1168.7 L1262.5 1174.6 L1265.5 1180.8 L1268.5 1187.3 L1271.5 1194 L1274.5 1200.9 L1277.5 1208 L1280.5 1215.4 L1283.5 1222.9 L1286.5 1230.5 L1289.5 1238.3 L1292.5 1246.3 L1295.5 1254.3 L1298.5 1262.5 L1301.5 1270.7 L1304.5 1279 L1307.5 1287.3 L1310.5 1295.6 L1313.5 1304 L1316.5 1312.3 L1319.5 1320.7 L1322.5 1329 L1325.5 1337.3 L1328.5 1345.5 L1331.5 1353.6 L1334.5 1361.7 L1337.5 1369.7 L1340.5 1377.5 L1343.5 1385.3 L1346.5 1392.9 L1349.5 1400.5 L1352.5 1407.8 L1355.5 1415.1 L1358.5 1422.1 L1361.5 1429.1 L1364.5 1435.8 L1367.5 1442.4 L1370.5 1448.8 L1373.5 1455.1 L1376.5 1461.1 L1379.5 1467 L1382.5 1472.7 L1385.5 1478.2 L1388.5 1483.6 L1391.5 1488.7 L1394.5 1493.7 L1397.5 1498.5 L1400.5 1503.1 L1403.5 1507.6 L1406.5 1511.8 L1409.5 1515.9 L1412.5 1519.8 L1415.5 1523.6 L1418.5 1527.2 L1421.5 1530.6 L1424.5 1533.9 L1427.5 1537 L1430.5 1539.9 L1433.5 1542.8 L1436.5 1545.4 L1439.5 1548 L1442.5 1550.4 L1445.5 1552.7 L1448.5 1554.8 L1451.5 1556.8 L1454.5 1558.8 L1457.5 1560.6 L1460.5 1562.3 L1463.5 1563.9 L1466.5 1565.4 L1469.5 1566.8 L1472.5 1568.1 L1475.5 1569.4 L1478.5 1570.6 L1481.5 1571.7 L1484.5 1572.7 L1487.5 1573.6 L1490.5 1574.5 L1493.5 1575.3 L1496.5 1576.1 L1499.5 1576.8 L1502.5 1577.5 L1505.5 1578.1 L1508.5 1578.7 L1511.5 1579.2 L1514.5 1579.7 L1517.5 1580.2 L1520.5 1580.6 L1523.5 1581 L1526.5 1581.3 L1529.5 1581.6 L1532.5 1581.9 L1535.5 1582.2 L1538.5 1582.5 L1541.5 1582.7 L1544.5 1582.9 L1547.5 1583.1 L1550.5 1583.3 L1553.5 1583.4 L1556.5 1583.6 L1559.5 1583.7 L1562.5 1583.9 L1565.5 1584 L1568.5 1584.1 L1571.5 1584.2 L1574.5 1584.2 L1577.5 1584.3 L1580.5 1584.4 L1583.5 1584.5 L1586.5 1584.5 L1589.5 1584.6 L1592.5 1584.6 L1595.5 1584.6 L1598.5 1584.7 L1601.5 1584.7 L1604.5 1584.8 L1607.5 1584.8 L1610.5 1584.8 L1613.5 1584.8 L1616.5 1584.8 L1619.5 1584.9 L1622.5 1584.9 L1625.5 1584.9 L1628.5 1584.9 L1631.5 1584.9 L1634.5 1584.9 L1637.5 1584.9 L1640.5 1584.9 L1643.5 1584.9 L1646.5 1585 L1649.5 1585 L1652.5 1585 L1655.5 1585 L1658.5 1585 L1661.5 1585 L1664.5 1585 L1667.5 1585 L1670.5 1585 L1673.5 1585 L1676.5 1585 L1679.5 1585 L1682.5 1585 L1685.5 1585 L1688.5 1585 L1691.5 1585 L1694.5 1585 L1697.5 1585 L1700.5 1585 L1703.5 1585 L1706.5 1585 L1709.5 1585 L1712.5 1585 L1715.5 1585 L1718.5 1585 L1721.5 1585 L1724.5 1585 L1727.5 1585 L1730.5 1585 L1733.5 1585 L1736.5 1585 L1739.5 1585 L1742.5 1585 L1745.5 1585 L1748.5 1585 L1751.5 1585 L1754.5 1585 L1757.5 1585 L1760.5 1585 L1763.5 1585 L1766.5 1585 L1769.5 1585 L1772.5 1585 L1775.5 1585 L1778.5 1585 L1781.5 1585 L1784.5 1585 L1787.5 1585 L1790.5 1585 L1793.5 1585 L1796.5 1585 L1799.5 1585 L1802.5 1585 L1805.5 1585 L1808.5 1585 L1811.5 1585 L1814.5 1585 L1817.5 1585 L1820.5 1585 L1823.5 1585 L1826.5 1585 L1829.5 1585 L1832.5 1585 L1835.5 1585 L1838.5 1585 L1841.5 1585 L1844.5 1585 L1847.5 1585 L1850.5 1585 L1853.5 1585 L1856.5 1585 L1859.5 1585 L1862.5 1585 L1865.5 1585 L1868.5 1585 L1871.5 1585 L1874.5 1585 L1877.5 1585 L1880.5 1585 L1883.5 1585 L1886.5 1585 L1889.5 1585 L1892.5 1585 L1895.5 1585 L1898.5 1585 L1901.5 1585 L1904.5 1585 L1907.5 1585 L1910.5 1585 L1913.5 1585 L1916.5 1585 L1919.5 1585 L1922.5 1585 L1925.5 1585 L1928.5 1585 L1931.5 1585 L1934.5 1585 L1937.5 1585 L1940.5 1585 L1943.5 1585 L1946.5 1585 L1949.5 1585 L1952.5 1585 L1955.5 1585 L1958.5 1585 L1961.5 1585 L1964.5 1585 L1967.5 1585 L1970.5 1585 L1973.5 1585 L1976.5 1585 L1979.5 1585 L1982.5 1585 L1985.5 1585 L1988.5 1585 L1991.5 1585 L1994.5 1585 L1997.5 1585 L2000.5 1585 L2003.5 1585 L2006.5 1585 L2009.5 1585 L2012.5 1585 L2015.5 1585 L2018.5 1585 L2021.5 1585 L2024.5 1585 L2027.5 1585 L2030.5 1585 L2033.5 1585 L2036 1585" stroke="#D8B0FF" stroke-width="8.5"/>
<path d="M28.8 1599.1 L29.3 1598.5 L30 1597.6 L30.7 1596.8 L31.4 1595.9 L32.1 1595.1 L32.9 1594.2 L33.6 1593.5 L34.3 1592.7 L35 1592 L35.7 1591.4 L36.3 1590.7 L37 1590.1 L37.7 1589.5 L38.4 1588.9 L39.1 1588.3 L39.8 1587.7 L40.5 1587.1 L41.2 1586.5 L42 1585.9 L42.7 1585.4 L43.5 1584.8 L44.2 1584.2 L45 1583.6 L45.8 1583 L46.6 1582.4 L47.4 1581.8 L48.3 1581.2 L49.1 1580.6 L50 1580 L50.7 1579.5 L51.5 1579 L52 1578.6 M84.7 1555.5 L85 1555.3 L85.7 1554.8 L86.4 1554.4 L87 1554 L88.1 1553.4 L89.1 1552.8 L90 1552.3 L90.9 1551.9 L91.7 1551.5 L92.4 1551.2 L93.2 1551 L94 1550.8 L94.9 1550.7 L95.8 1550.7 L96.9 1550.8 L98 1551 L98.7 1551.1 L99.5 1551.3 L100.3 1551.5 L101.2 1551.8 L102 1552.1 L102.9 1552.4 L103.8 1552.7 L104.7 1553.1 L105.6 1553.5 L106.6 1553.9 L107.5 1554.3 L108.5 1554.8 L109.4 1555.3 L109.8 1555.5 M140.8 1572.5 L141.2 1572.2 L142.1 1571.8 L143 1571.4 L143.9 1571.2 L145 1571 L145.8 1571 L146.6 1571 L147.5 1571.1 L148.3 1571.2 L149.2 1571.4 L150.1 1571.5 L151 1571.7 L151.9 1571.9 L152.8 1572 L153.8 1572.2 L154.7 1572.3 L155.7 1572.3 L156.7 1572.3 L157.8 1572.3 L158.8 1572.2 L159.9 1572 L161 1571.7 L161.8 1571.4 L162.5 1571.1 L163.3 1570.7 L164.1 1570.2 L164.9 1569.7 L165.8 1569.1 L166.6 1568.5 M202.6 1571.5 L203.3 1572.2 L204 1572.9 L204.7 1573.6 L205.4 1574.3 L206 1575 L206.6 1575.7 L207.2 1576.5 L207.7 1577.3 L208.3 1578.1 L208.7 1579 L209.2 1579.9 L209.6 1580.8 L210.1 1581.7 L210.5 1582.6 L210.9 1583.6 L211.2 1584.5 L211.6 1585.5 L212 1586.5 L212.3 1587.4 L212.7 1588.4 L213 1589.4 L213.3 1590.3 L213.7 1591.3 L214.1 1592.2 L214.4 1593.2 L214.8 1594.1 L215.2 1595 L215.6 1595.9 L216 1596.8 L216.5 1597.6 L217 1598.5 L217.5 1599.2 L218 1600 L218.6 1600.8 L218.9 1601.3 M259 1613.5 L259.5 1613.4 L260.4 1613.4 L261.2 1613.4 L262 1613.5 L263.1 1613.7 L264.1 1613.9 L265.1 1614.2 L266.1 1614.6 L267 1615 L267.8 1615.4 L268.6 1615.9 L269.4 1616.4 L270.2 1616.9 L271 1617.5 L271.7 1618 L272.5 1618.6 L273.2 1619.2 L273.9 1619.8 L274.7 1620.4 L275.4 1620.9 L276.2 1621.5 L277 1622 L277.8 1622.5 L278.6 1623.1 L279.3 1623.7 L280.1 1624.3 L280.8 1624.9 L281.6 1625.5 L282.3 1626.1 L283.1 1626.7 L283.8 1627.3 L284.6 1628 L285.3 1628.6 L286.1 1629.1 L286.8 1629.7 L287 1629.8 M331.8 1643.7 L332 1643.7 L333 1643.4 L334 1643 L334.7 1642.7 L335.5 1642.2 L336.2 1641.8 L337 1641.3 L337.7 1640.7 L338.5 1640.1 L339.2 1639.5 L339.9 1638.8 L340.7 1638.1 L341.4 1637.4 L342.2 1636.7 L342.9 1635.9 L343.7 1635.2 L344.5 1634.5 L345.2 1633.7 L346 1633 L346.7 1632.4 L347.3 1631.8 L348 1631.2 L348.7 1630.6 L349.4 1630 L350.1 1629.5 L350.8 1628.9 L351.5 1628.3 L352.2 1627.6 L352.9 1627 L353.6 1626.3 L354.3 1625.7 L355 1624.9 L355.7 1624.2 L356.4 1623.4 L357 1622.6 L357.7 1621.8 L358.4 1620.9 L359 1620 L359.1 1619.8 M379.9 1576.1 L380 1576 L380.4 1575.2 L380.8 1574.4 L381.2 1573.6 L381.6 1572.8 L382 1571.9 L382.4 1571.1 L382.8 1570.2 L383.2 1569.3 L383.6 1568.4 L384.1 1567.6 L384.5 1566.7 L384.9 1565.8 L385.4 1564.9 L385.8 1564 L386.2 1563.1 L386.7 1562.2 L387.1 1561.3 L387.6 1560.4 L388 1559.5 L388.5 1558.6 L388.9 1557.7 L389.4 1556.8 L389.8 1555.9 L390.3 1555 L390.7 1554.2 L391.2 1553.3 L391.6 1552.5 L392.1 1551.6 L392.5 1550.8 L393 1550 L393.5 1549.1 L394 1548.2 L394.5 1547.2 L395 1546.3 M428.4 1533.1 L429 1533.3 L430 1533.7 L431 1534.1 L432 1534.6 L432.9 1535 L433.8 1535.5 L434.7 1535.9 L435.5 1536.4 L436.4 1536.8 L437.2 1537.3 L438.1 1537.7 L438.9 1538 L439.7 1538.3 L440.5 1538.6 L441.3 1538.8 L442.2 1538.9 L443 1539 L443.9 1539 L444.8 1538.9 L445.7 1538.7 L446.5 1538.4 L447.3 1538.1 L448.1 1537.7 L448.9 1537.3 L449.7 1536.9 L450.5 1536.5 L451.4 1536 L452.3 1535.5 L453.2 1535.1 L454.3 1534.7 L455.3 1534.3 L456.5 1534 L457.3 1533.8 L457.6 1533.7 M502.6 1526.2 L503 1526 L503.8 1525.7 L504.6 1525.3 L505.5 1524.8 L506.3 1524.4 L507.1 1523.8 L507.9 1523.3 L508.7 1522.7 L509.6 1522.1 L510.4 1521.5 L511.2 1520.9 L512.1 1520.2 L512.9 1519.5 L513.7 1518.9 L514.5 1518.2 L515.4 1517.6 L516.2 1516.9 L517 1516.3 L517.9 1515.7 L518.7 1515.1 L519.6 1514.5 L520.4 1513.9 L521.2 1513.4 L522.1 1512.9 L522.9 1512.5 L523.8 1512.1 L524.6 1511.8 L525.5 1511.5 L526.3 1511.3 L527.2 1511.1 L528 1511 L528.9 1511 L529.8 1511 L530.7 1511 L531.6 1511.2 L532.5 1511.3 L532.7 1511.3 M565 1531.5 L565.6 1532.1 L566.3 1532.8 L566.9 1533.4 L567.6 1534.1 L568.3 1534.7 L568.9 1535.3 L569.6 1535.9 L570.3 1536.5 L571 1537 L571.9 1537.6 L572.8 1538.3 L573.7 1538.9 L574.6 1539.5 L575.5 1540.1 L576.4 1540.7 L577.3 1541.2 L578.1 1541.7 L579 1542.2 L579.9 1542.7 L580.7 1543.2 L581.5 1543.6 L581.9 1543.8 M618 1534.2 L618.2 1534.1 L619 1534 L620.1 1533.9 L621.2 1534 L622.2 1534.1 L623.2 1534.4 L624.1 1534.7 L625.1 1535.1 L626 1535.5 L626.8 1536 L627.7 1536.5 L628.6 1537 L629.4 1537.4 L630.3 1537.9 L631.1 1538.3 L632 1538.6 L632.8 1538.9 L633.7 1539 L634.6 1539.1 L635.5 1539 L636.3 1538.8 L637.2 1538.6 L638 1538.4 L638.8 1538.1 L639.7 1537.7 L640.5 1537.3 L641.3 1536.8 L642.2 1536.4 L643 1535.9 L643.8 1535.3 L644.7 1534.7 L645.5 1534.2 L646.3 1533.5 L647.2 1532.9 L648 1532.3 L648.8 1531.6 L649.6 1531 L650 1530.6 M685.4 1500.3 L686 1500 L687 1499.6 L688 1499.3 L688.9 1499 L689.8 1498.7 L690.8 1498.5 L691.7 1498.3 L692.6 1498.2 L693.5 1498.1 L694.4 1498 L695.3 1497.9 L696.2 1497.8 L697.1 1497.7 L698 1497.6 L699 1497.5 L700 1497.4 L700.9 1497.3 L701.8 1497.3 L702.7 1497.4 L703.7 1497.4 L704.6 1497.6 L705.6 1497.7 L706.6 1497.8 L707.6 1497.9 L708.5 1498.1 L709.5 1498.2 L710.5 1498.2 L711.4 1498.3 L712.4 1498.2 L713.3 1498.2 L714.3 1498 L715.2 1497.8 L716.1 1497.4 L717 1497 L717.1 1496.9 M747.2 1471.2 L747.3 1471 L747.7 1470.2 L748.1 1469.4 L748.6 1468.5 L749 1467.7 L749.4 1466.9 L749.9 1466 L750.3 1465.2 L750.7 1464.3 L751.1 1463.5 L751.6 1462.6 L752 1461.7 L752.4 1460.9 L752.9 1460 L753.3 1459.1 L753.7 1458.2 L754.1 1457.3 L754.6 1456.5 L755 1455.6 L755.4 1454.7 L755.9 1453.8 L756.3 1452.9 L756.7 1452 L757.1 1451 L757.6 1450.1 L758 1449.2 L758.4 1448.4 L758.8 1447.5 L759.2 1446.6 L759.6 1445.7 L760 1444.9 L760.4 1444 L760.8 1443.1 L761.2 1442.2 L761.6 1441.3 L762 1440.4 L762.4 1439.5 L762.8 1438.6 L763.1 1438 M781.2 1393.8 L781.3 1393.4 L781.6 1392.5 L782 1391.6 L782.3 1390.7 L782.7 1389.8 L783 1388.9 L783.3 1388.1 L783.7 1387.2 L784 1386.3 L784.3 1385.4 L784.7 1384.5 L785 1383.6 L785.3 1382.7 L785.7 1381.8 L786 1380.9 L786.3 1380 L786.7 1379.1 L787 1378.2 L787.3 1377.3 L787.7 1376.3 L788 1375.4 L788.3 1374.5 L788.7 1373.6 L789 1372.7 L789.3 1371.8 L789.7 1370.8 L790 1369.9 L790.3 1369 L790.7 1368.1 L791 1367.1 L791.3 1366.2 L791.7 1365.3 L792 1364.3 L792.3 1363.4 M807.2 1319.9 L807.5 1319.1 L807.8 1318.2 L808.1 1317.3 L808.4 1316.4 L808.7 1315.5 L809 1314.6 L809.3 1313.7 L809.6 1312.8 L809.9 1311.9 L810.2 1311 L810.5 1310.1 L810.8 1309.2 L811.1 1308.3 L811.4 1307.3 L811.7 1306.4 L812 1305.5 L812.3 1304.6 L812.6 1303.7 L812.9 1302.8 L813.2 1301.9 L813.5 1300.9 L813.8 1300 L814.1 1299.1 L814.4 1298.2 L814.7 1297.3 L815 1296.4 L815.3 1295.4 L815.6 1294.5 L815.9 1293.6 L816.2 1292.7 L816.5 1291.7 L816.8 1290.8 L817.1 1289.9 L817.4 1289 L817.7 1288.1 L817.9 1287.3 M832.5 1242.1 L832.7 1241.6 L833 1240.6 L833.3 1239.7 L833.6 1238.8 L833.9 1237.9 L834.2 1236.9 L834.5 1236 L834.8 1235.1 L835.1 1234.1 L835.4 1233.2 L835.7 1232.3 L836 1231.4 L836.3 1230.5 L836.6 1229.5 L836.9 1228.6 L837.2 1227.7 L837.5 1226.8 L837.8 1225.8 L838.1 1224.9 L838.4 1224 L838.7 1223.1 L839 1222.2 L839.3 1221.2 L839.6 1220.3 L839.9 1219.4 L840.2 1218.5 L840.5 1217.6 L840.8 1216.7 L841.1 1215.7 L841.4 1214.8 L841.7 1213.9 L842 1213 L842.3 1212.1 L842.6 1211.2 L842.9 1210.3 L843.2 1209.4 L843.3 1209.2 M858.6 1164.3 L858.7 1163.9 L859.1 1163 L859.4 1162.1 L859.7 1161.2 L860 1160.4 L860.3 1159.4 L860.7 1158.5 L861 1157.6 L861.3 1156.7 L861.7 1155.7 L862 1154.8 L862.3 1153.9 L862.7 1153 L863 1152.1 L863.3 1151.2 L863.7 1150.3 L864 1149.4 L864.3 1148.5 L864.7 1147.6 L865 1146.7 L865.3 1145.8 L865.7 1144.9 L866 1144.1 L866.3 1143.2 L866.7 1142.3 L867 1141.6 L867.3 1140.8 L867.6 1140.1 L868 1139.4 L868.3 1138.7 L868.6 1138 L868.9 1137.3 L869.2 1136.5 L869.6 1135.6 L869.9 1134.7 L870.3 1133.7 L870.7 1132.6 L870.7 1132.5 M883.6 1087.3 L883.7 1087.1 L884.1 1086.1 L884.6 1085.3 L885 1084.5 L885.5 1083.9 L885.9 1083.3 L886.3 1082.8 L886.7 1082.3 L887.1 1081.7 L887.5 1081.1 L888 1080.3 L888.5 1079.4 L889 1078.6 L889.5 1077.7 L890 1076.9 L890.5 1076 L891 1075.2 L891.5 1074.4 L892 1073.6 L892.5 1072.8 L893 1072 L893.5 1071.2 L894 1070.5 L894.5 1069.7 L895.1 1069.1 L895.6 1068.5 L896.1 1068 L896.6 1067.5 L897.1 1067 L897.7 1066.3 L898.2 1065.6 L898.8 1064.6 L899.4 1063.5 L900 1062 L900.2 1061.4 L900.5 1060.7 L900.7 1059.9 L901 1059.1 L901.2 1058.5 M923.4 1021.1 L923.8 1020.8 L924.6 1020.3 L925.5 1019.7 L926.4 1019.2 L927.3 1018.7 L928.2 1018.3 L929.1 1017.8 L930 1017.4 L931 1017.1 L931.9 1016.8 L932.8 1016.5 L933.8 1016.3 L934.7 1016.1 L935.7 1016 L936.6 1016 L937.6 1016 L938.4 1016.1 L939.3 1016.2 L940.2 1016.4 L941.1 1016.6 L942.1 1016.8 L943 1017.1 L944 1017.4 L945 1017.8 L945.9 1018.2 L946.9 1018.6 L947.8 1019 L948.7 1019.5 L949.6 1020 L950.5 1020.5 L951.4 1021.1 L952.2 1021.6 L952.3 1021.7 M969.7 1063 L969.8 1063.2 L970.4 1063.9 L971 1064.5 L971.6 1065 L972.2 1065.5 L972.8 1066 L973.4 1066.6 L974 1067.3 L974.5 1068 L975.1 1068.7 L975.6 1069.4 L976.2 1070.1 L976.7 1070.8 L977.3 1071.5 L977.8 1072.3 L978.4 1073 L978.9 1073.8 L979.5 1074.5 L980 1075.3 L980.5 1075.9 L981 1076.3 L981.4 1076.5 L981.8 1076.6 L982.3 1076.8 L982.7 1077.1 L983.2 1077.7 L983.8 1078.6 L984.4 1079.8 L985.2 1081.7 L986 1084.1 L986.2 1084.7 L986.4 1085.3 L986.6 1086 L986.8 1086.7 L987 1087.4 L987.2 1088.2 L987.4 1089 L987.6 1089.8 L987.9 1090.7 L988 1091.1 M1000.5 1137.3 L1000.7 1137.5 L1001.3 1138.9 L1002 1140.1 L1002.6 1141.2 L1003.3 1142.2 L1003.9 1143.1 L1004.6 1143.8 L1005.3 1144.5 L1005.9 1145.2 L1006.6 1145.7 L1007.2 1146.2 L1007.9 1146.7 L1008.5 1147.2 L1009.2 1147.6 L1009.8 1148 L1010.5 1148.4 L1011.1 1148.9 L1011.8 1149.3 L1012.4 1149.8 L1013.1 1150.4 L1013.7 1151 L1014.5 1151.7 L1015.2 1152.4 L1016 1153.1 L1016.8 1153.7 L1017.6 1154.4 L1018.4 1155 L1019.1 1155.6 L1019.9 1156.2 L1020.7 1156.8 L1021.5 1157.4 L1022.2 1158 L1023 1158.6 L1023.7 1159.2 L1024.4 1159.9 L1025.1 1160.6 L1025.5 1161 M1047.8 1199 L1048.2 1199.5 L1048.8 1200.1 L1049.4 1200.8 L1050 1201.4 L1050.5 1202 L1051.3 1202.9 L1052.1 1203.7 L1052.9 1204.4 L1053.7 1205.1 L1054.4 1205.8 L1055.2 1206.5 L1055.9 1207.1 L1056.6 1207.7 L1057.3 1208.2 L1058 1208.7 L1058.7 1209.2 L1059.5 1209.7 L1060.2 1210.2 L1060.9 1210.7 L1061.6 1211.1 L1062.3 1211.6 L1063 1212 L1063.9 1212.6 L1064.8 1213.2 L1065.7 1213.7 L1066.6 1214.3 L1067.5 1214.8 L1068.4 1215.3 L1069.3 1215.8 L1070.2 1216.2 L1071.1 1216.5 L1071.3 1216.6 M1104.9 1194.5 L1105.3 1194.3 L1106 1193.8 L1106.8 1193.3 L1107.5 1192.8 L1108.2 1192.2 L1109 1191.6 L1109.8 1191.1 L1110.5 1190.5 L1111.2 1189.8 L1112 1189.2 L1112.7 1188.7 L1113.3 1188.1 L1114 1187.5 L1114.7 1186.9 L1115.3 1186.3 L1116 1185.7 L1116.7 1185.1 L1117.3 1184.4 L1118 1183.8 L1118.7 1183.2 L1119.3 1182.5 L1120 1181.8 L1120.7 1181.2 L1121.3 1180.5 L1122 1179.8 L1122.7 1179.1 L1123.3 1178.4 L1124 1177.7 L1124.7 1177 L1125.3 1176.3 L1126 1175.5 L1126.7 1174.8 L1127.3 1174.1 L1128 1173.3 L1128.2 1173.1 M1156.3 1139.5 L1156.4 1139.3 L1157 1138.6 L1157.6 1137.9 L1158.2 1137.2 L1158.8 1136.5 L1159.4 1135.8 L1160 1135.2 L1160.7 1134.4 L1161.3 1133.7 L1162 1132.9 L1162.7 1132.2 L1163.3 1131.4 L1164 1130.7 L1164.7 1130 L1165.3 1129.3 L1166 1128.6 L1166.7 1127.9 L1167.3 1127.2 L1168 1126.5 L1168.7 1125.8 L1169.3 1125.1 L1170 1124.5 L1170.7 1123.8 L1171.3 1123.2 L1172 1122.5 L1172.6 1122 L1173.2 1121.6 L1173.7 1121.2 L1174.2 1120.8 L1174.8 1120.4 L1175.4 1119.9 L1176.2 1119.2 L1177 1118.4 L1178 1117.2 L1178.4 1116.8 M1214.8 1093 L1215.5 1092.7 L1216.5 1092.3 L1217.5 1091.9 L1218.4 1091.5 L1219.3 1091.1 L1220.2 1090.7 L1221 1090.5 L1221.9 1090.3 L1222.7 1090.2 L1223.6 1090.3 L1224.5 1090.5 L1225.5 1090.8 L1226.5 1091.4 L1227.1 1091.8 L1227.6 1092.2 L1228.2 1092.7 L1228.8 1093.2 L1229.5 1093.8 L1230.1 1094.5 L1230.7 1095.1 L1231.4 1095.8 L1232 1096.6 L1232.7 1097.4 L1233.4 1098.2 L1234 1099 L1234.7 1099.8 L1235.4 1100.7 L1236 1101.6 L1236.7 1102.5 L1237.3 1103.4 L1237.9 1104.3 L1238.5 1105.2 L1239.1 1106 L1239.7 1106.9 L1240.3 1107.8 L1240.8 1108.6 L1240.9 1108.7 M1256.1 1152.7 L1256.3 1153.6 L1256.6 1154.6 L1256.8 1155.5 L1257.1 1156.4 L1257.3 1157.3 L1257.5 1158.3 L1257.8 1159.1 L1258 1160 L1258.3 1161.1 L1258.6 1162.1 L1258.8 1163.1 L1259.1 1164.1 L1259.3 1165.1 L1259.6 1166.1 L1259.9 1167.1 L1260.1 1168.1 L1260.3 1169.1 L1260.6 1170 L1260.8 1171 L1261.1 1171.9 L1261.3 1172.8 L1261.5 1173.8 L1261.8 1174.7 L1262 1175.6 L1262.2 1176.6 L1262.4 1177.5 L1262.7 1178.4 L1262.9 1179.3 L1263.1 1180.3 L1263.3 1181.2 L1263.6 1182.1 L1263.8 1183.1 L1264 1184 L1264.1 1184.3 M1279.7 1226.9 L1279.9 1227.5 L1280.3 1228.5 L1280.6 1229.4 L1281 1230.4 L1281.3 1231.3 L1281.7 1232.1 L1282 1233 L1282.3 1233.9 L1282.7 1234.8 L1283 1235.7 L1283.3 1236.6 L1283.7 1237.5 L1284 1238.3 L1284.3 1239.2 L1284.7 1240.1 L1285 1241 L1285.3 1241.9 L1285.7 1242.8 L1286 1243.7 L1286.3 1244.6 L1286.7 1245.5 L1287 1246.4 L1287.3 1247.3 L1287.7 1248.2 L1288 1249.1 L1288.3 1250 L1288.7 1251 L1289 1251.9 L1289.3 1252.8 L1289.7 1253.7 L1290 1254.6 L1290.3 1255.5 L1290.7 1256.4 L1291 1257.3 L1291.3 1258.3 L1291.6 1259.1 M1307.6 1303.7 L1307.7 1303.9 L1308 1304.8 L1308.3 1305.7 L1308.7 1306.7 L1309 1307.6 L1309.3 1308.5 L1309.7 1309.5 L1310 1310.4 L1310.3 1311.4 L1310.7 1312.3 L1311 1313.2 L1311.3 1314.2 L1311.7 1315.1 L1312 1316 L1312.3 1316.9 L1312.7 1317.9 L1313 1318.8 L1313.3 1319.7 L1313.7 1320.7 L1314 1321.6 L1314.3 1322.5 L1314.7 1323.5 L1315 1324.4 L1315.3 1325.3 L1315.7 1326.3 L1316 1327.2 L1316.3 1328.1 L1316.7 1329 L1317 1330 L1317.3 1330.9 L1317.7 1331.8 L1318 1332.7 L1318.3 1333.7 L1318.7 1334.6 L1319 1335.5 L1319.2 1336 M1335.4 1380.2 L1335.6 1380.8 L1335.8 1381.6 L1336 1382.4 L1336.2 1383.3 L1336.4 1384.2 L1336.6 1385.1 L1336.8 1386 L1337 1387 L1337.3 1388 L1337.5 1389 L1337.7 1390 L1337.9 1391 L1338.2 1392 L1338.4 1393.1 L1338.6 1394.2 L1338.8 1395.2 L1339.1 1396.3 L1339.3 1397.4 L1339.6 1398.5 L1339.8 1399.6 L1340 1400.6 L1340.3 1401.7 L1340.5 1402.8 L1340.8 1403.9 L1341.1 1404.9 L1341.3 1406 L1341.6 1407 L1341.9 1408.1 L1342.1 1409.1 L1342.4 1410.1 L1342.7 1411.1 L1343 1412 L1343.2 1413 L1343.3 1413.1 M1369.1 1448.4 L1369.7 1448.8 L1370.5 1449.2 L1371.2 1449.6 L1372 1450 L1372.9 1450.4 L1373.8 1450.7 L1374.7 1450.9 L1375.7 1451.1 L1376.6 1451.3 L1377.6 1451.4 L1378.5 1451.4 L1379.4 1451.5 L1380.4 1451.5 L1381.3 1451.6 L1382.3 1451.6 L1383.2 1451.7 L1384.1 1451.8 L1385 1452 L1386 1452.2 L1386.9 1452.2 L1387.9 1452.3 L1388.8 1452.3 L1389.8 1452.3 L1390.7 1452.3 L1391.7 1452.4 L1392.6 1452.6 L1393.5 1452.8 L1394.4 1453.1 L1395.3 1453.6 L1396.2 1454.2 L1397 1455 L1397.5 1455.5 L1397.8 1455.9 M1420.9 1495.4 L1421.1 1495.6 L1421.7 1495.9 L1422.4 1496.3 L1423 1496.5 L1423.8 1496.7 L1424.7 1496.7 L1425.5 1496.6 L1426.4 1496.4 L1427.3 1496 L1428.3 1495.6 L1429.2 1495.1 L1430.1 1494.5 L1431.1 1493.8 L1432 1493.1 L1433 1492.4 L1433.9 1491.7 L1434.8 1490.9 L1435.7 1490.2 L1436.6 1489.4 L1437.5 1488.8 L1438.3 1488.1 L1439.1 1487.5 L1439.9 1487 L1440.6 1486.6 L1441.3 1486.2 L1442 1486 L1443.3 1485.7 L1444.5 1485.4 L1445.5 1485.2 L1446.4 1485.2 L1447.2 1485.3 L1448 1485.6 L1448.7 1486.1 L1449.4 1486.8 L1450.2 1487.7 L1451 1489 L1451.3 1489.6 L1451.5 1490 M1469 1531.4 L1469 1531.5 L1469.5 1532.2 L1470 1533 L1470.6 1533.9 L1471.2 1534.8 L1471.7 1535.6 L1472.3 1536.4 L1472.9 1537.3 L1473.4 1538 L1474 1538.8 L1474.6 1539.6 L1475.1 1540.3 L1475.7 1541.1 L1476.2 1541.8 L1476.8 1542.5 L1477.3 1543.3 L1477.9 1544 L1478.4 1544.7 L1478.9 1545.5 L1479.5 1546.2 L1480 1547 L1480.5 1547.8 L1481.1 1548.6 L1481.6 1549.4 L1482 1550.2 L1482.5 1551 L1483 1551.8 L1483.4 1552.6 L1483.9 1553.4 L1484.4 1554.2 L1484.8 1555 L1485.1 1555.5 M1513 1584.1 L1513.7 1584.6 L1514.5 1585.1 L1515.3 1585.5 L1516.1 1586 L1516.9 1586.4 L1517.6 1586.8 L1518.4 1587.2 L1519.2 1587.6 L1520 1588 L1520.9 1588.4 L1521.9 1588.8 L1522.8 1589.2 L1523.8 1589.6 L1524.7 1589.9 L1525.7 1590.2 L1526.6 1590.5 L1527.6 1590.8 L1528.5 1591 L1529.4 1591.2 L1530.4 1591.4 L1531.3 1591.6 L1532.2 1591.7 L1533.2 1591.8 L1534.1 1591.9 L1535 1592 L1536 1592.1 L1536.9 1592.1 L1537.9 1592.1 L1538.9 1592.1 L1539.9 1592.1 L1540.4 1592 M1573.2 1570.5 L1573.2 1570.5 L1574.1 1570 L1574.9 1569.5 L1575.8 1569 L1576.7 1568.5 L1577.6 1568 L1578.5 1567.6 L1579.5 1567.1 L1580.4 1566.8 L1581.3 1566.5 L1582.2 1566.3 L1583.1 1566.1 L1584 1566 L1584.9 1566 L1585.7 1566.1 L1586.6 1566.3 L1587.4 1566.5 L1588.2 1566.8 L1589 1567.1 L1589.9 1567.5 L1590.7 1567.9 L1591.6 1568.3 L1592.5 1568.8 L1593.4 1569.2 L1594.3 1569.6 L1595.3 1570 L1596.3 1570.4 L1597.4 1570.7 L1598.5 1571 L1599.3 1571.2 L1600.2 1571.3 L1600.2 1571.3 M1638.5 1587.1 L1638.6 1587.2 L1639.3 1587.6 L1640 1588 L1641.1 1588.5 L1642.1 1588.9 L1643.1 1589.3 L1644.1 1589.7 L1645.1 1590 L1646 1590.2 L1646.9 1590.4 L1647.9 1590.6 L1648.8 1590.7 L1649.7 1590.8 L1650.6 1590.9 L1651.5 1590.9 L1652.4 1591 L1653.2 1591 L1654.1 1591 L1655 1591 L1656 1591 L1656.9 1591 L1657.8 1591 L1658.7 1591 L1659.6 1591 L1660.4 1590.9 L1661.3 1590.8 L1662.2 1590.6 L1663.1 1590.4 L1664 1590.1 L1664.9 1589.7 L1665.9 1589.2 L1666.9 1588.7 L1668 1588 L1668.6 1587.6 L1669.2 1587 L1669.9 1586.5 M1702.9 1585.1 L1703.5 1585.8 L1704.1 1586.5 L1704.7 1587.3 L1705.3 1588 L1705.8 1588.7 L1706.4 1589.4 L1707 1590.1 L1707.7 1590.7 L1708.3 1591.4 L1709 1592 L1709.7 1592.6 L1710.5 1593.2 L1711.2 1593.7 L1712 1594.2 L1712.8 1594.8 L1713.6 1595.3 L1714.4 1595.8 L1715.3 1596.2 L1716.1 1596.7 L1716.9 1597.2 L1717.7 1597.6 L1718.5 1598.1 L1719.2 1598.5 L1720 1599 L1720.8 1599.5 L1721.6 1600 L1722.3 1600.5 L1723 1600.9 L1723.7 1601.4 L1724.4 1601.8 L1725.2 1602.3 L1726 1602.7 L1726.8 1603.2 L1727.8 1603.8 L1728.8 1604.4 L1729.4 1604.7 M1769.4 1609.6 L1769.5 1609.5 L1770.1 1609 L1770.7 1608.4 L1771.2 1607.8 L1771.9 1607.2 L1772.5 1606.5 L1773.1 1605.8 L1773.8 1605 L1774.4 1604.2 L1775.1 1603.4 L1775.8 1602.6 L1776.5 1601.8 L1777.2 1601 L1777.9 1600.1 L1778.7 1599.3 L1779.4 1598.5 L1780.1 1597.7 L1780.9 1596.9 L1781.6 1596.1 L1782.3 1595.3 L1783.1 1594.6 L1783.8 1593.9 L1784.5 1593.2 L1785.3 1592.6 L1786 1592 L1786.8 1591.4 L1787.6 1590.8 L1788.5 1590.2 L1789.3 1589.6 L1790.1 1589.1 L1791 1588.5 M1830.8 1577.3 L1830.9 1577.3 L1831.9 1577.1 L1832.8 1577 L1833.8 1576.9 L1834.7 1576.7 L1835.7 1576.6 L1836.6 1576.5 L1837.6 1576.4 L1838.5 1576.3 L1839.4 1576.2 L1840.4 1576.2 L1841.3 1576.1 L1842.2 1576.1 L1843.1 1576 L1844.1 1576 L1845 1576 L1846 1576 L1846.9 1576.1 L1847.9 1576.1 L1848.8 1576.2 L1849.8 1576.4 L1850.7 1576.5 L1851.7 1576.7 L1852.6 1576.8 L1853.6 1577 L1854.5 1577.1 L1855.4 1577.3 L1856.4 1577.5 L1857.3 1577.6 L1858.3 1577.7 L1859.2 1577.8 L1860.1 1577.9 L1860.9 1578 M1904 1576.5 L1904.1 1576.5 L1905 1577 L1905.7 1577.4 L1906.4 1577.9 L1907.1 1578.4 L1907.8 1578.9 L1908.5 1579.5 L1909.2 1580.1 L1909.9 1580.7 L1910.5 1581.4 L1911.2 1582.1 L1911.9 1582.8 L1912.6 1583.6 L1913.3 1584.4 L1914 1585.1 L1914.6 1585.9 L1915.3 1586.7 L1916 1587.6 L1916.6 1588.4 L1917.3 1589.2 L1917.9 1590.1 L1918.6 1590.9 L1919.2 1591.7 L1919.9 1592.6 L1920.5 1593.4 L1921.2 1594.2 L1921.8 1595 L1922.4 1595.8 L1923 1596.5 L1923.6 1597.3 L1924.2 1598 L1924.8 1598.7 L1925.4 1599.4 L1926 1600 L1926.4 1600.5 M1962.9 1620.7 L1963 1620.7 L1963.9 1621 L1964.6 1621.3 L1965.4 1621.6 L1966.1 1621.7 L1966.9 1621.9 L1967.8 1621.9 L1968.7 1621.7 L1969.8 1621.4 L1971 1621 L1971.6 1620.7 L1972.3 1620.5 L1973 1620.2 L1973.7 1619.9 L1974.4 1619.6 L1975.2 1619.3 L1975.9 1619 L1976.7 1618.6 L1977.5 1618.3 L1978.3 1617.9 L1979.1 1617.4 L1980 1617 L1980.8 1616.5 L1981.6 1616 L1982.5 1615.4 L1983.4 1614.8 L1984.2 1614.1 L1985.1 1613.4 L1985.9 1612.7 L1986.8 1611.9 L1987.6 1611 L1988.5 1610.1 L1989.3 1609.1 L1989.7 1608.7 M2008.5 1570.2 L2008.7 1569.7 L2009.1 1568.8 L2009.6 1568 L2010 1567.3 L2010.4 1566.6 L2010.8 1565.9 L2011.2 1565.2 L2011.6 1564.6 L2012 1564 L2012.9 1562.8 L2013.8 1561.7 L2014.7 1560.7 L2015.6 1559.8 L2016.5 1559 L2017.4 1558.2 L2018.3 1557.6 L2019.2 1557 L2020.1 1556.5 L2020.9 1556.1 L2021.8 1555.7 L2022.6 1555.3 L2023.4 1555 L2024.2 1554.7 L2025 1554.5 L2025.7 1554.2 L2026.4 1554 L2027.1 1553.8 L2027.8 1553.5 L2028.4 1553.3 L2029 1553 L2030.4 1552.4 L2031.7 1552 L2032.1 1552" stroke="#000000" stroke-width="11" stroke-linejoin="round"/>
<path d="M66.9 1562.5L73.1 1571.5 M128.7 1562.4L121.2 1570.5 M182.7 1554.1L182.5 1565.1 M238.3 1611.4L234.7 1621.8 M310.7 1629.8L307.3 1640.2 M365 1594.7L375 1599.3 M405.7 1522.6L409.9 1532.8 M478.1 1524.6L479.9 1535.4 M556.9 1517.3L551.1 1526.7 M593.7 1539.1L597.5 1549.4 M663.3 1508.9L670.7 1517.1 M728.6 1475.4L734.6 1484.6 M767.9 1412.5L778.1 1416.6 M794.5 1340.5L804.9 1344.1 M820 1263.2L830.4 1266.5 M845.6 1184.8L856 1188.3 M871.7 1108.5L882.3 1111.2 M903.1 1033.5L912.9 1038.5 M966.7 1038.9L956.3 1042.5 M999 1112.9L988.3 1115.6 M1040.2 1179.9L1030.8 1185.6 M1086.7 1205.6L1093.3 1214.4 M1138.1 1152.9L1146.6 1159.8 M1188.4 1095.1L1194.8 1103.9 M1255.3 1129.4L1244.7 1132.6 M1274 1204.7L1263.5 1208 M1304.8 1279.6L1294.5 1283.3 M1332.5 1356.4L1322.2 1360.2 M1358.7 1430L1350.2 1436.9 M1411.2 1472.2L1401.8 1477.8 M1464.1 1511.9L1453.9 1516.1 M1501.8 1567.2L1493.8 1574.8 M1553.3 1578.8L1561.2 1586.4 M1621.8 1568.4L1618.4 1578.9 M1684.6 1565.2L1687.4 1575.8 M1751.7 1609.8L1748.3 1620.2 M1808.9 1575.2L1811.4 1585.9 M1881.3 1569.5L1881.7 1580.5 M1944.9 1612.3L1939.1 1621.7 M1994.7 1587.6L2004.8 1592" stroke="#000000" stroke-width="1.4"/>
<path d="M23.5 1585 L26.5 1585 L29.5 1585 L32.5 1585 L35.5 1585 L38.5 1585 L41.5 1585 L44.5 1585 L47.5 1585 L50.5 1585 L53.5 1585 L56.5 1585 L59.5 1585 L62.5 1585 L65.5 1585 L68.5 1585 L71.5 1585 L74.5 1585 L77.5 1585 L80.5 1585 L83.5 1585 L86.5 1585 L89.5 1585 L92.5 1585 L95.5 1585 L98.5 1585 L101.5 1585 L104.5 1585 L107.5 1585 L110.5 1585 L113.5 1585 L116.5 1585 L119.5 1585 L122.5 1585 L125.5 1585 L128.5 1585 L131.5 1585 L134.5 1585 L137.5 1585 L140.5 1585 L143.5 1585 L146.5 1585 L149.5 1585 L152.5 1585 L155.5 1585 L158.5 1585 L161.5 1585 L164.5 1585 L167.5 1585 L170.5 1585 L173.5 1585 L176.5 1585 L179.5 1585 L182.5 1585 L185.5 1585 L188.5 1585 L191.5 1585 L194.5 1585 L197.5 1585 L200.5 1585 L203.5 1585 L206.5 1585 L209.5 1585 L212.5 1585 L215.5 1585 L218.5 1585 L221.5 1585 L224.5 1585 L227.5 1585 L230.5 1585 L233.5 1585 L236.5 1585 L239.5 1585 L242.5 1585 L245.5 1585 L248.5 1585 L251.5 1585 L254.5 1585 L257.5 1585 L260.5 1585 L263.5 1585 L266.5 1585 L269.5 1585 L272.5 1585 L275.5 1585 L278.5 1585 L281.5 1585 L284.5 1585 L287.5 1585 L290.5 1585 L293.5 1585 L296.5 1585 L299.5 1585 L302.5 1585 L305.5 1585 L308.5 1585 L311.5 1585 L314.5 1585 L317.5 1585 L320.5 1585 L323.5 1585 L326.5 1585 L329.5 1585 L332.5 1585 L335.5 1585 L338.5 1585 L341.5 1585 L344.5 1585 L347.5 1585 L350.5 1585 L353.5 1585 L356.5 1585 L359.5 1585 L362.5 1585 L365.5 1585 L368.5 1585 L371.5 1585 L374.5 1585 L377.5 1585 L380.5 1585 L383.5 1585 L386.5 1585 L389.5 1585 L392.5 1585 L395.5 1585 L398.5 1585 L401.5 1585 L404.5 1585 L407.5 1585 L410.5 1585 L413.5 1585 L416.5 1585 L419.5 1585 L422.5 1585 L425.5 1585 L428.5 1585 L431.5 1585 L434.5 1585 L437.5 1585 L440.5 1585 L443.5 1585 L446.5 1585 L449.5 1585 L452.5 1585 L455.5 1585 L458.5 1585 L461.5 1585 L464.5 1585 L467.5 1585 L470.5 1585 L473.5 1585 L476.5 1585 L479.5 1584.9 L482.5 1584.9 L485.5 1584.9 L488.5 1584.9 L491.5 1584.9 L494.5 1584.9 L497.5 1584.9 L500.5 1584.9 L503.5 1584.9 L506.5 1584.8 L509.5 1584.8 L512.5 1584.8 L515.5 1584.8 L518.5 1584.8 L521.5 1584.7 L524.5 1584.7 L527.5 1584.7 L530.5 1584.6 L533.5 1584.6 L536.5 1584.5 L539.5 1584.5 L542.5 1584.4 L545.5 1584.4 L548.5 1584.3 L551.5 1584.2 L554.5 1584.1 L557.5 1584 L560.5 1583.9 L563.5 1583.8 L566.5 1583.7 L569.5 1583.5 L572.5 1583.4 L575.5 1583.2 L578.5 1583 L581.5 1582.8 L584.5 1582.6 L587.5 1582.4 L590.5 1582.1 L593.5 1581.9 L596.5 1581.6 L599.5 1581.2 L602.5 1580.9 L605.5 1580.5 L608.5 1580.1 L611.5 1579.6 L614.5 1579.2 L617.5 1578.6 L620.5 1578.1 L623.5 1577.5 L626.5 1576.8 L629.5 1576.1 L632.5 1575.3 L635.5 1574.5 L638.5 1573.6 L641.5 1572.7 L644.5 1571.7 L647.5 1570.6 L650.5 1569.5 L653.5 1568.2 L656.5 1566.9 L659.5 1565.5 L662.5 1564.1 L665.5 1562.5 L668.5 1560.8 L671.5 1559 L674.5 1557.1 L677.5 1555.1 L680.5 1553 L683.5 1550.8 L686.5 1548.4 L689.5 1545.9 L692.5 1543.3 L695.5 1540.5 L698.5 1537.6 L701.5 1534.5 L704.5 1531.3 L707.5 1527.9 L710.5 1524.3 L713.5 1520.6 L716.5 1516.7 L719.5 1512.7 L722.5 1508.4 L725.5 1504 L728.5 1499.4 L731.5 1494.6 L734.5 1489.6 L737.5 1484.4 L740.5 1479 L743.5 1473.5 L746.5 1467.7 L749.5 1461.7 L752.5 1455.6 L755.5 1449.2 L758.5 1442.7 L761.5 1435.9 L764.5 1429 L767.5 1421.9 L770.5 1414.6 L773.5 1407.1 L776.5 1399.4 L779.5 1391.6 L782.5 1383.6 L785.5 1375.4 L788.5 1367.1 L791.5 1358.7 L794.5 1350.1 L797.5 1341.4 L800.5 1332.6 L803.5 1323.6 L806.5 1314.6 L809.5 1305.5 L812.5 1296.4 L815.5 1287.1 L818.5 1277.9 L821.5 1268.6 L824.5 1259.2 L827.5 1249.9 L830.5 1240.6 L833.5 1231.4 L836.5 1222.2 L839.5 1213 L842.5 1203.9 L845.5 1195 L848.5 1186.1 L851.5 1177.4 L854.5 1168.8 L857.5 1160.4 L860.5 1152.1 L863.5 1144.1 L866.5 1136.2 L869.5 1128.6 L872.5 1121.3 L875.5 1114.2 L878.5 1107.3 L881.5 1100.8 L884.5 1094.5 L887.5 1088.6 L890.5 1083 L893.5 1077.7 L896.5 1072.8 L899.5 1068.2 L902.5 1064 L905.5 1060.2 L908.5 1056.7 L911.5 1053.6 L914.5 1050.9 L917.5 1048.6 L920.5 1046.7 L923.5 1045.1 L926.5 1044 L929.5 1043.2 L932.5 1042.8 L935.5 1042.8 L938.5 1043.2 L941.5 1043.9 L944.5 1045 L947.5 1046.5 L950.5 1048.3 L953.5 1050.4 L956.5 1052.8 L959.5 1055.6 L962.5 1058.6 L965.5 1061.9 L968.5 1065.4 L971.5 1069.2 L974.5 1073.2 L977.5 1077.4 L980.5 1081.8 L983.5 1086.4 L986.5 1091.1 L989.5 1095.9 L992.5 1100.8 L995.5 1105.8 L998.5 1110.9 L1001.5 1116 L1004.5 1121.2 L1007.5 1126.3 L1010.5 1131.4 L1013.5 1136.4 L1016.5 1141.4 L1019.5 1146.3 L1022.5 1151.1 L1025.5 1155.8 L1028.5 1160.3 L1031.5 1164.7 L1034.5 1168.9 L1037.5 1172.9 L1040.5 1176.7 L1043.5 1180.2 L1046.5 1183.6 L1049.5 1186.7 L1052.5 1189.5 L1055.5 1192.1 L1058.5 1194.4 L1061.5 1196.4 L1064.5 1198.1 L1067.5 1199.5 L1070.5 1200.7 L1073.5 1201.5 L1076.5 1202.1 L1079.5 1202.3 L1082.5 1202.3 L1085.5 1201.9 L1088.5 1201.3 L1091.5 1200.4 L1094.5 1199.2 L1097.5 1197.8 L1100.5 1196.1 L1103.5 1194.2 L1106.5 1192 L1109.5 1189.6 L1112.5 1187.1 L1115.5 1184.3 L1118.5 1181.3 L1121.5 1178.2 L1124.5 1175 L1127.5 1171.6 L1130.5 1168.2 L1133.5 1164.6 L1136.5 1161 L1139.5 1157.4 L1142.5 1153.7 L1145.5 1150 L1148.5 1146.4 L1151.5 1142.8 L1154.5 1139.2 L1157.5 1135.7 L1160.5 1132.4 L1163.5 1129.1 L1166.5 1126 L1169.5 1123 L1172.5 1120.2 L1175.5 1117.6 L1178.5 1115.3 L1181.5 1113.1 L1184.5 1111.2 L1187.5 1109.5 L1190.5 1108.2 L1193.5 1107.1 L1196.5 1106.3 L1199.5 1105.7 L1202.5 1105.6 L1205.5 1105.7 L1208.5 1106.1 L1211.5 1106.9 L1214.5 1108.1 L1217.5 1109.5 L1220.5 1111.4 L1223.5 1113.5 L1226.5 1116 L1229.5 1118.9 L1232.5 1122.1 L1235.5 1125.6 L1238.5 1129.5 L1241.5 1133.7 L1244.5 1138.2 L1247.5 1143 L1250.5 1148.1 L1253.5 1153.5 L1256.5 1159.2 L1259.5 1165.2 L1262.5 1171.4 L1265.5 1177.9 L1268.5 1184.6 L1271.5 1191.6 L1274.5 1198.7 L1277.5 1206.1 L1280.5 1213.6 L1283.5 1221.2 L1286.5 1229.1 L1289.5 1237 L1292.5 1245.1 L1295.5 1253.2 L1298.5 1261.5 L1301.5 1269.8 L1304.5 1278.2 L1307.5 1286.5 L1310.5 1295 L1313.5 1303.4 L1316.5 1311.8 L1319.5 1320.2 L1322.5 1328.6 L1325.5 1336.9 L1328.5 1345.1 L1331.5 1353.3 L1334.5 1361.4 L1337.5 1369.4 L1340.5 1377.3 L1343.5 1385.1 L1346.5 1392.8 L1349.5 1400.3 L1352.5 1407.7 L1355.5 1414.9 L1358.5 1422 L1361.5 1429 L1364.5 1435.7 L1367.5 1442.3 L1370.5 1448.7 L1373.5 1455 L1376.5 1461.1 L1379.5 1467 L1382.5 1472.7 L1385.5 1478.2 L1388.5 1483.6 L1391.5 1488.7 L1394.5 1493.7 L1397.5 1498.5 L1400.5 1503.1 L1403.5 1507.6 L1406.5 1511.8 L1409.5 1515.9 L1412.5 1519.8 L1415.5 1523.6 L1418.5 1527.2 L1421.5 1530.6 L1424.5 1533.9 L1427.5 1537 L1430.5 1539.9 L1433.5 1542.7 L1436.5 1545.4 L1439.5 1548 L1442.5 1550.4 L1445.5 1552.6 L1448.5 1554.8 L1451.5 1556.8 L1454.5 1558.8 L1457.5 1560.6 L1460.5 1562.3 L1463.5 1563.9 L1466.5 1565.4 L1469.5 1566.8 L1472.5 1568.1 L1475.5 1569.4 L1478.5 1570.6 L1481.5 1571.7 L1484.5 1572.7 L1487.5 1573.6 L1490.5 1574.5 L1493.5 1575.3 L1496.5 1576.1 L1499.5 1576.8 L1502.5 1577.5 L1505.5 1578.1 L1508.5 1578.7 L1511.5 1579.2 L1514.5 1579.7 L1517.5 1580.2 L1520.5 1580.6 L1523.5 1581 L1526.5 1581.3 L1529.5 1581.6 L1532.5 1581.9 L1535.5 1582.2 L1538.5 1582.5 L1541.5 1582.7 L1544.5 1582.9 L1547.5 1583.1 L1550.5 1583.3 L1553.5 1583.4 L1556.5 1583.6 L1559.5 1583.7 L1562.5 1583.9 L1565.5 1584 L1568.5 1584.1 L1571.5 1584.2 L1574.5 1584.2 L1577.5 1584.3 L1580.5 1584.4 L1583.5 1584.5 L1586.5 1584.5 L1589.5 1584.6 L1592.5 1584.6 L1595.5 1584.6 L1598.5 1584.7 L1601.5 1584.7 L1604.5 1584.8 L1607.5 1584.8 L1610.5 1584.8 L1613.5 1584.8 L1616.5 1584.8 L1619.5 1584.9 L1622.5 1584.9 L1625.5 1584.9 L1628.5 1584.9 L1631.5 1584.9 L1634.5 1584.9 L1637.5 1584.9 L1640.5 1584.9 L1643.5 1584.9 L1646.5 1585 L1649.5 1585 L1652.5 1585 L1655.5 1585 L1658.5 1585 L1661.5 1585 L1664.5 1585 L1667.5 1585 L1670.5 1585 L1673.5 1585 L1676.5 1585 L1679.5 1585 L1682.5 1585 L1685.5 1585 L1688.5 1585 L1691.5 1585 L1694.5 1585 L1697.5 1585 L1700.5 1585 L1703.5 1585 L1706.5 1585 L1709.5 1585 L1712.5 1585 L1715.5 1585 L1718.5 1585 L1721.5 1585 L1724.5 1585 L1727.5 1585 L1730.5 1585 L1733.5 1585 L1736.5 1585 L1739.5 1585 L1742.5 1585 L1745.5 1585 L1748.5 1585 L1751.5 1585 L1754.5 1585 L1757.5 1585 L1760.5 1585 L1763.5 1585 L1766.5 1585 L1769.5 1585 L1772.5 1585 L1775.5 1585 L1778.5 1585 L1781.5 1585 L1784.5 1585 L1787.5 1585 L1790.5 1585 L1793.5 1585 L1796.5 1585 L1799.5 1585 L1802.5 1585 L1805.5 1585 L1808.5 1585 L1811.5 1585 L1814.5 1585 L1817.5 1585 L1820.5 1585 L1823.5 1585 L1826.5 1585 L1829.5 1585 L1832.5 1585 L1835.5 1585 L1838.5 1585 L1841.5 1585 L1844.5 1585 L1847.5 1585 L1850.5 1585 L1853.5 1585 L1856.5 1585 L1859.5 1585 L1862.5 1585 L1865.5 1585 L1868.5 1585 L1871.5 1585 L1874.5 1585 L1877.5 1585 L1880.5 1585 L1883.5 1585 L1886.5 1585 L1889.5 1585 L1892.5 1585 L1895.5 1585 L1898.5 1585 L1901.5 1585 L1904.5 1585 L1907.5 1585 L1910.5 1585 L1913.5 1585 L1916.5 1585 L1919.5 1585 L1922.5 1585 L1925.5 1585 L1928.5 1585 L1931.5 1585 L1934.5 1585 L1937.5 1585 L1940.5 1585 L1943.5 1585 L1946.5 1585 L1949.5 1585 L1952.5 1585 L1955.5 1585 L1958.5 1585 L1961.5 1585 L1964.5 1585 L1967.5 1585 L1970.5 1585 L1973.5 1585 L1976.5 1585 L1979.5 1585 L1982.5 1585 L1985.5 1585 L1988.5 1585 L1991.5 1585 L1994.5 1585 L1997.5 1585 L2000.5 1585 L2003.5 1585 L2006.5 1585 L2009.5 1585 L2012.5 1585 L2015.5 1585 L2018.5 1585 L2021.5 1585 L2024.5 1585 L2027.5 1585 L2030.5 1585 L2033.5 1585 L2036.5 1585" stroke="#000000" stroke-width="11"/>
</g>
<g transform="translate(53.12 299.39) scale(0.9633 1)"><text x="0" y="0" font-size="80.70" font-family="Liberation Sans, Arial, sans-serif" font-weight="bold">TMAOH</text></g>
<g transform="translate(58.78 767.10) scale(0.9512 1)"><text x="0" y="0" font-size="82.75" font-family="Liberation Sans, Arial, sans-serif" font-weight="bold">EDA</text></g>
<g transform="translate(78.01 1456.00) scale(0.9502 1)"><text x="0" y="0" font-size="82.46" font-family="Liberation Sans, Arial, sans-serif" font-weight="bold">MEA</text></g>
<g clip-path="url(#qclip)"><g transform="translate(873.80 104.90) scale(0.9367 1)"><text x="0" y="0" font-size="82.75" font-family="Liberation Sans, Arial, sans-serif" font-weight="bold">Q4</text></g></g>
<g clip-path="url(#qclip)"><g transform="translate(1070.78 104.90) scale(0.9427 1)"><text x="0" y="0" font-size="82.75" font-family="Liberation Sans, Arial, sans-serif" font-weight="bold">Q3</text></g></g>
<g transform="translate(209.22 1879.00) scale(0.9603 1)"><text x="0" y="0" font-size="72.46" font-family="Liberation Sans, Arial, sans-serif" font-weight="bold">−140</text><rect x="45.86" y="-8.31" width="13.34" height="9.20" fill="#fff"/><rect x="69.21" y="-8.31" width="12.56" height="9.20" fill="#fff"/></g>
<g transform="translate(739.22 1884.00) scale(0.9603 1)"><text x="0" y="0" font-size="72.46" font-family="Liberation Sans, Arial, sans-serif" font-weight="bold">−120</text><rect x="45.86" y="-8.31" width="13.34" height="9.20" fill="#fff"/><rect x="69.21" y="-8.31" width="12.56" height="9.20" fill="#fff"/></g>
<g transform="translate(1262.24 1880.00) scale(0.9539 1)"><text x="0" y="0" font-size="72.46" font-family="Liberation Sans, Arial, sans-serif" font-weight="bold">−100</text><rect x="45.86" y="-8.31" width="13.34" height="9.20" fill="#fff"/><rect x="69.21" y="-8.31" width="12.56" height="9.20" fill="#fff"/></g>
<g transform="translate(1838.23 1879.50) scale(0.9476 1)"><text x="0" y="0" font-size="73.19" font-family="Liberation Sans, Arial, sans-serif" font-weight="bold">−80</text></g>
<g transform="translate(688.59 1974.00) scale(1.0127 1)"><text x="0" y="0" font-size="84.14" font-family="Liberation Sans, Arial, sans-serif" font-weight="bold">Chemical shift (ppm)</text></g>
</svg></body></html>
